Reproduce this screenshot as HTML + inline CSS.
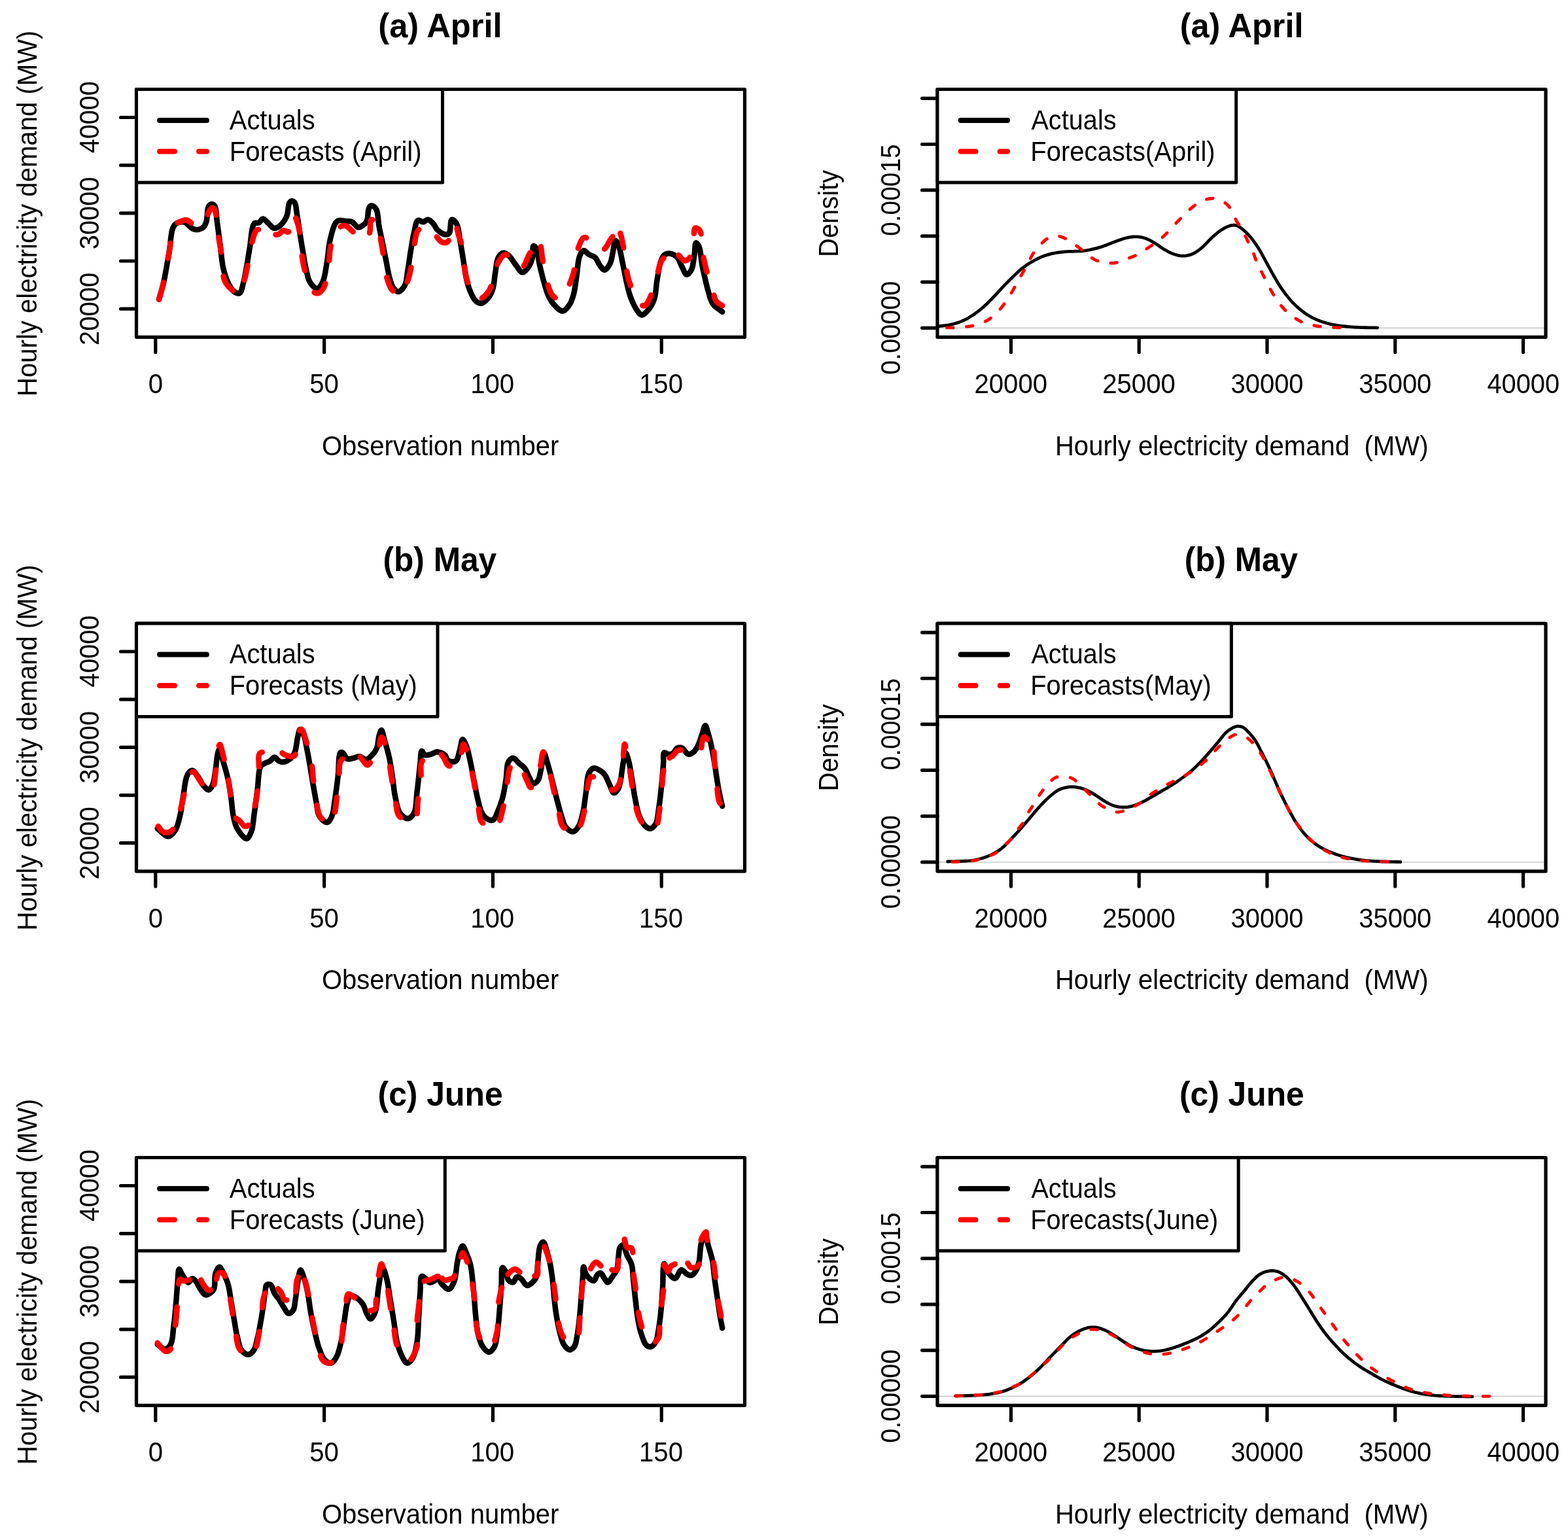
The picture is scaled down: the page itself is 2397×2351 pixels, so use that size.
<!DOCTYPE html>
<html><head><meta charset="utf-8"><title>Electricity demand forecasts</title>
<style>html,body{margin:0;padding:0;background:#fff}svg{display:block}</style>
</head><body>
<svg width="2397" height="2351" viewBox="0 0 2397 2351" font-family="&quot;Liberation Sans&quot;, Arial, sans-serif">
<rect width="2397" height="2351" fill="#fff"/>
<g>
<text x="578.3" y="56.8" textLength="189.29" lengthAdjust="spacingAndGlyphs" font-weight="bold" font-size="52">(a) April</text>
<text transform="translate(56,606.01) rotate(-90)" textLength="559.42" lengthAdjust="spacingAndGlyphs" font-size="42">Hourly electricity demand (MW)</text>
<line x1="184.6" y1="472.2" x2="208.5" y2="472.2" stroke="#000" stroke-width="5.2" stroke-linecap="round"/>
<line x1="184.6" y1="399.02" x2="208.5" y2="399.02" stroke="#000" stroke-width="5.2" stroke-linecap="round"/>
<line x1="184.6" y1="325.85" x2="208.5" y2="325.85" stroke="#000" stroke-width="5.2" stroke-linecap="round"/>
<line x1="184.6" y1="252.67" x2="208.5" y2="252.67" stroke="#000" stroke-width="5.2" stroke-linecap="round"/>
<line x1="184.6" y1="179.5" x2="208.5" y2="179.5" stroke="#000" stroke-width="5.2" stroke-linecap="round"/>
<text transform="translate(151,528.1) rotate(-90)" textLength="111.34" lengthAdjust="spacingAndGlyphs" font-size="42">20000</text>
<text transform="translate(151,381.24) rotate(-90)" textLength="110.82" lengthAdjust="spacingAndGlyphs" font-size="42">30000</text>
<text transform="translate(151,234.29) rotate(-90)" textLength="110.21" lengthAdjust="spacingAndGlyphs" font-size="42">40000</text>
<line x1="237.79" y1="517.5" x2="237.79" y2="538.4" stroke="#000" stroke-width="5.2" stroke-linecap="round"/>
<line x1="495.61" y1="517.5" x2="495.61" y2="538.4" stroke="#000" stroke-width="5.2" stroke-linecap="round"/>
<line x1="753.43" y1="517.5" x2="753.43" y2="538.4" stroke="#000" stroke-width="5.2" stroke-linecap="round"/>
<line x1="1011.25" y1="517.5" x2="1011.25" y2="538.4" stroke="#000" stroke-width="5.2" stroke-linecap="round"/>
<text x="226.64" y="601" textLength="22.35" lengthAdjust="spacingAndGlyphs" font-size="42">0</text>
<text x="473.26" y="601" textLength="44.7" lengthAdjust="spacingAndGlyphs" font-size="42">50</text>
<text x="719.17" y="601" textLength="67.05" lengthAdjust="spacingAndGlyphs" font-size="42">100</text>
<text x="976.99" y="601" textLength="67.05" lengthAdjust="spacingAndGlyphs" font-size="42">150</text>
<text x="491.9" y="695.8" textLength="362.41" lengthAdjust="spacingAndGlyphs" font-size="42">Observation number</text>
<rect x="208.5" y="136.5" width="930" height="378.8" fill="none" stroke="#000" stroke-width="5.2" stroke-linejoin="round"/>
<path d="M243.03,457.74 L244.23,453.48 L245.43,449.33 L246.63,445.17 L247.82,440.91 L249,436.45 L250.14,431.67 L251.59,424.88 L252.98,417.55 L254.35,409.86 L255.7,402.03 L257.06,394.22 L258.44,386.65 L259.58,378.96 L260.45,370.72 L261.32,362.52 L262.48,354.93 L264.19,348.56 L266.73,343.99 L268.72,342.17 L271.02,340.78 L273.52,339.81 L276.08,339.24 L278.6,339.06 L280.95,339.25 L283.27,340.12 L285.54,341.75 L287.77,343.8 L289.93,345.95 L292,347.86 L293.99,349.2 L295.24,349.79 L296.42,350.28 L297.57,350.67 L298.71,350.94 L299.88,351.09 L301.1,351.1 L302.66,350.92 L304.34,350.56 L306.05,350.03 L307.72,349.33 L309.25,348.5 L310.58,347.54 L311.64,346.5 L312.55,345.32 L313.34,344.02 L314.04,342.57 L314.69,340.98 L315.32,339.25 L316.1,335.79 L316.56,331.49 L316.9,326.83 L317.27,322.29 L317.87,318.37 L318.87,315.55 L319.55,314.56 L320.3,313.71 L321.11,313.01 L321.95,312.47 L322.79,312.13 L323.61,311.99 L324.42,312.07 L325.26,312.34 L326.1,312.78 L326.91,313.4 L327.67,314.16 L328.35,315.07 L329.43,317.66 L330.15,321.18 L330.64,325.37 L331.01,329.95 L331.39,334.67 L331.91,339.25 L332.67,344.78 L333.45,350.59 L334.25,356.59 L335.05,362.69 L335.85,368.79 L336.65,374.8 L337.38,380.83 L338.05,387 L338.72,393.17 L339.45,399.21 L340.32,404.98 L341.38,410.34 L342.35,414.31 L343.39,418.1 L344.5,421.72 L345.72,425.18 L347.04,428.5 L348.49,431.67 L349.87,434.43 L351.33,437.19 L352.88,439.83 L354.51,442.25 L356.21,444.31 L357.97,445.89 L359.32,446.79 L360.77,447.58 L362.25,448.2 L363.71,448.56 L365.07,448.61 L366.27,448.26 L367.68,446.9 L368.82,444.6 L369.78,441.65 L370.61,438.32 L371.39,434.9 L372.19,431.67 L373.13,428.02 L373.96,424.2 L374.74,420.25 L375.47,416.21 L376.19,412.11 L376.93,407.97 L377.73,403.44 L378.5,398.84 L379.25,394.17 L380.01,389.41 L380.81,384.54 L381.67,379.54 L382.61,372.96 L383.43,365.48 L384.3,357.84 L385.38,350.82 L386.82,345.16 L388.78,341.62 L389.84,340.94 L391.03,340.7 L392.28,340.71 L393.55,340.79 L394.77,340.76 L395.89,340.43 L396.97,339.6 L397.95,338.4 L398.88,337.08 L399.81,335.84 L400.77,334.91 L401.82,334.51 L403.1,334.79 L404.46,335.65 L405.87,336.9 L407.3,338.36 L408.72,339.83 L410.11,341.14 L411.51,342.49 L412.9,344.01 L414.29,345.55 L415.67,346.96 L417.04,348.07 L418.41,348.73 L419.4,348.9 L420.4,348.87 L421.39,348.69 L422.37,348.39 L423.35,347.99 L424.33,347.54 L425.54,346.88 L426.76,346.06 L427.97,345.1 L429.17,344.03 L430.33,342.86 L431.44,341.62 L432.77,339.98 L434.08,338.19 L435.34,336.25 L436.52,334.19 L437.6,332.02 L438.55,329.77 L439.39,326.73 L439.96,323.26 L440.37,319.63 L440.78,316.15 L441.31,313.11 L442.11,310.81 L442.62,309.91 L443.16,309.1 L443.74,308.41 L444.35,307.86 L444.99,307.46 L445.66,307.25 L446.41,307.24 L447.23,307.4 L448.08,307.74 L448.93,308.23 L449.71,308.86 L450.4,309.62 L451.38,311.52 L452.08,314.08 L452.6,317.11 L453.02,320.46 L453.44,323.95 L453.95,327.4 L454.74,332.05 L455.52,337.08 L456.31,342.35 L457.1,347.72 L457.89,353.05 L458.69,358.21 L459.47,363.03 L460.25,367.82 L461.04,372.58 L461.83,377.3 L462.63,381.99 L463.43,386.65 L464.19,391.11 L464.92,395.59 L465.65,400.03 L466.42,404.4 L467.25,408.64 L468.17,412.71 L468.98,416.17 L469.76,419.59 L470.58,422.93 L471.53,426.1 L472.67,429.04 L474.1,431.67 L475.6,433.84 L477.34,436.03 L479.23,438.05 L481.16,439.71 L483.04,440.81 L484.76,441.15 L486.28,440.7 L487.76,439.61 L489.2,438.03 L490.58,436.09 L491.87,433.93 L493.06,431.67 L494.74,427.41 L496.11,422.24 L497.26,416.47 L498.27,410.38 L499.21,404.29 L500.17,398.49 L501.01,392.93 L501.66,387.3 L502.25,381.66 L502.9,376.08 L503.75,370.61 L504.91,365.32 L506.21,360.19 L507.62,354.75 L509.2,349.42 L511.01,344.59 L513.11,340.67 L515.57,338.06 L517.49,337.2 L519.64,336.93 L521.93,337.06 L524.24,337.41 L526.5,337.81 L528.61,338.06 L530.29,338.13 L531.92,338.17 L533.51,338.24 L535.07,338.4 L536.59,338.71 L538.09,339.25 L539.76,340.36 L541.37,341.97 L542.95,343.79 L544.5,345.52 L546.03,346.87 L547.57,347.54 L548.78,347.55 L550.01,347.25 L551.23,346.71 L552.43,346.01 L553.58,345.24 L554.68,344.46 L555.79,343.64 L556.88,342.76 L557.92,341.8 L558.9,340.71 L559.8,339.47 L560.6,338.06 L561.52,335.23 L562.1,331.63 L562.49,327.69 L562.86,323.81 L563.36,320.42 L564.15,317.92 L564.66,317.01 L565.19,316.19 L565.76,315.48 L566.36,314.93 L567.01,314.55 L567.71,314.36 L568.77,314.45 L569.99,314.88 L571.29,315.61 L572.58,316.58 L573.79,317.76 L574.82,319.1 L576.2,322.25 L577.13,326.39 L577.77,331.19 L578.29,336.34 L578.83,341.51 L579.56,346.36 L580.49,351.1 L581.48,355.89 L582.5,360.7 L583.53,365.49 L584.53,370.2 L585.48,374.8 L586.3,378.84 L587.09,382.77 L587.85,386.65 L588.62,390.52 L589.4,394.45 L590.22,398.49 L591.14,403.21 L592.05,408.17 L592.98,413.2 L593.96,418.12 L595,422.76 L596.15,426.93 L597.01,429.72 L597.87,432.41 L598.77,434.95 L599.74,437.28 L600.83,439.37 L602.07,441.15 L603.12,442.36 L604.26,443.51 L605.46,444.52 L606.7,445.31 L607.95,445.79 L609.18,445.89 L610.78,445.39 L612.48,444.26 L614.2,442.66 L615.86,440.72 L617.37,438.59 L618.66,436.41 L619.99,433.23 L620.94,429.56 L621.64,425.55 L622.2,421.32 L622.75,417 L623.4,412.71 L624.23,407.79 L625.02,402.65 L625.79,397.4 L626.56,392.13 L627.34,386.94 L628.14,381.91 L628.89,377.38 L629.61,372.88 L630.35,368.45 L631.12,364.11 L631.96,359.9 L632.88,355.84 L633.68,352.17 L634.43,348.26 L635.24,344.45 L636.17,341.06 L637.33,338.42 L638.81,336.88 L640,336.66 L641.35,337.02 L642.79,337.71 L644.27,338.48 L645.73,339.07 L647.1,339.25 L648.33,338.89 L649.53,338.17 L650.7,337.3 L651.86,336.46 L653.03,335.86 L654.21,335.69 L655.61,336.08 L657.06,336.9 L658.5,338.04 L659.92,339.36 L661.26,340.75 L662.51,342.09 L663.6,343.47 L664.53,344.99 L665.39,346.58 L666.27,348.18 L667.26,349.7 L668.43,351.1 L670,352.55 L671.79,354 L673.71,355.38 L675.64,356.6 L677.47,357.57 L679.09,358.21 L679.98,358.43 L680.82,358.55 L681.62,358.58 L682.4,358.53 L683.13,358.4 L683.83,358.21 L684.45,357.99 L685.04,357.74 L685.6,357.42 L686.13,357.01 L686.64,356.49 L687.11,355.84 L687.91,353.27 L688.37,349.36 L688.69,344.88 L689.05,340.6 L689.65,337.28 L690.66,335.69 L691.66,335.69 L692.85,336.24 L694.15,337.22 L695.47,338.52 L696.7,340.03 L697.77,341.62 L699.27,345.03 L700.42,349.39 L701.34,354.4 L702.13,359.72 L702.88,365.04 L703.7,370.06 L704.56,374.79 L705.36,379.53 L706.14,384.27 L706.9,389.01 L707.66,393.75 L708.44,398.49 L709.2,403.31 L709.92,408.2 L710.64,413.1 L711.4,417.91 L712.24,422.55 L713.18,426.93 L714.02,430.38 L714.9,433.69 L715.82,436.89 L716.81,439.99 L717.9,442.98 L719.1,445.89 L720.29,448.56 L721.54,451.25 L722.87,453.86 L724.28,456.28 L725.79,458.4 L727.4,460.11 L728.67,461.16 L730.01,462.08 L731.41,462.84 L732.83,463.39 L734.27,463.68 L735.69,463.67 L737.48,463.14 L739.35,462.1 L741.24,460.68 L743.07,458.99 L744.8,457.18 L746.36,455.37 L747.85,453.37 L749.21,451.2 L750.44,448.89 L751.55,446.43 L752.55,443.85 L753.47,441.15 L754.38,437.6 L755.03,433.76 L755.53,429.73 L755.96,425.6 L756.43,421.48 L757.02,417.45 L757.66,413.32 L758.23,408.98 L758.84,404.63 L759.57,400.51 L760.52,396.81 L761.76,393.75 L762.74,392.07 L763.83,390.5 L765.01,389.1 L766.26,387.95 L767.55,387.11 L768.87,386.65 L770.17,386.59 L771.53,386.88 L772.93,387.45 L774.36,388.23 L775.78,389.17 L777.17,390.2 L779.17,392.1 L781.18,394.56 L783.17,397.34 L785.14,400.26 L787.09,403.08 L789.02,405.6 L790.62,407.75 L792.2,410.08 L793.75,412.34 L795.31,414.29 L796.89,415.68 L798.49,416.27 L800.09,415.96 L801.76,414.98 L803.44,413.5 L805.08,411.72 L806.61,409.81 L807.97,407.97 L809.29,405.94 L810.46,403.71 L811.5,401.33 L812.41,398.85 L813.21,396.31 L813.9,393.75 L814.37,390.58 L814.53,386.87 L814.55,383.09 L814.62,379.7 L814.89,377.18 L815.56,375.98 L816.15,375.96 L816.85,376.26 L817.62,376.84 L818.41,377.62 L819.16,378.54 L819.82,379.54 L820.92,382.19 L821.76,385.73 L822.44,389.88 L823.07,394.37 L823.74,398.91 L824.56,403.23 L825.62,407.88 L826.75,412.69 L827.93,417.57 L829.15,422.43 L830.4,427.16 L831.67,431.67 L832.76,435.48 L833.83,439.23 L834.93,442.88 L836.08,446.41 L837.36,449.8 L838.78,453 L840.14,455.67 L841.59,458.24 L843.11,460.71 L844.73,463.03 L846.44,465.21 L848.26,467.22 L850.08,469.08 L852.05,470.98 L854.11,472.77 L856.18,474.24 L858.2,475.22 L860.11,475.52 L861.82,475.09 L863.5,474.09 L865.15,472.65 L866.73,470.93 L868.22,469.08 L869.59,467.22 L871.08,464.94 L872.41,462.42 L873.62,459.71 L874.72,456.82 L875.74,453.78 L876.7,450.63 L877.77,446.39 L878.64,441.81 L879.38,437.01 L880.05,432.07 L880.72,427.1 L881.44,422.19 L882.16,416.89 L882.77,411.25 L883.38,405.57 L884.08,400.16 L884.98,395.33 L886.18,391.38 L887.01,389.45 L887.89,387.59 L888.85,385.92 L889.87,384.55 L890.95,383.57 L892.11,383.09 L893.34,383.27 L894.66,384.06 L896.04,385.24 L897.47,386.61 L898.93,387.94 L900.4,389.02 L901.96,389.82 L903.6,390.5 L905.27,391.14 L906.91,391.83 L908.46,392.68 L909.88,393.75 L911.28,395.38 L912.49,397.34 L913.6,399.49 L914.67,401.68 L915.77,403.77 L916.99,405.6 L918.12,407.12 L919.28,408.72 L920.47,410.25 L921.67,411.54 L922.89,412.41 L924.1,412.71 L925.51,412.26 L926.99,411.11 L928.47,409.44 L929.91,407.46 L931.24,405.32 L932.39,403.23 L933.55,400.52 L934.47,397.46 L935.21,394.18 L935.85,390.8 L936.47,387.46 L937.13,384.28 L937.73,381.09 L938.24,377.52 L938.73,373.97 L939.26,370.87 L939.89,368.64 L940.69,367.69 L941.38,367.89 L942.16,368.67 L942.99,369.88 L943.83,371.39 L944.66,373.08 L945.43,374.8 L946.78,378.64 L948.03,383.44 L949.21,388.86 L950.34,394.59 L951.44,400.28 L952.54,405.6 L953.56,410.46 L954.54,415.32 L955.5,420.16 L956.45,424.92 L957.43,429.56 L958.46,434.04 L959.37,437.81 L960.24,441.47 L961.14,445.03 L962.1,448.53 L963.17,451.97 L964.39,455.37 L965.74,458.76 L967.24,462.21 L968.84,465.61 L970.5,468.84 L972.19,471.79 L973.87,474.33 L975.01,475.95 L976.14,477.55 L977.29,479.01 L978.47,480.22 L979.7,481.07 L980.98,481.44 L982.47,481.21 L984.07,480.41 L985.71,479.18 L987.36,477.66 L988.96,476 L990.46,474.33 L992.26,472.13 L994.02,469.67 L995.69,466.98 L997.26,464.08 L998.68,460.99 L999.94,457.74 L1001.19,453.22 L1002.08,448.22 L1002.73,442.93 L1003.3,437.5 L1003.9,432.11 L1004.68,426.93 L1005.53,421.93 L1006.39,416.76 L1007.28,411.62 L1008.24,406.72 L1009.34,402.28 L1010.6,398.49 L1011.44,396.45 L1012.28,394.56 L1013.17,392.83 L1014.15,391.31 L1015.26,390.03 L1016.52,389.02 L1017.89,388.32 L1019.43,387.84 L1021.07,387.57 L1022.75,387.48 L1024.42,387.57 L1026,387.83 L1027.67,388.32 L1029.34,389.05 L1031,389.98 L1032.59,391.1 L1034.1,392.36 L1035.48,393.75 L1036.93,395.69 L1038.17,397.98 L1039.29,400.48 L1040.35,403.06 L1041.43,405.6 L1042.59,407.97 L1043.74,410.28 L1044.88,412.83 L1046.04,415.35 L1047.22,417.54 L1048.44,419.13 L1049.7,419.82 L1050.87,419.63 L1052.12,418.87 L1053.4,417.66 L1054.64,416.15 L1055.8,414.45 L1056.81,412.71 L1058.07,409.62 L1059.04,405.83 L1059.79,401.62 L1060.41,397.24 L1060.97,392.95 L1061.55,389.02 L1061.97,385.53 L1062.24,381.7 L1062.46,377.94 L1062.75,374.66 L1063.2,372.29 L1063.92,371.24 L1064.58,371.36 L1065.37,371.98 L1066.23,372.97 L1067.11,374.24 L1067.93,375.68 L1068.66,377.17 L1069.79,380.66 L1070.66,385.15 L1071.36,390.25 L1071.99,395.61 L1072.64,400.85 L1073.4,405.6 L1074.16,409.36 L1074.93,413 L1075.72,416.55 L1076.52,420.04 L1077.33,423.49 L1078.14,426.93 L1078.89,430.17 L1079.62,433.35 L1080.36,436.51 L1081.13,439.64 L1081.96,442.77 L1082.88,445.89 L1083.84,449.15 L1084.79,452.49 L1085.8,455.81 L1086.95,459.04 L1088.32,462.08 L1089.99,464.85 L1091.94,467.18 L1094.19,469.26 L1096.65,471.16 L1099.2,472.98 L1101.76,474.8 L1104.21,476.7" fill="none" stroke="#000" stroke-width="8.5" stroke-linecap="round" stroke-linejoin="round"/>
<path d="M243.03,457.74 L244.23,453.48" fill="none" stroke="#f00" stroke-width="8.5" stroke-linecap="round" stroke-linejoin="round" stroke-dasharray="22.7 37.3"/>
<path d="M244.23,453.48 L245.43,449.33 L246.63,445.17 L247.82,440.91 L249,436.45 L250.14,431.67 L251.59,424.87 L252.98,417.52 L254.34,409.82 L255.69,401.98 L257.05,394.18" fill="none" stroke="#f00" stroke-width="8.5" stroke-linecap="round" stroke-linejoin="round" stroke-dasharray="22.7 37.3"/>
<path d="M257.05,394.18 L258.44,386.65 L259.64,379.2 L260.65,371.33 L261.67,363.5 L262.9,356.2 L264.52,349.93 L266.73,345.17 L268.27,343.28 L269.99,341.77 L271.83,340.57" fill="none" stroke="#f00" stroke-width="8.5" stroke-linecap="round" stroke-linejoin="round" stroke-dasharray="22.7 37.3"/>
<path d="M271.83,340.57 L273.72,339.6 L275.6,338.79 L277.4,338.06 L278.8,337.5 L280.19,336.99 L281.57,336.59 L282.95,336.33 L284.32,336.25 L285.69,336.4 L287.27,336.98 L288.82,337.98 L290.36,339.22 L291.92,340.55 L293.52,341.8 L295.17,342.8 L296.91,343.71 L298.75,344.68 L300.62,345.57 L302.47,346.25 L304.23,346.56 L305.84,346.36 L307.45,345.39 L308.9,343.75 L310.24,341.64 L311.52,339.26 L312.8,336.82 L314.13,334.51 L315.74,331.62 L317.37,328.22 L319,324.74" fill="none" stroke="#f00" stroke-width="8.5" stroke-linecap="round" stroke-linejoin="round" stroke-dasharray="22.7 37.3"/>
<path d="M319,324.74 L320.6,321.59 L322.15,319.17 L323.61,317.92 L324.24,317.77 L324.87,317.79 L325.48,317.96 L326.08,318.24 L326.64,318.63 L327.17,319.1 L327.96,320.18 L328.64,321.62 L329.22,323.36 L329.74,325.34 L330.23,327.5 L330.72,329.77 L331.49,334.3 L332.11,339.71 L332.64,345.65 L333.14,351.74 L333.67,357.63 L334.28,362.95" fill="none" stroke="#f00" stroke-width="8.5" stroke-linecap="round" stroke-linejoin="round" stroke-dasharray="22.7 37.3"/>
<path d="M334.28,362.95 L334.84,366.71 L335.44,370.18 L336.06,373.52 L336.68,376.88 L337.27,380.42 L337.83,384.28 L338.43,390.22 L338.9,396.92 L339.32,403.93 L339.81,410.79 L340.47,417.03 L341.38,422.19 L342.01,424.63 L342.65,426.79" fill="none" stroke="#f00" stroke-width="8.5" stroke-linecap="round" stroke-linejoin="round" stroke-dasharray="22.7 37.3"/>
<path d="M342.65,426.79 L343.35,428.74 L344.14,430.56 L345.05,432.3 L346.12,434.04 L347.44,435.84 L348.95,437.61 L350.59,439.29 L352.29,440.87 L353.99,442.29 L355.6,443.52 L356.81,444.43 L358.01,445.36 L359.21,446.19 L360.4,446.83 L361.57,447.16 L362.71,447.08 L364.43,446.01 L366.13,443.96 L367.8,441.22 L369.39,438.07 L370.87,434.8 L372.19,431.67 L373.51,428.13" fill="none" stroke="#f00" stroke-width="8.5" stroke-linecap="round" stroke-linejoin="round" stroke-dasharray="22.7 37.3"/>
<path d="M373.51,428.13 L374.6,424.39 L375.55,420.47 L376.41,416.41 L377.24,412.24 L378.12,407.97 L379.11,402.7 L379.98,397.11 L380.82,391.35 L381.72,385.6 L382.76,380.02 L384.04,374.8 L385.29,370.15" fill="none" stroke="#f00" stroke-width="8.5" stroke-linecap="round" stroke-linejoin="round" stroke-dasharray="22.7 37.3"/>
<path d="M385.29,370.15 L386.59,365.22 L388,360.42 L389.58,356.18 L391.4,352.93 L393.52,351.1 L395.25,350.88 L397.14,351.44 L399.16,352.5 L401.24,353.77 L403.33,354.98 L405.37,355.84 L407.35,356.39 L409.37,356.89 L411.4,357.32 L413.41,357.69 L415.36,357.99 L417.22,358.21 L418.69,358.37 L420.12,358.53 L421.5,358.63" fill="none" stroke="#f00" stroke-width="8.5" stroke-linecap="round" stroke-linejoin="round" stroke-dasharray="22.7 37.3"/>
<path d="M421.5,358.63 L422.86,358.65 L424.19,358.52 L425.52,358.21 L426.95,357.47 L428.35,356.35 L429.72,355.05 L431.08,353.79 L432.44,352.8 L433.81,352.28 L435.02,352.41 L436.25,352.97 L437.48,353.72 L438.69,354.42 L439.84,354.81 L440.92,354.65 L442.67,352.14 L444.15,347.36 L445.44,341.51 L446.65,335.82 L447.87,331.5 L449.22,329.77 L450.62,330.76 L452.12,333.45" fill="none" stroke="#f00" stroke-width="8.5" stroke-linecap="round" stroke-linejoin="round" stroke-dasharray="22.7 37.3"/>
<path d="M452.12,333.45 L453.63,337.35 L455.08,341.92 L456.4,346.68 L457.51,351.1 L458.52,356.52 L459.18,362.42 L459.63,368.61 L460,374.85 L460.44,380.93 L461.06,386.65 L461.71,391.21" fill="none" stroke="#f00" stroke-width="8.5" stroke-linecap="round" stroke-linejoin="round" stroke-dasharray="22.7 37.3"/>
<path d="M461.71,391.21 L462.36,395.59 L463.05,399.84 L463.82,404.06 L464.73,408.32 L465.8,412.71 L467.16,418.07 L468.66,423.9 L470.31,429.78 L472.14,435.3 L474.19,440.02 L476.47,443.52 L477.92,445 L479.48,446.25 L481.12,447.25 L482.77,447.95" fill="none" stroke="#f00" stroke-width="8.5" stroke-linecap="round" stroke-linejoin="round" stroke-dasharray="22.7 37.3"/>
<path d="M482.77,447.95 L484.4,448.3 L485.95,448.26 L487.65,447.7 L489.35,446.6 L491.01,445.08 L492.6,443.2 L494.09,441.08 L495.43,438.78 L497.26,434.25 L498.7,428.63 L499.85,422.32 L500.8,415.72 L501.67,409.23 L502.54,403.23 L503.18,398.3" fill="none" stroke="#f00" stroke-width="8.5" stroke-linecap="round" stroke-linejoin="round" stroke-dasharray="22.7 37.3"/>
<path d="M503.18,398.3 L503.58,393.46 L503.91,388.71 L504.34,384.03 L505.01,379.39 L506.09,374.8 L507.66,369.8 L509.56,364.48 L511.73,359.21 L514.09,354.37 L516.58,350.36 L519.13,347.54 L520.62,346.49" fill="none" stroke="#f00" stroke-width="8.5" stroke-linecap="round" stroke-linejoin="round" stroke-dasharray="22.7 37.3"/>
<path d="M520.62,346.49 L522.17,345.72 L523.77,345.21 L525.39,344.95 L527.01,344.94 L528.61,345.17 L530.56,346.02 L532.5,347.53 L534.45,349.41 L536.41,351.41 L538.4,353.25 L540.46,354.65 L542.37,355.56 L544.32,356.3 L546.31,356.92 L548.31,357.43 L550.32,357.85 L552.31,358.21 L554.28,358.61 L556.36,359.08 L558.43,359.47 L560.41,359.64 L562.19,359.42 L563.68,358.68 L565.08,356" fill="none" stroke="#f00" stroke-width="8.5" stroke-linecap="round" stroke-linejoin="round" stroke-dasharray="22.7 37.3"/>
<path d="M565.08,356 L565.76,351.61 L566.04,346.44 L566.24,341.44 L566.69,337.55 L567.71,335.69 L568.72,335.7 L569.91,336.29 L571.2,337.31 L572.5,338.64 L573.74,340.12 L574.82,341.62 L576.14,344.03 L577.25,346.91 L578.22,350.12 L579.09,353.56 L579.92,357.08 L580.74,360.58 L581.67,364.62" fill="none" stroke="#f00" stroke-width="8.5" stroke-linecap="round" stroke-linejoin="round" stroke-dasharray="22.7 37.3"/>
<path d="M581.67,364.62 L582.51,368.82 L583.29,373.13 L584.02,377.55 L584.75,382.06 L585.48,386.65 L586.23,392.01 L586.87,397.64 L587.48,403.38 L588.18,409.09 L589.06,414.62 L590.22,419.82 L591.43,424.34" fill="none" stroke="#f00" stroke-width="8.5" stroke-linecap="round" stroke-linejoin="round" stroke-dasharray="22.7 37.3"/>
<path d="M591.43,424.34 L592.75,429 L594.2,433.51 L595.82,437.62 L597.65,441.05 L599.7,443.52 L601.13,444.58 L602.67,445.37 L604.29,445.91 L605.95,446.18 L607.59,446.18 L609.18,445.89 L611.26,444.98 L613.38,443.45 L615.49,441.46 L617.51,439.13 L619.38,436.61 L621.03,434.04 L622.71,430.74" fill="none" stroke="#f00" stroke-width="8.5" stroke-linecap="round" stroke-linejoin="round" stroke-dasharray="22.7 37.3"/>
<path d="M622.71,430.74 L624.1,427.06 L625.26,423.11 L626.28,418.95 L627.21,414.67 L628.14,410.34 L629.11,405.11 L629.88,399.57 L630.54,393.86 L631.19,388.12 L631.94,382.51 L632.88,377.17 L633.76,372.23" fill="none" stroke="#f00" stroke-width="8.5" stroke-linecap="round" stroke-linejoin="round" stroke-dasharray="22.7 37.3"/>
<path d="M633.76,372.23 L634.57,366.98 L635.46,361.82 L636.57,357.18 L638.03,353.46 L639.99,351.1 L641.64,350.39 L643.54,350.24 L645.6,350.5 L647.72,351.02 L649.83,351.66 L651.84,352.28 L653.87,352.94 L655.89,353.74 L657.88,354.67 L659.86,355.73 L661.79,356.91 L663.69,358.21 L665.76,360.02 L667.76,362.26" fill="none" stroke="#f00" stroke-width="8.5" stroke-linecap="round" stroke-linejoin="round" stroke-dasharray="22.7 37.3"/>
<path d="M667.76,362.26 L669.72,364.66 L671.65,366.93 L673.59,368.82 L675.54,370.06 L676.93,370.56 L678.34,370.91 L679.74,371.07 L681.14,371.01 L682.5,370.68 L683.83,370.06 L686.21,367.3 L688.57,362.6 L690.85,357.05 L692.99,351.76 L694.92,347.83 L696.59,346.36 L697.62,347.18 L698.49,349.19" fill="none" stroke="#f00" stroke-width="8.5" stroke-linecap="round" stroke-linejoin="round" stroke-dasharray="22.7 37.3"/>
<path d="M698.49,349.19 L699.24,351.95 L699.93,355.04 L700.61,358.06 L701.33,360.58 L701.95,362.2 L702.56,363.64 L703.17,365.03 L703.76,366.49 L704.34,368.12 L704.88,370.06 L705.81,374.73 L706.61,380.46 L707.34,386.84 L708.05,393.44 L708.8,399.84 L709.62,405.6 L710.31,409.85" fill="none" stroke="#f00" stroke-width="8.5" stroke-linecap="round" stroke-linejoin="round" stroke-dasharray="22.7 37.3"/>
<path d="M710.31,409.85 L710.95,413.9 L711.61,417.81 L712.35,421.65 L713.25,425.46 L714.36,429.3 L715.74,433.56 L717.28,438.09 L718.98,442.59 L720.84,446.78 L722.86,450.35 L725.03,453 L726.48,454.23 L728.01,455.25 L729.6,456.03 L731.23,456.53 L732.87,456.72 L734.51,456.56 L736.89,455.6" fill="none" stroke="#f00" stroke-width="8.5" stroke-linecap="round" stroke-linejoin="round" stroke-dasharray="22.7 37.3"/>
<path d="M736.89,455.6 L739.4,453.85 L741.94,451.47 L744.4,448.65 L746.7,445.54 L748.73,442.34 L750.83,437.49 L752.36,431.74 L753.59,425.49 L754.8,419.17 L756.24,413.2 L758.21,407.97 L760.23,403.95" fill="none" stroke="#f00" stroke-width="8.5" stroke-linecap="round" stroke-linejoin="round" stroke-dasharray="22.7 37.3"/>
<path d="M760.23,403.95 L762.49,399.78 L764.91,395.85 L767.42,392.5 L769.95,390.1 L772.43,389.02 L774.36,389.33 L776.29,390.57 L778.23,392.42 L780.2,394.56 L782.21,396.69 L784.28,398.49 L786.59,400.4 L789.03,402.62 L791.52,404.83 L793.98,406.68 L796.33,407.84 L798.49,407.97 L800.75,406.41" fill="none" stroke="#f00" stroke-width="8.5" stroke-linecap="round" stroke-linejoin="round" stroke-dasharray="22.7 37.3"/>
<path d="M800.75,406.41 L802.71,403.28 L804.52,399.16 L806.31,394.63 L808.2,390.27 L810.34,386.65 L812.63,383.6 L815.19,380.28 L817.84,377.09 L820.4,374.45 L822.7,372.76 L824.56,372.43 L826,373.94 L826.95,377.1" fill="none" stroke="#f00" stroke-width="8.5" stroke-linecap="round" stroke-linejoin="round" stroke-dasharray="22.7 37.3"/>
<path d="M826.95,377.1 L827.58,381.41 L828.07,386.35 L828.59,391.42 L829.3,396.12 L830.34,401.75 L831.37,407.81 L832.44,414.07 L833.6,420.29 L834.91,426.24 L836.41,431.67 L837.72,435.82" fill="none" stroke="#f00" stroke-width="8.5" stroke-linecap="round" stroke-linejoin="round" stroke-dasharray="22.7 37.3"/>
<path d="M837.72,435.82 L839.07,439.97 L840.51,443.93 L842.09,447.55 L843.87,450.63 L845.89,453 L847.5,454.28 L849.28,455.37 L851.15,456.2 L853.03,456.71 L854.86,456.85 L856.56,456.56 L858.56,455.35 L860.46,453.26 L862.25,450.55 L863.97,447.46 L865.62,444.24 L867.22,441.15 L869.02,437.63 L870.74,433.95" fill="none" stroke="#f00" stroke-width="8.5" stroke-linecap="round" stroke-linejoin="round" stroke-dasharray="22.7 37.3"/>
<path d="M870.74,433.95 L872.37,430.09 L873.91,426.06 L875.35,421.85 L876.7,417.45 L878.09,411.5 L879.17,404.91 L880.1,398.05 L881.07,391.29 L882.25,384.99 L883.81,379.54" fill="none" stroke="#f00" stroke-width="8.5" stroke-linecap="round" stroke-linejoin="round" stroke-dasharray="22.7 37.3"/>
<path d="M883.81,379.54 L885.11,375.97 L886.49,372.37 L887.96,369.01 L889.57,366.14 L891.34,364.03 L893.29,362.95 L895.36,363.11 L897.65,364.29 L900.08,366.16 L902.58,368.36 L905.08,370.56 L907.51,372.43 L909.91,374.28 L912.34,376.46 L914.78,378.64 L917.18,380.49 L919.51,381.69 L921.73,381.91 L924.1,380.65" fill="none" stroke="#f00" stroke-width="8.5" stroke-linecap="round" stroke-linejoin="round" stroke-dasharray="22.7 37.3"/>
<path d="M924.1,380.65 L926.34,378.08 L928.49,374.66 L930.58,370.87 L932.66,367.2 L934.76,364.13 L936.61,361.67 L938.51,358.94 L940.39,356.31 L942.21,354.09 L943.91,352.64 L945.43,352.28 L947.02,353.62 L948.38,356.57" fill="none" stroke="#f00" stroke-width="8.5" stroke-linecap="round" stroke-linejoin="round" stroke-dasharray="22.7 37.3"/>
<path d="M948.38,356.57 L949.57,360.65 L950.62,365.37 L951.6,370.25 L952.54,374.8 L953.55,380.31 L954.35,386.28 L955.02,392.5 L955.66,398.73 L956.38,404.75 L957.28,410.34 L958.09,414.57" fill="none" stroke="#f00" stroke-width="8.5" stroke-linecap="round" stroke-linejoin="round" stroke-dasharray="22.7 37.3"/>
<path d="M958.09,414.57 L958.88,418.55 L959.72,422.38 L960.68,426.18 L961.82,430.03 L963.2,434.04 L965.25,439.42 L967.67,445.4 L970.35,451.46 L973.15,457.07 L975.95,461.71 L978.61,464.85 L979.81,465.8 L981.02,466.56 L982.23,467.1" fill="none" stroke="#f00" stroke-width="8.5" stroke-linecap="round" stroke-linejoin="round" stroke-dasharray="22.7 37.3"/>
<path d="M982.23,467.1 L983.43,467.41 L984.6,467.46 L985.72,467.22 L987.24,466.26 L988.69,464.59 L990.07,462.38 L991.41,459.81 L992.71,457.02 L994.01,454.19 L995.94,449.4 L997.77,443.79 L999.54,437.69 L1001.27,431.44 L1002.97,425.38 L1004.68,419.82 L1005.99,415.38" fill="none" stroke="#f00" stroke-width="8.5" stroke-linecap="round" stroke-linejoin="round" stroke-dasharray="22.7 37.3"/>
<path d="M1005.99,415.38 L1007.16,410.85 L1008.31,406.44 L1009.58,402.38 L1011.09,398.87 L1012.97,396.12 L1014.5,394.77 L1016.19,393.77 L1017.99,393.03 L1019.86,392.45 L1021.75,391.93 L1023.63,391.38 L1025.57,390.72 L1027.58,390.02 L1029.62,389.38 L1031.64,388.93 L1033.61,388.77 L1035.48,389.02 L1037.4,390.06" fill="none" stroke="#f00" stroke-width="8.5" stroke-linecap="round" stroke-linejoin="round" stroke-dasharray="22.7 37.3"/>
<path d="M1037.4,390.06 L1039.23,391.87 L1041,394.02 L1042.72,396.11 L1044.43,397.74 L1046.15,398.49 L1047.59,398.46 L1049.07,398.07 L1050.54,397.37 L1051.96,396.4 L1053.27,395.18 L1054.44,393.75 L1056.14,390.14 L1057.39,385.17 L1058.32,379.41 L1059.04,373.41 L1059.68,367.73 L1060.37,362.95 L1060.74,360.01 L1060.95,357" fill="none" stroke="#f00" stroke-width="8.5" stroke-linecap="round" stroke-linejoin="round" stroke-dasharray="22.7 37.3"/>
<path d="M1060.95,357 L1061.12,354.14 L1061.38,351.65 L1061.88,349.77 L1062.74,348.73 L1063.69,348.52 L1064.89,348.71 L1066.2,349.22 L1067.54,350.02 L1068.79,351.06 L1069.85,352.28 L1071.45,356.18 L1072.41,361.83 L1072.97,368.57 L1073.37,375.78 L1073.83,382.81 L1074.59,389.02 L1075.44,393.61" fill="none" stroke="#f00" stroke-width="8.5" stroke-linecap="round" stroke-linejoin="round" stroke-dasharray="22.7 37.3"/>
<path d="M1075.44,393.61 L1076.34,397.98 L1077.28,402.23 L1078.28,406.43 L1079.35,410.68 L1080.51,415.08 L1081.95,420.22 L1083.55,425.62 L1085.25,431.09 L1086.94,436.42 L1088.55,441.42 L1089.99,445.89 L1090.79,448.66 L1091.44,451.28" fill="none" stroke="#f00" stroke-width="8.5" stroke-linecap="round" stroke-linejoin="round" stroke-dasharray="22.7 37.3"/>
<path d="M1091.44,451.28 L1092.06,453.76 L1092.74,456.06 L1093.59,458.19 L1094.73,460.11 L1096.02,461.6 L1097.52,462.87 L1099.16,463.99 L1100.87,465.04 L1102.57,466.1 L1104.21,467.22" fill="none" stroke="#f00" stroke-width="8.5" stroke-linecap="round" stroke-linejoin="round" stroke-dasharray="22.7 37.3"/>
<rect x="208.5" y="136.5" width="468" height="142.5" fill="#fff" stroke="#000" stroke-width="5" stroke-linejoin="round"/>
<line x1="244" y1="184" x2="316" y2="184" stroke="#000" stroke-width="7.8" stroke-linecap="round"/>
<line x1="244" y1="231.5" x2="316" y2="231.5" stroke="#f00" stroke-width="7.8" stroke-linecap="round" stroke-dasharray="23 37"/>
<text x="350.8" y="197.9" textLength="130.87" lengthAdjust="spacingAndGlyphs" font-size="42">Actuals</text>
<text x="350.8" y="245.7" textLength="293.79" lengthAdjust="spacingAndGlyphs" font-size="42">Forecasts (April)</text>
</g>
<g>
<text x="1803.7" y="56.8" textLength="188.77" lengthAdjust="spacingAndGlyphs" font-weight="bold" font-size="52">(a) April</text>
<text transform="translate(1281.2,392.89) rotate(-90)" textLength="132.97" lengthAdjust="spacingAndGlyphs" font-size="42">Density</text>
<line x1="1409.6" y1="501.3" x2="1433" y2="501.3" stroke="#000" stroke-width="5.2" stroke-linecap="round"/>
<line x1="1409.6" y1="431.1" x2="1433" y2="431.1" stroke="#000" stroke-width="5.2" stroke-linecap="round"/>
<line x1="1409.6" y1="360.9" x2="1433" y2="360.9" stroke="#000" stroke-width="5.2" stroke-linecap="round"/>
<line x1="1409.6" y1="290.7" x2="1433" y2="290.7" stroke="#000" stroke-width="5.2" stroke-linecap="round"/>
<line x1="1409.6" y1="220.5" x2="1433" y2="220.5" stroke="#000" stroke-width="5.2" stroke-linecap="round"/>
<line x1="1409.6" y1="150.3" x2="1433" y2="150.3" stroke="#000" stroke-width="5.2" stroke-linecap="round"/>
<text transform="translate(1375.7,572.78) rotate(-90)" textLength="143.06" lengthAdjust="spacingAndGlyphs" font-size="42">0.00000</text>
<text transform="translate(1375.7,360.86) rotate(-90)" textLength="140.5" lengthAdjust="spacingAndGlyphs" font-size="42">0.00015</text>
<line x1="1545.5" y1="517.5" x2="1545.5" y2="538.4" stroke="#000" stroke-width="5.2" stroke-linecap="round"/>
<text x="1489.39" y="601" textLength="111.75" lengthAdjust="spacingAndGlyphs" font-size="42">20000</text>
<line x1="1741.25" y1="517.5" x2="1741.25" y2="538.4" stroke="#000" stroke-width="5.2" stroke-linecap="round"/>
<text x="1685.14" y="601" textLength="111.75" lengthAdjust="spacingAndGlyphs" font-size="42">25000</text>
<line x1="1937" y1="517.5" x2="1937" y2="538.4" stroke="#000" stroke-width="5.2" stroke-linecap="round"/>
<text x="1881.4" y="601" textLength="111.23" lengthAdjust="spacingAndGlyphs" font-size="42">30000</text>
<line x1="2132.75" y1="517.5" x2="2132.75" y2="538.4" stroke="#000" stroke-width="5.2" stroke-linecap="round"/>
<text x="2077.15" y="601" textLength="111.23" lengthAdjust="spacingAndGlyphs" font-size="42">35000</text>
<line x1="2328.5" y1="517.5" x2="2328.5" y2="538.4" stroke="#000" stroke-width="5.2" stroke-linecap="round"/>
<text x="2273.5" y="601" textLength="110.62" lengthAdjust="spacingAndGlyphs" font-size="42">40000</text>
<text x="1612.89" y="695.7" textLength="570.64" lengthAdjust="spacingAndGlyphs" font-size="42">Hourly electricity demand &#160;(MW)</text>
<line x1="1433" y1="501.3" x2="2363" y2="501.3" stroke="#bebebe" stroke-width="1.2" stroke-linecap="butt"/>
<rect x="1433" y="136.5" width="930" height="378.8" fill="none" stroke="#000" stroke-width="5.2" stroke-linejoin="round"/>
<path d="M1434.2,498.94 L1438.06,498.38 L1441.97,497.87 L1445.88,497.36 L1449.73,496.79 L1453.48,496.14 L1457.06,495.34 L1460.07,494.52 L1462.97,493.63 L1465.79,492.67 L1468.54,491.63 L1471.24,490.51 L1473.9,489.32 L1476.41,488.1 L1478.83,486.82 L1481.21,485.46 L1483.56,484.03 L1485.93,482.51 L1488.34,480.9 L1491.14,478.94 L1493.99,476.84 L1496.86,474.63 L1499.7,472.34 L1502.49,470.01 L1505.18,467.67 L1507.7,465.36 L1510.15,463 L1512.54,460.6 L1514.9,458.16 L1517.25,455.7 L1519.62,453.23 L1522.04,450.67 L1524.44,448.05 L1526.83,445.41 L1529.23,442.77 L1531.63,440.16 L1534.05,437.59 L1536.44,435.12 L1538.83,432.68 L1541.23,430.26 L1543.64,427.87 L1546.06,425.5 L1548.49,423.16 L1550.87,420.86 L1553.24,418.56 L1555.63,416.29 L1558.03,414.07 L1560.46,411.94 L1562.92,409.92 L1565.26,408.14 L1567.61,406.46 L1569.98,404.85 L1572.39,403.29 L1574.85,401.78 L1577.36,400.3 L1580.05,398.76 L1582.81,397.24 L1585.63,395.77 L1588.47,394.37 L1591.34,393.06 L1594.2,391.88 L1596.96,390.86 L1599.72,389.94 L1602.5,389.12 L1605.3,388.37 L1608.15,387.69 L1611.04,387.07 L1614.16,386.49 L1617.34,386 L1620.56,385.59 L1623.81,385.24 L1627.06,384.93 L1630.29,384.66 L1633.53,384.46 L1636.81,384.34 L1640.09,384.28 L1643.33,384.21 L1646.49,384.11 L1649.54,383.94 L1652.05,383.74 L1654.44,383.53 L1656.77,383.3 L1659.1,383.02 L1661.48,382.68 L1663.97,382.25 L1667.04,381.66 L1670.21,380.96 L1673.46,380.18 L1676.74,379.33 L1680,378.41 L1683.22,377.44 L1686.45,376.37 L1689.66,375.18 L1692.86,373.94 L1696.06,372.67 L1699.26,371.41 L1702.47,370.22 L1705.7,369.05 L1708.97,367.84 L1712.24,366.65 L1715.47,365.53 L1718.65,364.54 L1721.72,363.73 L1724.22,363.17 L1726.66,362.68 L1729.05,362.29 L1731.41,362 L1733.77,361.84 L1736.15,361.8 L1738.57,361.9 L1740.99,362.12 L1743.42,362.46 L1745.83,362.92 L1748.22,363.51 L1750.59,364.21 L1753.04,365.11 L1755.48,366.18 L1757.89,367.39 L1760.28,368.69 L1762.66,370.05 L1765.03,371.43 L1767.46,372.93 L1769.86,374.55 L1772.24,376.24 L1774.63,377.92 L1777.03,379.55 L1779.46,381.05 L1781.83,382.42 L1784.21,383.77 L1786.61,385.06 L1789.02,386.26 L1791.45,387.34 L1793.9,388.27 L1796.27,389.04 L1798.66,389.74 L1801.08,390.32 L1803.5,390.77 L1805.92,391.05 L1808.33,391.16 L1810.75,391.08 L1813.19,390.83 L1815.62,390.43 L1818.04,389.87 L1820.43,389.15 L1822.77,388.27 L1825.26,387.1 L1827.72,385.69 L1830.14,384.1 L1832.52,382.37 L1834.88,380.53 L1837.21,378.65 L1839.68,376.46 L1842.09,374.07 L1844.46,371.57 L1846.83,369.03 L1849.21,366.55 L1851.64,364.21 L1854,362.05 L1856.37,359.9 L1858.75,357.81 L1861.16,355.8 L1863.6,353.91 L1866.08,352.18 L1868.45,350.67 L1870.9,349.21 L1873.38,347.86 L1875.84,346.66 L1878.23,345.68 L1880.51,344.96 L1882.18,344.57 L1883.8,344.29 L1885.38,344.14 L1886.93,344.12 L1888.47,344.26 L1890,344.58 L1891.66,345.16 L1893.3,345.97 L1894.91,346.98 L1896.51,348.13 L1898.12,349.37 L1899.75,350.67 L1901.77,352.36 L1903.83,354.23 L1905.89,356.24 L1907.94,358.37 L1909.96,360.58 L1911.93,362.85 L1914.05,365.44 L1916.13,368.15 L1918.17,370.97 L1920.18,373.87 L1922.16,376.86 L1924.12,379.91 L1926.22,383.37 L1928.27,386.97 L1930.28,390.66 L1932.28,394.41 L1934.28,398.15 L1936.3,401.84 L1938.33,405.52 L1940.34,409.21 L1942.36,412.91 L1944.38,416.58 L1946.42,420.21 L1948.49,423.78 L1950.46,427.13 L1952.42,430.43 L1954.4,433.7 L1956.42,436.93 L1958.5,440.12 L1960.67,443.27 L1962.96,446.44 L1965.32,449.61 L1967.75,452.74 L1970.23,455.79 L1972.75,458.74 L1975.29,461.55 L1977.65,464.01 L1980.05,466.37 L1982.47,468.65 L1984.93,470.84 L1987.41,472.94 L1989.91,474.95 L1992.28,476.77 L1994.65,478.5 L1997.05,480.16 L1999.48,481.74 L2001.97,483.26 L2004.53,484.7 L2007.24,486.11 L2010.01,487.43 L2012.83,488.69 L2015.71,489.86 L2018.63,490.97 L2021.59,492.01 L2024.74,493.01 L2027.95,493.93 L2031.21,494.77 L2034.51,495.54 L2037.8,496.24 L2041.09,496.88 L2044.32,497.44 L2047.57,497.92 L2050.82,498.33 L2054.07,498.69 L2057.33,499.01 L2060.58,499.32 L2063.8,499.6 L2066.98,499.84 L2070.16,500.05 L2073.38,500.23 L2076.67,500.39 L2080.08,500.54 L2084.14,500.68 L2088.35,500.77 L2092.65,500.84 L2097.01,500.9 L2101.36,500.96 L2105.66,501.03" fill="none" stroke="#000" stroke-width="4.8" stroke-linecap="round" stroke-linejoin="round"/>
<path d="M1447.44,500.87 L1449.84,500.89 L1452.25,500.92 L1454.66,500.96 L1457.06,500.98 L1459.47,500.95 L1461.87,500.87 L1464.28,500.72 L1466.69,500.53 L1469.1,500.3 L1471.5,500.03 L1473.91,499.74 L1476.31,499.43 L1478.7,499.12 L1481.07,498.83 L1483.43,498.51 L1485.82,498.13 L1488.25,497.65 L1490.74,497.02 L1493.87,496.1 L1497.15,495.03 L1500.49,493.81 L1503.8,492.46 L1507,490.96 L1509.99,489.32 L1512.64,487.61 L1515.17,485.74 L1517.6,483.74 L1519.93,481.65 L1522.2,479.49 L1524.43,477.29 L1526.58,475.06 L1528.65,472.77 L1530.66,470.41 L1532.61,467.97 L1534.54,465.46 L1536.46,462.85 L1538.54,459.87 L1540.58,456.75 L1542.58,453.54 L1544.56,450.26 L1546.53,446.94 L1548.49,443.61 L1550.54,440.06 L1552.58,436.4 L1554.61,432.71 L1556.62,429.02 L1558.59,425.42 L1560.52,421.95 L1562.18,419.03 L1563.81,416.2 L1565.4,413.44 L1566.99,410.7 L1568.56,407.93 L1570.14,405.11 L1571.73,402.11 L1573.26,399.04 L1574.78,395.95 L1576.35,392.88 L1577.99,389.91 L1579.77,387.07 L1581.6,384.45 L1583.52,381.9 L1585.53,379.42 L1587.59,377.04 L1589.68,374.77 L1591.8,372.63 L1593.72,370.75 L1595.67,368.91 L1597.65,367.16 L1599.66,365.55 L1601.72,364.15 L1603.83,363.01 L1605.75,362.19 L1607.71,361.54 L1609.71,361.04 L1611.73,360.72 L1613.78,360.57 L1615.85,360.6 L1618.21,360.9 L1620.62,361.47 L1623.06,362.26 L1625.5,363.22 L1627.92,364.28 L1630.29,365.41 L1632.76,366.74 L1635.19,368.24 L1637.59,369.87 L1639.97,371.58 L1642.35,373.32 L1644.73,375.04 L1647.17,376.79 L1649.61,378.59 L1652.05,380.41 L1654.47,382.25 L1656.85,384.07 L1659.16,385.86 L1661.23,387.54 L1663.22,389.27 L1665.19,390.98 L1667.15,392.63 L1669.14,394.15 L1671.19,395.49 L1673.12,396.55 L1675.07,397.48 L1677.05,398.32 L1679.06,399.05 L1681.12,399.71 L1683.22,400.3 L1685.53,400.85 L1687.91,401.33 L1690.33,401.71 L1692.78,401.99 L1695.23,402.16 L1697.66,402.22 L1700.07,402.17 L1702.49,402.01 L1704.91,401.74 L1707.32,401.37 L1709.72,400.89 L1712.09,400.3 L1714.53,399.53 L1716.95,398.6 L1719.35,397.55 L1721.74,396.44 L1724.13,395.33 L1726.53,394.28 L1728.94,393.32 L1731.37,392.39 L1733.79,391.47 L1736.21,390.5 L1738.6,389.45 L1740.97,388.27 L1743.42,386.86 L1745.84,385.31 L1748.23,383.67 L1750.62,381.98 L1753.01,380.29 L1755.4,378.65 L1757.82,377.07 L1760.24,375.54 L1762.67,374.01 L1765.09,372.43 L1767.48,370.78 L1769.84,369.02 L1772.29,367.03 L1774.7,364.94 L1777.08,362.77 L1779.46,360.51 L1781.85,358.18 L1784.27,355.79 L1787.04,352.97 L1789.83,349.99 L1792.63,346.92 L1795.45,343.82 L1798.28,340.74 L1801.12,337.74 L1803.91,334.83 L1806.72,331.89 L1809.54,328.97 L1812.35,326.13 L1815.16,323.43 L1817.96,320.9 L1820.36,318.84 L1822.74,316.86 L1825.12,314.98 L1827.51,313.22 L1829.93,311.58 L1832.39,310.07 L1834.74,308.77 L1837.11,307.55 L1839.51,306.44 L1841.94,305.47 L1844.38,304.66 L1846.83,304.06 L1849.21,303.64 L1851.64,303.36 L1854.07,303.23 L1856.51,303.29 L1858.91,303.56 L1861.27,304.06 L1863.79,304.9 L1866.34,306.04 L1868.85,307.41 L1871.28,308.98 L1873.58,310.69 L1875.7,312.48 L1877.63,314.4 L1879.42,316.53 L1881.09,318.79 L1882.63,321.12 L1884.04,323.45 L1885.33,325.71 L1886.28,327.65 L1887.05,329.6 L1887.73,331.54 L1888.39,333.48 L1889.12,335.39 L1890,337.27 L1891.07,339.11 L1892.24,340.85 L1893.48,342.58 L1894.76,344.34 L1896.05,346.2 L1897.31,348.23 L1898.93,351.16 L1900.58,354.39 L1902.25,357.78 L1903.9,361.21 L1905.51,364.57 L1907.06,367.73 L1908.35,370.26 L1909.6,372.66 L1910.83,375.01 L1912.03,377.37 L1913.21,379.79 L1914.37,382.35 L1915.62,385.42 L1916.8,388.63 L1917.95,391.93 L1919.12,395.26 L1920.35,398.58 L1921.68,401.84 L1923.19,405.15 L1924.81,408.48 L1926.5,411.8 L1928.2,415.07 L1929.86,418.26 L1931.43,421.34 L1932.69,423.89 L1933.89,426.34 L1935.05,428.73 L1936.23,431.1 L1937.44,433.5 L1938.74,435.96 L1940.22,438.74 L1941.73,441.55 L1943.3,444.4 L1944.93,447.26 L1946.65,450.14 L1948.49,453.02 L1950.67,456.31 L1952.99,459.7 L1955.42,463.11 L1957.93,466.45 L1960.51,469.61 L1963.11,472.51 L1965.44,474.86 L1967.83,477.05 L1970.26,479.1 L1972.73,481.05 L1975.22,482.91 L1977.73,484.7 L1980.08,486.33 L1982.43,487.9 L1984.79,489.39 L1987.21,490.78 L1989.72,492.06 L1992.35,493.23 L1995.41,494.34 L1998.67,495.3 L2002.03,496.13 L2005.4,496.85 L2008.7,497.5 L2011.84,498.1 L2014.33,498.56 L2016.67,498.94 L2018.96,499.27 L2021.29,499.55 L2023.76,499.81 L2026.47,500.05 L2030.75,500.33 L2035.46,500.53 L2040.45,500.67 L2045.59,500.78 L2050.72,500.89 L2055.71,501.03" fill="none" stroke="#f00" stroke-width="4.8" stroke-linecap="round" stroke-linejoin="round" stroke-dasharray="9.8 20.2"/>
<rect x="1433" y="136.5" width="456.7" height="142.5" fill="#fff" stroke="#000" stroke-width="5" stroke-linejoin="round"/>
<line x1="1468.6" y1="184" x2="1540.2" y2="184" stroke="#000" stroke-width="7.8" stroke-linecap="round"/>
<line x1="1468.6" y1="231.5" x2="1540.2" y2="231.5" stroke="#f00" stroke-width="7.8" stroke-linecap="round" stroke-dasharray="23 37"/>
<text x="1576.4" y="197.9" textLength="130.16" lengthAdjust="spacingAndGlyphs" font-size="42">Actuals</text>
<text x="1575.2" y="245.7" textLength="282.48" lengthAdjust="spacingAndGlyphs" font-size="42">Forecasts(April)</text>
</g>
<g>
<text x="585.44" y="873.3" textLength="173.79" lengthAdjust="spacingAndGlyphs" font-weight="bold" font-size="52">(b) May</text>
<text transform="translate(56,1422.51) rotate(-90)" textLength="559.42" lengthAdjust="spacingAndGlyphs" font-size="42">Hourly electricity demand (MW)</text>
<line x1="184.6" y1="1288.7" x2="208.5" y2="1288.7" stroke="#000" stroke-width="5.2" stroke-linecap="round"/>
<line x1="184.6" y1="1215.53" x2="208.5" y2="1215.53" stroke="#000" stroke-width="5.2" stroke-linecap="round"/>
<line x1="184.6" y1="1142.35" x2="208.5" y2="1142.35" stroke="#000" stroke-width="5.2" stroke-linecap="round"/>
<line x1="184.6" y1="1069.17" x2="208.5" y2="1069.17" stroke="#000" stroke-width="5.2" stroke-linecap="round"/>
<line x1="184.6" y1="996" x2="208.5" y2="996" stroke="#000" stroke-width="5.2" stroke-linecap="round"/>
<text transform="translate(151,1344.6) rotate(-90)" textLength="111.34" lengthAdjust="spacingAndGlyphs" font-size="42">20000</text>
<text transform="translate(151,1197.74) rotate(-90)" textLength="110.82" lengthAdjust="spacingAndGlyphs" font-size="42">30000</text>
<text transform="translate(151,1050.79) rotate(-90)" textLength="110.21" lengthAdjust="spacingAndGlyphs" font-size="42">40000</text>
<line x1="237.79" y1="1334" x2="237.79" y2="1354.9" stroke="#000" stroke-width="5.2" stroke-linecap="round"/>
<line x1="495.61" y1="1334" x2="495.61" y2="1354.9" stroke="#000" stroke-width="5.2" stroke-linecap="round"/>
<line x1="753.43" y1="1334" x2="753.43" y2="1354.9" stroke="#000" stroke-width="5.2" stroke-linecap="round"/>
<line x1="1011.25" y1="1334" x2="1011.25" y2="1354.9" stroke="#000" stroke-width="5.2" stroke-linecap="round"/>
<text x="226.64" y="1417.5" textLength="22.35" lengthAdjust="spacingAndGlyphs" font-size="42">0</text>
<text x="473.26" y="1417.5" textLength="44.7" lengthAdjust="spacingAndGlyphs" font-size="42">50</text>
<text x="719.17" y="1417.5" textLength="67.05" lengthAdjust="spacingAndGlyphs" font-size="42">100</text>
<text x="976.99" y="1417.5" textLength="67.05" lengthAdjust="spacingAndGlyphs" font-size="42">150</text>
<text x="491.9" y="1512.3" textLength="362.41" lengthAdjust="spacingAndGlyphs" font-size="42">Observation number</text>
<rect x="208.5" y="953" width="930" height="378.8" fill="none" stroke="#000" stroke-width="5.2" stroke-linejoin="round"/>
<path d="M240.66,1266.63 L243.48,1268.9 L246.35,1271.52 L249.22,1274.13 L252.03,1276.4 L254.73,1277.97 L257.25,1278.48 L259.25,1278 L261.19,1276.88 L263.05,1275.26 L264.8,1273.31 L266.43,1271.17 L267.92,1269 L269.54,1266.1 L270.91,1262.8 L272.08,1259.22 L273.12,1255.43 L274.08,1251.55 L275.03,1247.67 L276,1243.23 L276.81,1238.64 L277.52,1233.93 L278.21,1229.11 L278.93,1224.2 L279.77,1219.23 L280.74,1213.17 L281.65,1206.5 L282.63,1199.72 L283.75,1193.33 L285.14,1187.82 L286.88,1183.69 L287.92,1182.08 L289.06,1180.63 L290.26,1179.41 L291.5,1178.48 L292.75,1177.91 L293.99,1177.76 L295.55,1178.37 L297.18,1179.79 L298.82,1181.76 L300.45,1184.03 L302.01,1186.34 L303.47,1188.43 L304.75,1190.37 L305.91,1192.43 L307.01,1194.52 L308.11,1196.58 L309.28,1198.52 L310.58,1200.28 L311.87,1201.83 L313.28,1203.46 L314.73,1205 L316.18,1206.28 L317.58,1207.13 L318.87,1207.38 L319.98,1207.02 L321.05,1206.2 L322.08,1205.01 L323.05,1203.56 L323.96,1201.95 L324.8,1200.28 L325.95,1197.21 L326.87,1193.54 L327.62,1189.45 L328.27,1185.13 L328.89,1180.77 L329.54,1176.58 L330.18,1172.06 L330.74,1167.2 L331.25,1162.29 L331.78,1157.66 L332.38,1153.63 L333.09,1150.51 L333.45,1149.35 L333.83,1148.24 L334.22,1147.25 L334.62,1146.45 L335.03,1145.93 L335.46,1145.77 L336.34,1146.74 L337.3,1149.22 L338.3,1152.73 L339.33,1156.8 L340.37,1160.96 L341.38,1164.73 L342.59,1168.81 L343.83,1173.05 L345.08,1177.41 L346.3,1181.84 L347.45,1186.32 L348.49,1190.8 L349.45,1195.45 L350.31,1200.16 L351.1,1204.91 L351.84,1209.69 L352.54,1214.47 L353.23,1219.23 L353.85,1224.04 L354.36,1228.94 L354.84,1233.83 L355.36,1238.65 L355.99,1243.29 L356.79,1247.67 L357.53,1251.13 L358.28,1254.46 L359.1,1257.66 L360.06,1260.76 L361.24,1263.75 L362.71,1266.63 L364.67,1269.82 L367.06,1273.28 L369.67,1276.63 L372.31,1279.47 L374.8,1281.4 L376.93,1282.04 L378.36,1281.49 L379.68,1280.2 L380.91,1278.36 L382.04,1276.16 L383.08,1273.76 L384.04,1271.37 L385.25,1267.53 L386.17,1263.12 L386.89,1258.29 L387.5,1253.21 L388.1,1248.03 L388.78,1242.93 L389.61,1237.24 L390.41,1231.38 L391.19,1225.41 L391.96,1219.38 L392.74,1213.36 L393.52,1207.38 L394.18,1201.06 L394.69,1194.25 L395.2,1187.45 L395.86,1181.12 L396.83,1175.76 L398.26,1171.84 L399.09,1170.61 L400,1169.66 L400.98,1168.92 L402.01,1168.3 L403.08,1167.72 L404.19,1167.1 L405.47,1166.43 L406.86,1165.87 L408.29,1165.36 L409.74,1164.83 L411.15,1164.25 L412.48,1163.54 L413.74,1162.55 L414.95,1161.3 L416.12,1159.99 L417.27,1158.8 L418.42,1157.95 L419.59,1157.62 L420.76,1157.98 L421.92,1158.89 L423.08,1160.14 L424.26,1161.49 L425.46,1162.7 L426.7,1163.54 L427.83,1164.01 L428.99,1164.39 L430.17,1164.66 L431.36,1164.81 L432.58,1164.84 L433.81,1164.73 L435.37,1164.38 L437,1163.8 L438.66,1163.04 L440.29,1162.12 L441.85,1161.09 L443.29,1159.99 L444.68,1158.74 L446,1157.38 L447.23,1155.9 L448.37,1154.27 L449.43,1152.48 L450.4,1150.51 L451.56,1147.15 L452.44,1143.19 L453.15,1138.89 L453.78,1134.53 L454.41,1130.42 L455.14,1126.81 L455.69,1124.33 L456.21,1121.71 L456.74,1119.22 L457.3,1117.09 L457.94,1115.59 L458.69,1114.96 L459.56,1115.31 L460.56,1116.44 L461.63,1118.13 L462.71,1120.17 L463.73,1122.35 L464.62,1124.44 L465.65,1127.42 L466.52,1130.77 L467.27,1134.38 L467.96,1138.14 L468.64,1141.97 L469.36,1145.77 L470.18,1149.94 L470.98,1154.21 L471.77,1158.56 L472.55,1162.96 L473.33,1167.39 L474.1,1171.84 L474.9,1176.52 L475.69,1181.27 L476.47,1186.06 L477.25,1190.84 L478.04,1195.59 L478.84,1200.28 L479.61,1204.72 L480.39,1209.15 L481.17,1213.55 L481.95,1217.9 L482.76,1222.17 L483.58,1226.34 L484.22,1230.15 L484.74,1234.02 L485.28,1237.83 L485.96,1241.45 L486.93,1244.77 L488.32,1247.67 L489.92,1249.94 L491.89,1252.19 L494.05,1254.23 L496.25,1255.86 L498.34,1256.9 L500.17,1257.15 L501.57,1256.62 L502.89,1255.47 L504.12,1253.86 L505.26,1251.93 L506.31,1249.82 L507.28,1247.67 L508.48,1244.2 L509.4,1240.19 L510.13,1235.79 L510.74,1231.13 L511.34,1226.35 L512.02,1221.6 L512.87,1216.01 L513.7,1210.17 L514.51,1204.19 L515.3,1198.12 L516.04,1192.05 L516.76,1186.06 L517.28,1179.51 L517.59,1172.21 L517.87,1164.91 L518.3,1158.36 L519.05,1153.31 L520.31,1150.51 L520.83,1150.15 L521.4,1149.97 L522,1149.94 L522.62,1150.04 L523.25,1150.23 L523.87,1150.51 L524.96,1151.51 L526.04,1153.18 L527.14,1155.19 L528.31,1157.22 L529.57,1158.92 L530.98,1159.99 L532.39,1160.33 L533.92,1160.31 L535.54,1160.04 L537.2,1159.62 L538.85,1159.17 L540.46,1158.8 L542.05,1158.4 L543.64,1157.85 L545.23,1157.27 L546.81,1156.76 L548.38,1156.45 L549.94,1156.43 L551.54,1156.93 L553.14,1157.88 L554.73,1159.04 L556.31,1160.15 L557.87,1160.94 L559.42,1161.17 L561.06,1160.74 L562.71,1159.84 L564.35,1158.59 L565.95,1157.12 L567.47,1155.57 L568.89,1154.06 L570.29,1152.53 L571.61,1150.91 L572.86,1149.21 L574.02,1147.39 L575.07,1145.46 L576,1143.4 L576.9,1140.52 L577.54,1137.26 L578.02,1133.82 L578.44,1130.4 L578.92,1127.2 L579.56,1124.44 L580.1,1122.64 L580.68,1120.76 L581.28,1118.99 L581.9,1117.51 L582.51,1116.5 L583.11,1116.14 L583.9,1116.91 L584.67,1118.88 L585.44,1121.69 L586.23,1124.99 L587.03,1128.39 L587.85,1131.55 L589,1135.48 L590.23,1139.67 L591.5,1144.06 L592.74,1148.57 L593.91,1153.11 L594.96,1157.62 L595.91,1162.24 L596.75,1166.9 L597.52,1171.6 L598.25,1176.35 L598.96,1181.17 L599.7,1186.06 L600.47,1191.5 L601.17,1197.14 L601.86,1202.86 L602.6,1208.52 L603.44,1214.02 L604.44,1219.23 L605.36,1223.61 L606.25,1228 L607.23,1232.27 L608.37,1236.28 L609.79,1239.88 L611.55,1242.93 L613.23,1245.01 L615.16,1246.99 L617.24,1248.72 L619.38,1250.1 L621.46,1250.97 L623.4,1251.23 L625.13,1250.85 L626.86,1249.95 L628.55,1248.62 L630.15,1246.95 L631.61,1245.02 L632.88,1242.93 L634.45,1238.86 L635.47,1233.84 L636.11,1228.13 L636.57,1222.03 L637.02,1215.81 L637.62,1209.75 L638.47,1202.76 L639.3,1195.3 L640.12,1187.7 L640.91,1180.25 L641.66,1173.28 L642.36,1167.1 L642.72,1163.09 L642.96,1158.92 L643.19,1154.97 L643.5,1151.6 L643.98,1149.2 L644.73,1148.14 L645.34,1148.4 L646,1149.33 L646.73,1150.65 L647.54,1152.06 L648.45,1153.3 L649.47,1154.06 L650.8,1154.37 L652.31,1154.36 L653.95,1154.13 L655.65,1153.74 L657.34,1153.3 L658.95,1152.88 L660.54,1152.34 L662.1,1151.59 L663.65,1150.79 L665.22,1150.05 L666.8,1149.51 L668.43,1149.32 L670.37,1149.52 L672.45,1150.04 L674.56,1150.8 L676.59,1151.77 L678.44,1152.87 L680,1154.06 L681.02,1155.3 L681.75,1156.79 L682.34,1158.39 L682.93,1159.96 L683.69,1161.33 L684.74,1162.36 L686.39,1163.2 L688.41,1163.87 L690.62,1164.3 L692.85,1164.43 L694.9,1164.2 L696.59,1163.54 L698.1,1162.04 L699.26,1159.8 L700.18,1157.06 L700.96,1154.05 L701.71,1151 L702.51,1148.14 L703.36,1144.87 L704.11,1141.07 L704.81,1137.22 L705.52,1133.83 L706.32,1131.37 L707.25,1130.36 L708.15,1130.78 L709.14,1132.06 L710.19,1133.97 L711.24,1136.26 L712.25,1138.7 L713.18,1141.03 L714.34,1144.36 L715.39,1148.06 L716.36,1152.04 L717.28,1156.21 L718.19,1160.47 L719.1,1164.73 L720.14,1169.63 L721.13,1174.73 L722.1,1179.95 L723.07,1185.21 L724.04,1190.43 L725.03,1195.54 L725.99,1200.41 L726.94,1205.33 L727.89,1210.21 L728.87,1214.99 L729.88,1219.6 L730.95,1223.97 L731.84,1227.48 L732.7,1230.93 L733.59,1234.27 L734.56,1237.43 L735.64,1240.34 L736.88,1242.93 L737.89,1244.67 L738.97,1246.28 L740.1,1247.76 L741.31,1249.09 L742.6,1250.25 L743.99,1251.23 L745.44,1252.07 L747.05,1252.85 L748.73,1253.49 L750.42,1253.88 L752.02,1253.95 L753.47,1253.6 L755.16,1252.3 L756.67,1250.16 L758.05,1247.42 L759.32,1244.35 L760.55,1241.19 L761.76,1238.19 L763.12,1234.91 L764.41,1231.48 L765.63,1227.95 L766.79,1224.32 L767.87,1220.62 L768.87,1216.86 L769.85,1212.7 L770.72,1208.4 L771.51,1204.03 L772.23,1199.6 L772.92,1195.18 L773.61,1190.8 L774.15,1186.22 L774.49,1181.37 L774.8,1176.51 L775.24,1171.92 L775.97,1167.9 L777.17,1164.73 L778.12,1163.19 L779.22,1161.78 L780.43,1160.57 L781.7,1159.62 L782.99,1159.01 L784.28,1158.8 L785.79,1159.24 L787.36,1160.38 L788.97,1161.97 L790.59,1163.78 L792.19,1165.56 L793.75,1167.1 L795.19,1168.27 L796.64,1169.35 L798.07,1170.42 L799.46,1171.54 L800.8,1172.78 L802.05,1174.21 L803.42,1176.26 L804.66,1178.61 L805.81,1181.13 L806.91,1183.69 L808.01,1186.17 L809.16,1188.43 L810.12,1190.32 L811.05,1192.34 L811.98,1194.3 L812.94,1196.01 L813.96,1197.27 L815.08,1197.91 L816.2,1197.89 L817.44,1197.44 L818.72,1196.65 L819.99,1195.62 L821.17,1194.43 L822.19,1193.17 L823.36,1191.11 L824.27,1188.62 L825,1185.82 L825.64,1182.8 L826.26,1179.68 L826.93,1176.58 L827.76,1172.17 L828.52,1166.86 L829.25,1161.41 L829.99,1156.56 L830.79,1153.07 L831.67,1151.69 L832.4,1152.26 L833.16,1153.88 L833.96,1156.24 L834.77,1159.04 L835.59,1161.97 L836.41,1164.73 L837.57,1168.53 L838.75,1172.69 L839.95,1177.11 L841.15,1181.68 L842.35,1186.27 L843.52,1190.8 L844.72,1195.47 L845.9,1200.23 L847.08,1205.02 L848.25,1209.8 L849.43,1214.56 L850.63,1219.23 L851.79,1223.7 L852.94,1228.18 L854.1,1232.62 L855.27,1236.99 L856.49,1241.23 L857.74,1245.3 L858.79,1248.79 L859.79,1252.28 L860.8,1255.69 L861.93,1258.89 L863.25,1261.79 L864.85,1264.26 L866.39,1266.03 L868.14,1267.73 L870.02,1269.22 L871.93,1270.4 L873.79,1271.16 L875.52,1271.37 L877.02,1271.02 L878.49,1270.21 L879.93,1269.04 L881.3,1267.59 L882.6,1265.97 L883.81,1264.26 L885.36,1261.52 L886.7,1258.29 L887.9,1254.7 L888.97,1250.86 L889.96,1246.9 L890.92,1242.93 L891.94,1238.15 L892.79,1233.12 L893.54,1227.91 L894.23,1222.62 L894.92,1217.33 L895.66,1212.12 L896.34,1206.72 L896.87,1200.99 L897.41,1195.26 L898.09,1189.86 L899.04,1185.1 L900.4,1181.32 L901.37,1179.57 L902.45,1177.99 L903.61,1176.63 L904.85,1175.51 L906.15,1174.69 L907.51,1174.21 L908.98,1174.15 L910.57,1174.5 L912.23,1175.15 L913.9,1175.98 L915.5,1176.89 L916.99,1177.76 L918.3,1178.56 L919.55,1179.4 L920.75,1180.3 L921.91,1181.3 L923.02,1182.42 L924.1,1183.69 L925.43,1185.63 L926.65,1187.88 L927.81,1190.34 L928.93,1192.89 L930.05,1195.45 L931.21,1197.91 L932.37,1200.57 L933.5,1203.6 L934.64,1206.63 L935.8,1209.3 L937.02,1211.25 L938.32,1212.12 L939.46,1211.98 L940.68,1211.27 L941.94,1210.11 L943.18,1208.6 L944.36,1206.87 L945.43,1205.02 L947.16,1200.35 L948.54,1194.15 L949.68,1187.07 L950.66,1179.76 L951.58,1172.89 L952.54,1167.1 L953.16,1163.56 L953.72,1159.86 L954.25,1156.35 L954.79,1153.38 L955.39,1151.32 L956.09,1150.51 L956.8,1151 L957.59,1152.41 L958.42,1154.5 L959.26,1157.02 L960.07,1159.72 L960.83,1162.36 L961.96,1166.92 L963,1172.23 L963.98,1178.03 L964.93,1184.02 L965.84,1189.95 L966.76,1195.54 L967.57,1200.43 L968.32,1205.28 L969.06,1210.07 L969.81,1214.78 L970.61,1219.42 L971.5,1223.97 L972.34,1228.14 L973.19,1232.31 L974.08,1236.41 L975.05,1240.38 L976.15,1244.16 L977.42,1247.67 L978.59,1250.42 L979.85,1253.1 L981.19,1255.65 L982.62,1258 L984.13,1260.1 L985.72,1261.89 L987.01,1263.11 L988.37,1264.27 L989.79,1265.28 L991.22,1266.06 L992.64,1266.54 L994.01,1266.63 L995.48,1266.26 L996.97,1265.46 L998.45,1264.31 L999.87,1262.88 L1001.17,1261.26 L1002.31,1259.52 L1003.63,1256.56 L1004.59,1253.02 L1005.3,1249.06 L1005.87,1244.78 L1006.41,1240.33 L1007.05,1235.82 L1007.95,1229.65 L1008.82,1222.94 L1009.64,1215.92 L1010.42,1208.85 L1011.13,1201.97 L1011.79,1195.54 L1012.28,1190.43 L1012.72,1185.41 L1013.12,1180.54 L1013.49,1175.83 L1013.83,1171.34 L1014.15,1167.1 L1014.26,1163.78 L1014.21,1160.3 L1014.13,1156.95 L1014.2,1154.01 L1014.55,1151.76 L1015.34,1150.51 L1016.09,1150.38 L1016.99,1150.71 L1018.01,1151.3 L1019.09,1151.98 L1020.19,1152.57 L1021.26,1152.88 L1022.41,1152.96 L1023.62,1152.95 L1024.84,1152.83 L1026.06,1152.6 L1027.25,1152.22 L1028.37,1151.69 L1029.64,1150.64 L1030.81,1149.15 L1031.92,1147.44 L1033.04,1145.76 L1034.21,1144.34 L1035.48,1143.4 L1036.6,1142.98 L1037.77,1142.74 L1038.97,1142.66 L1040.19,1142.75 L1041.4,1142.99 L1042.59,1143.4 L1044.19,1144.51 L1045.78,1146.28 L1047.35,1148.36 L1048.92,1150.38 L1050.5,1152.01 L1052.07,1152.88 L1053.27,1153 L1054.49,1152.86 L1055.71,1152.48 L1056.91,1151.94 L1058.07,1151.26 L1059.18,1150.51 L1060.5,1149.4 L1061.76,1148.05 L1062.96,1146.49 L1064.11,1144.78 L1065.22,1142.94 L1066.29,1141.03 L1067.64,1138.26 L1068.9,1135.13 L1070.1,1131.79 L1071.24,1128.4 L1072.33,1125.11 L1073.4,1122.07 L1074.25,1119.46 L1075.06,1116.58 L1075.84,1113.77 L1076.6,1111.36 L1077.36,1109.67 L1078.14,1109.03 L1078.94,1109.67 L1079.75,1111.35 L1080.55,1113.75 L1081.35,1116.56 L1082.13,1119.44 L1082.88,1122.07 L1083.73,1124.97 L1084.56,1127.99 L1085.35,1131.11 L1086.12,1134.33 L1086.88,1137.64 L1087.62,1141.03 L1088.46,1145.1 L1089.28,1149.32 L1090.07,1153.65 L1090.84,1158.08 L1091.6,1162.57 L1092.36,1167.1 L1093.18,1172.17 L1093.98,1177.45 L1094.77,1182.81 L1095.55,1188.09 L1096.33,1193.17 L1097.1,1197.91 L1097.7,1201.36 L1098.28,1204.64 L1098.86,1207.8 L1099.45,1210.87 L1100.04,1213.88 L1100.66,1216.86 L1101.23,1219.53 L1101.82,1222.12 L1102.41,1224.67 L1103.01,1227.2 L1103.61,1229.72 L1104.21,1232.27" fill="none" stroke="#000" stroke-width="8.5" stroke-linecap="round" stroke-linejoin="round"/>
<path d="M241.85,1263.08 L243.01,1264.55 L244.13,1266.12 L245.25,1267.69" fill="none" stroke="#f00" stroke-width="8.5" stroke-linecap="round" stroke-linejoin="round" stroke-dasharray="22.7 37.3"/>
<path d="M245.25,1267.69 L246.4,1269.16 L247.63,1270.42 L248.96,1271.37 L250.24,1271.97 L251.61,1272.42 L253.03,1272.71 L254.47,1272.83 L255.89,1272.79 L257.25,1272.56 L258.71,1272.09 L260.16,1271.42 L261.58,1270.53 L262.96,1269.44 L264.29,1268.14 L265.55,1266.63 L267.47,1263.45 L269.22,1259.41 L270.82,1254.81 L272.3,1249.94 L273.7,1245.09 L275.03,1240.56 L276.18,1236.58" fill="none" stroke="#f00" stroke-width="8.5" stroke-linecap="round" stroke-linejoin="round" stroke-dasharray="22.7 37.3"/>
<path d="M276.18,1236.58 L277.23,1232.65 L278.19,1228.74 L279.1,1224.83 L280.01,1220.87 L280.95,1216.86 L281.93,1212.44 L282.88,1207.77 L283.81,1203.07 L284.77,1198.53 L285.78,1194.37 L286.88,1190.8 L287.59,1188.8 L288.3,1186.9 L289.03,1185.15 L289.81,1183.6 L290.66,1182.3 L291.62,1181.32 L292.35,1180.81 L293.14,1180.41 L293.96,1180.13 L294.79,1179.98 L295.6,1179.97" fill="none" stroke="#f00" stroke-width="8.5" stroke-linecap="round" stroke-linejoin="round" stroke-dasharray="22.7 37.3"/>
<path d="M295.6,1179.97 L296.36,1180.13 L297.22,1180.62 L298.03,1181.43 L298.8,1182.47 L299.56,1183.65 L300.31,1184.87 L301.1,1186.06 L302.04,1187.5 L302.96,1189.06 L303.88,1190.69 L304.85,1192.34 L305.88,1193.97 L307.02,1195.54 L308.41,1197.29 L309.91,1199.16 L311.49,1201 L313.14,1202.68 L314.82,1204.06 L316.5,1205.02 L317.89,1205.51 L319.36,1205.88 L320.86,1206.07 L322.31,1206.02 L323.64,1205.68 L324.8,1205.02 L326.28,1202.87 L327.29,1199.57" fill="none" stroke="#f00" stroke-width="8.5" stroke-linecap="round" stroke-linejoin="round" stroke-dasharray="22.7 37.3"/>
<path d="M327.29,1199.57 L327.97,1195.44 L328.47,1190.8 L328.94,1185.98 L329.54,1181.32 L330.38,1174.68 L331.13,1166.94 L331.83,1158.89 L332.55,1151.36 L333.34,1145.13 L334.28,1141.03 L334.58,1140.25 L334.89,1139.55 L335.2,1138.97 L335.52,1138.52 L335.85,1138.25 L336.17,1138.18 L336.81,1138.79" fill="none" stroke="#f00" stroke-width="8.5" stroke-linecap="round" stroke-linejoin="round" stroke-dasharray="22.7 37.3"/>
<path d="M336.81,1138.79 L337.46,1140.28 L338.12,1142.43 L338.8,1145.01 L339.49,1147.77 L340.2,1150.51 L341.53,1155.71 L343,1161.91 L344.51,1168.7 L345.98,1175.65 L347.34,1182.37 L348.49,1188.43 L349.22,1192.63" fill="none" stroke="#f00" stroke-width="8.5" stroke-linecap="round" stroke-linejoin="round" stroke-dasharray="22.7 37.3"/>
<path d="M349.22,1192.63 L349.83,1196.55 L350.36,1200.31 L350.88,1204.07 L351.42,1207.96 L352.05,1212.12 L352.8,1217.97 L353.46,1224.53 L354.17,1231.28 L355.06,1237.72 L356.28,1243.36 L357.97,1247.67 L359.15,1249.36 L360.48,1250.67 L361.92,1251.73" fill="none" stroke="#f00" stroke-width="8.5" stroke-linecap="round" stroke-linejoin="round" stroke-dasharray="22.7 37.3"/>
<path d="M361.92,1251.73 L363.39,1252.68 L364.86,1253.65 L366.27,1254.78 L367.66,1256.27 L369.04,1257.99 L370.41,1259.74 L371.78,1261.3 L373.16,1262.48 L374.56,1263.08 L375.76,1263.11 L377,1262.85 L378.24,1262.33 L379.46,1261.58 L380.61,1260.64 L381.67,1259.52 L383.29,1256.88 L384.65,1253.33 L385.82,1249.16 L386.85,1244.66 L387.82,1240.12 L388.78,1235.82 L389.76,1231.62" fill="none" stroke="#f00" stroke-width="8.5" stroke-linecap="round" stroke-linejoin="round" stroke-dasharray="22.7 37.3"/>
<path d="M389.76,1231.62 L390.65,1227.41 L391.48,1223.15 L392.23,1218.82 L392.91,1214.36 L393.52,1209.75 L394.12,1204.07 L394.6,1198.03 L394.98,1191.83 L395.3,1185.67 L395.59,1179.73 L395.89,1174.21 L395.92,1169.9" fill="none" stroke="#f00" stroke-width="8.5" stroke-linecap="round" stroke-linejoin="round" stroke-dasharray="22.7 37.3"/>
<path d="M395.92,1169.9 L395.67,1165.51 L395.4,1161.26 L395.38,1157.38 L395.85,1154.11 L397.08,1151.69 L398.62,1150.54 L400.58,1149.9 L402.83,1149.62 L405.25,1149.54 L407.72,1149.5 L410.11,1149.32 L412.82,1148.93 L415.69,1148.47 L418.62,1148.06 L421.5,1147.79 L424.23,1147.78 L426.7,1148.14 L428.46,1148.82 L430.03,1149.82 L431.49,1151" fill="none" stroke="#f00" stroke-width="8.5" stroke-linecap="round" stroke-linejoin="round" stroke-dasharray="22.7 37.3"/>
<path d="M431.49,1151 L432.94,1152.2 L434.47,1153.27 L436.18,1154.06 L438.42,1154.81 L440.92,1155.57 L443.53,1156.17 L446.08,1156.43 L448.42,1156.18 L450.4,1155.25 L452.69,1151.26 L454.07,1144.57 L454.88,1136.5 L455.49,1128.38 L456.25,1121.55 L457.51,1117.33 L458.07,1116.56 L458.66,1115.91 L459.27,1115.4 L459.88,1115.06 L460.48,1114.9 L461.06,1114.96" fill="none" stroke="#f00" stroke-width="8.5" stroke-linecap="round" stroke-linejoin="round" stroke-dasharray="22.7 37.3"/>
<path d="M461.06,1114.96 L462.11,1115.82 L463.12,1117.61 L464.09,1120.07 L465.05,1122.98 L466.01,1126.1 L466.99,1129.18 L468.65,1134.51 L470.41,1140.74 L472.18,1147.5 L473.84,1154.39 L475.31,1161.05 L476.47,1167.1 L477.1,1171.29" fill="none" stroke="#f00" stroke-width="8.5" stroke-linecap="round" stroke-linejoin="round" stroke-dasharray="22.7 37.3"/>
<path d="M477.1,1171.29 L477.54,1175.2 L477.85,1178.97 L478.11,1182.74 L478.42,1186.63 L478.84,1190.8 L479.46,1196.4 L480.11,1202.4 L480.82,1208.6 L481.61,1214.8 L482.52,1220.78 L483.58,1226.34 L484.49,1230.86" fill="none" stroke="#f00" stroke-width="8.5" stroke-linecap="round" stroke-linejoin="round" stroke-dasharray="22.7 37.3"/>
<path d="M484.49,1230.86 L485.39,1235.46 L486.37,1239.91 L487.52,1243.98 L488.93,1247.44 L490.69,1250.04 L492.05,1251.26 L493.58,1252.23 L495.22,1252.95 L496.9,1253.41 L498.57,1253.63 L500.17,1253.6 L501.83,1253.28 L503.55,1252.66 L505.25,1251.77 L506.88,1250.63 L508.37,1249.25 L509.65,1247.67 L511.09,1244.82 L512.1,1241.31" fill="none" stroke="#f00" stroke-width="8.5" stroke-linecap="round" stroke-linejoin="round" stroke-dasharray="22.7 37.3"/>
<path d="M512.1,1241.31 L512.81,1237.3 L513.34,1232.96 L513.82,1228.46 L514.39,1223.97 L515.12,1218.08 L515.73,1211.68 L516.27,1205.02 L516.78,1198.37 L517.32,1191.96 L517.94,1186.06 L518.33,1181.57" fill="none" stroke="#f00" stroke-width="8.5" stroke-linecap="round" stroke-linejoin="round" stroke-dasharray="22.7 37.3"/>
<path d="M518.33,1181.57 L518.55,1177.07 L518.79,1172.73 L519.24,1168.71 L520.07,1165.2 L521.5,1162.36 L523.01,1160.76 L524.83,1159.55 L526.87,1158.62 L529.03,1157.86 L531.22,1157.17 L533.35,1156.43 L535.51,1155.54 L537.78,1154.56 L540.08,1153.65 L542.33,1152.96 L544.46,1152.65 L546.38,1152.88 L548.01,1153.74 L549.47,1155.16 L550.81,1156.92" fill="none" stroke="#f00" stroke-width="8.5" stroke-linecap="round" stroke-linejoin="round" stroke-dasharray="22.7 37.3"/>
<path d="M550.81,1156.92 L552.09,1158.85 L553.36,1160.72 L554.68,1162.36 L555.87,1163.79 L557.05,1165.38 L558.21,1166.93 L559.39,1168.26 L560.57,1169.17 L561.79,1169.47 L563.34,1168.81 L564.96,1167.22 L566.6,1165 L568.23,1162.45 L569.8,1159.89 L571.26,1157.62 L572.59,1155.72 L573.88,1153.85 L575.12,1151.96 L576.29,1150.01 L577.38,1147.97 L578.37,1145.77 L579.36,1142.49 L580.13,1138.49" fill="none" stroke="#f00" stroke-width="8.5" stroke-linecap="round" stroke-linejoin="round" stroke-dasharray="22.7 37.3"/>
<path d="M580.13,1138.49 L580.79,1134.34 L581.44,1130.62 L582.18,1127.92 L583.11,1126.81 L584.18,1127.41 L585.39,1129.18 L586.68,1131.78 L587.97,1134.86 L589.18,1138.06 L590.22,1141.03 L591.28,1144.58 L592.18,1148.42 L592.94,1152.45 L593.64,1156.57 L594.29,1160.69 L594.96,1164.73 L595.61,1168.62 L596.19,1172.44" fill="none" stroke="#f00" stroke-width="8.5" stroke-linecap="round" stroke-linejoin="round" stroke-dasharray="22.7 37.3"/>
<path d="M596.19,1172.44 L596.74,1176.27 L597.29,1180.17 L597.87,1184.2 L598.52,1188.43 L599.39,1194.02 L600.31,1200.02 L601.29,1206.22 L602.3,1212.41 L603.35,1218.4 L604.44,1223.97 L605.23,1228.44" fill="none" stroke="#f00" stroke-width="8.5" stroke-linecap="round" stroke-linejoin="round" stroke-dasharray="22.7 37.3"/>
<path d="M605.23,1228.44 L605.87,1232.98 L606.54,1237.38 L607.4,1241.43 L608.62,1244.93 L610.37,1247.67 L612.12,1249.2 L614.18,1250.37 L616.45,1251.22 L618.81,1251.81 L621.16,1252.19 L623.4,1252.41 L625.48,1252.54 L627.66,1252.57 L629.82,1252.41 L631.88,1251.99 L633.72,1251.23 L635.25,1250.04 L636.8,1247.3 L637.65,1243.48" fill="none" stroke="#f00" stroke-width="8.5" stroke-linecap="round" stroke-linejoin="round" stroke-dasharray="22.7 37.3"/>
<path d="M637.65,1243.48 L638.03,1238.91 L638.2,1233.93 L638.38,1228.84 L638.81,1223.97 L639.6,1218.46 L640.47,1212.67 L641.36,1206.75 L642.21,1200.84 L642.96,1195.08 L643.55,1189.61 L643.71,1185.07" fill="none" stroke="#f00" stroke-width="8.5" stroke-linecap="round" stroke-linejoin="round" stroke-dasharray="22.7 37.3"/>
<path d="M643.71,1185.07 L643.55,1180.5 L643.32,1176.03 L643.27,1171.82 L643.65,1168 L644.73,1164.73 L646.12,1162.59 L647.88,1160.75 L649.9,1159.15 L652.09,1157.73 L654.35,1156.45 L656.58,1155.25 L658.88,1154.02 L661.37,1152.78 L663.92,1151.66 L666.42,1150.82 L668.75,1150.39 L670.8,1150.51 L672.23,1151.08 L673.49,1152.03 L674.64,1153.25" fill="none" stroke="#f00" stroke-width="8.5" stroke-linecap="round" stroke-linejoin="round" stroke-dasharray="22.7 37.3"/>
<path d="M674.64,1153.25 L675.73,1154.65 L676.8,1156.14 L677.91,1157.62 L679.24,1159.73 L680.47,1162.3 L681.67,1165 L682.93,1167.5 L684.32,1169.5 L685.92,1170.65 L687.54,1170.91 L689.36,1170.68 L691.27,1170.07 L693.18,1169.2 L694.98,1168.17 L696.59,1167.1 L698.03,1165.92 L699.36,1164.56 L700.58,1163.04 L701.7,1161.36 L702.73,1159.55 L703.7,1157.62 L704.77,1154.31 L705.58,1150.1" fill="none" stroke="#f00" stroke-width="8.5" stroke-linecap="round" stroke-linejoin="round" stroke-dasharray="22.7 37.3"/>
<path d="M705.58,1150.1 L706.24,1145.64 L706.86,1141.61 L707.56,1138.67 L708.44,1137.47 L709.34,1138.03 L710.32,1139.65 L711.36,1142.02 L712.41,1144.83 L713.42,1147.77 L714.36,1150.51 L715.48,1154.02 L716.53,1157.84 L717.53,1161.88 L718.48,1166.02 L719.39,1170.16 L720.29,1174.21 L721.14,1178.1 L721.95,1181.93" fill="none" stroke="#f00" stroke-width="8.5" stroke-linecap="round" stroke-linejoin="round" stroke-dasharray="22.7 37.3"/>
<path d="M721.95,1181.93 L722.72,1185.77 L723.48,1189.67 L724.24,1193.7 L725.03,1197.91 L725.99,1203.33 L726.94,1209.1 L727.91,1215.04 L728.89,1221 L729.9,1226.8 L730.95,1232.27 L731.74,1236.95" fill="none" stroke="#f00" stroke-width="8.5" stroke-linecap="round" stroke-linejoin="round" stroke-dasharray="22.7 37.3"/>
<path d="M731.74,1236.95 L732.37,1241.82 L733.03,1246.56 L733.88,1250.9 L735.1,1254.52 L736.88,1257.15 L738.48,1258.27 L740.35,1258.92 L742.4,1259.24 L744.53,1259.35 L746.67,1259.4 L748.73,1259.52 L750.75,1259.81 L752.85,1260.19 L754.96,1260.5 L756.99,1260.59 L758.89,1260.32 L760.58,1259.52 L762.61,1257.26 L764.24,1253.91" fill="none" stroke="#f00" stroke-width="8.5" stroke-linecap="round" stroke-linejoin="round" stroke-dasharray="22.7 37.3"/>
<path d="M764.24,1253.91 L765.58,1249.77 L766.73,1245.17 L767.79,1240.41 L768.87,1235.82 L770.12,1230.28 L771.2,1224.32 L772.16,1218.14 L773.05,1211.94 L773.91,1205.92 L774.8,1200.28 L775.47,1195.73" fill="none" stroke="#f00" stroke-width="8.5" stroke-linecap="round" stroke-linejoin="round" stroke-dasharray="22.7 37.3"/>
<path d="M775.47,1195.73 L776.05,1191.21 L776.6,1186.81 L777.22,1182.63 L778.02,1178.79 L779.06,1175.39 L779.93,1173.16 L780.89,1170.92 L781.92,1168.85 L783.03,1167.09 L784.21,1165.82 L785.46,1165.2 L786.74,1165.33 L788.15,1166.05 L789.62,1167.19 L791.09,1168.57 L792.49,1170.02 L793.75,1171.36 L794.89,1172.65 L795.94,1174.01 L796.92,1175.45 L797.85,1176.95 L798.77,1178.51 L799.68,1180.13 L800.72,1182.14 L801.71,1184.31" fill="none" stroke="#f00" stroke-width="8.5" stroke-linecap="round" stroke-linejoin="round" stroke-dasharray="22.7 37.3"/>
<path d="M801.71,1184.31 L802.67,1186.55 L803.63,1188.82 L804.6,1191.05 L805.6,1193.17 L806.54,1195.24 L807.45,1197.53 L808.38,1199.79 L809.35,1201.75 L810.39,1203.19 L811.53,1203.83 L812.81,1203.59 L814.24,1202.67 L815.73,1201.22 L817.22,1199.44 L818.61,1197.49 L819.82,1195.54 L821.19,1192.67 L822.32,1189.35 L823.27,1185.71 L824.11,1181.88 L824.92,1178 L825.75,1174.21 L826.6,1169.62" fill="none" stroke="#f00" stroke-width="8.5" stroke-linecap="round" stroke-linejoin="round" stroke-dasharray="22.7 37.3"/>
<path d="M826.6,1169.62 L827.34,1164.27 L828.04,1158.86 L828.76,1154.09 L829.55,1150.68 L830.49,1149.32 L831.38,1150.04 L832.38,1152.06 L833.42,1154.96 L834.47,1158.31 L835.48,1161.71 L836.41,1164.73 L837.3,1167.57 L838.13,1170.45 L838.91,1173.38 L839.67,1176.35 L840.41,1179.39 L841.15,1182.5 L841.96,1186.03 L842.72,1189.61" fill="none" stroke="#f00" stroke-width="8.5" stroke-linecap="round" stroke-linejoin="round" stroke-dasharray="22.7 37.3"/>
<path d="M842.72,1189.61 L843.46,1193.27 L844.21,1197.03 L845.01,1200.94 L845.89,1205.02 L847.14,1210.57 L848.5,1216.57 L849.94,1222.8 L851.4,1229.02 L852.83,1235.02 L854.19,1240.56 L855.08,1244.81" fill="none" stroke="#f00" stroke-width="8.5" stroke-linecap="round" stroke-linejoin="round" stroke-dasharray="22.7 37.3"/>
<path d="M855.08,1244.81 L855.79,1249.07 L856.49,1253.19 L857.33,1257 L858.49,1260.35 L860.11,1263.08 L861.71,1264.71 L863.57,1266.08 L865.6,1267.17 L867.73,1268.02 L869.88,1268.62 L871.96,1269 L873.96,1269.19 L876.05,1269.2 L878.16,1269 L880.2,1268.53 L882.11,1267.76 L883.81,1266.63 L885.78,1264.36 L887.41,1261.31" fill="none" stroke="#f00" stroke-width="8.5" stroke-linecap="round" stroke-linejoin="round" stroke-dasharray="22.7 37.3"/>
<path d="M887.41,1261.31 L888.79,1257.67 L889.98,1253.65 L891.06,1249.46 L892.11,1245.3 L893.21,1239.85 L893.99,1233.86 L894.59,1227.61 L895.17,1221.33 L895.87,1215.3 L896.85,1209.75 L897.74,1205.28" fill="none" stroke="#f00" stroke-width="8.5" stroke-linecap="round" stroke-linejoin="round" stroke-dasharray="22.7 37.3"/>
<path d="M897.74,1205.28 L898.6,1200.58 L899.54,1196.03 L900.67,1192.03 L902.11,1188.97 L903.95,1187.24 L905.75,1186.99 L907.83,1187.54 L910.09,1188.66 L912.44,1190.12 L914.77,1191.7 L916.99,1193.17 L919.44,1194.94 L921.91,1197.08 L924.37,1199.37 L926.77,1201.6 L929.06,1203.55 L931.21,1205.02 L932.49,1205.74 L933.71,1206.42 L934.9,1206.98" fill="none" stroke="#f00" stroke-width="8.5" stroke-linecap="round" stroke-linejoin="round" stroke-dasharray="22.7 37.3"/>
<path d="M934.9,1206.98 L936.05,1207.37 L937.19,1207.52 L938.32,1207.38 L939.8,1206.73 L941.29,1205.61 L942.75,1204.09 L944.15,1202.25 L945.45,1200.17 L946.61,1197.91 L948.27,1193.05 L949.51,1186.92 L950.46,1180.04 L951.2,1172.91 L951.86,1166.06 L952.54,1159.99 L953.02,1155.39" fill="none" stroke="#f00" stroke-width="8.5" stroke-linecap="round" stroke-linejoin="round" stroke-dasharray="22.7 37.3"/>
<path d="M953.02,1155.39 L953.39,1150.4 L953.71,1145.58 L954.04,1141.46 L954.42,1138.58 L954.91,1137.47 L955.42,1138.22 L956,1140.24 L956.62,1143.12 L957.25,1146.46 L957.87,1149.85 L958.46,1152.88 L959.08,1155.89 L959.69,1158.97 L960.29,1162.09 L960.87,1165.28 L961.45,1168.53 L962.02,1171.84 L962.62,1175.57 L963.19,1179.36" fill="none" stroke="#f00" stroke-width="8.5" stroke-linecap="round" stroke-linejoin="round" stroke-dasharray="22.7 37.3"/>
<path d="M963.19,1179.36 L963.75,1183.22 L964.32,1187.18 L964.92,1191.28 L965.57,1195.54 L966.41,1201.14 L967.26,1207.14 L968.15,1213.35 L969.13,1219.55 L970.24,1225.53 L971.5,1231.08 L972.63,1235.48" fill="none" stroke="#f00" stroke-width="8.5" stroke-linecap="round" stroke-linejoin="round" stroke-dasharray="22.7 37.3"/>
<path d="M972.63,1235.48 L973.81,1239.8 L975.07,1243.97 L976.46,1247.91 L978.02,1251.54 L979.79,1254.78 L981.32,1257.1 L982.97,1259.31 L984.72,1261.33 L986.55,1263.08 L988.47,1264.48 L990.46,1265.45 L992.37,1265.98 L994.47,1266.28 L996.64,1266.29 L998.74,1265.99 L1000.67,1265.33 L1002.31,1264.26 L1004.14,1261.64 L1005.43,1257.86" fill="none" stroke="#f00" stroke-width="8.5" stroke-linecap="round" stroke-linejoin="round" stroke-dasharray="22.7 37.3"/>
<path d="M1005.43,1257.86 L1006.32,1253.26 L1006.97,1248.22 L1007.56,1243.07 L1008.23,1238.19 L1009.02,1232.87 L1009.69,1227.3 L1010.27,1221.62 L1010.79,1215.94 L1011.28,1210.36 L1011.79,1205.02 L1012.18,1200.42" fill="none" stroke="#f00" stroke-width="8.5" stroke-linecap="round" stroke-linejoin="round" stroke-dasharray="22.7 37.3"/>
<path d="M1012.18,1200.42 L1012.49,1195.86 L1012.78,1191.4 L1013.11,1187.06 L1013.55,1182.9 L1014.15,1178.95 L1014.71,1175.84 L1015.28,1172.79 L1015.91,1169.85 L1016.68,1167.09 L1017.65,1164.57 L1018.89,1162.36 L1020.2,1160.84 L1021.72,1159.59 L1023.39,1158.5" fill="none" stroke="#f00" stroke-width="8.5" stroke-linecap="round" stroke-linejoin="round" stroke-dasharray="22.7 37.3"/>
<path d="M1023.39,1158.5 L1025.11,1157.49 L1026.8,1156.43 L1028.37,1155.25 L1029.78,1153.83 L1031.08,1152.23 L1032.35,1150.6 L1033.65,1149.08 L1035.07,1147.82 L1036.67,1146.95 L1038.6,1146.52 L1040.73,1146.46 L1042.98,1146.68 L1045.27,1147.09 L1047.54,1147.61 L1049.7,1148.14 L1051.76,1148.84 L1053.81,1149.82 L1055.83,1150.89 L1057.8,1151.89 L1059.71,1152.61 L1061.55,1152.88 L1063.06,1152.78 L1064.56,1152.5 L1066.02,1152.03 L1067.4,1151.36 L1068.69,1150.46 L1069.85,1149.32 L1071.28,1146.33 L1072.23,1141.95" fill="none" stroke="#f00" stroke-width="8.5" stroke-linecap="round" stroke-linejoin="round" stroke-dasharray="22.7 37.3"/>
<path d="M1072.23,1141.95 L1072.93,1137 L1073.6,1132.28 L1074.47,1128.61 L1075.77,1126.81 L1076.82,1126.75 L1077.99,1127.23 L1079.23,1128.09 L1080.5,1129.19 L1081.73,1130.39 L1082.88,1131.55 L1084.22,1132.95 L1085.55,1134.51 L1086.83,1136.21 L1088.03,1138.06 L1089.09,1140.06 L1089.99,1142.21 L1090.85,1145.35 L1091.37,1148.81" fill="none" stroke="#f00" stroke-width="8.5" stroke-linecap="round" stroke-linejoin="round" stroke-dasharray="22.7 37.3"/>
<path d="M1091.37,1148.81 L1091.66,1152.53 L1091.84,1156.46 L1092.04,1160.55 L1092.36,1164.73 L1092.91,1170.42 L1093.47,1176.61 L1094.04,1183.04 L1094.64,1189.48 L1095.26,1195.7 L1095.92,1201.46 L1096.41,1205.89" fill="none" stroke="#f00" stroke-width="8.5" stroke-linecap="round" stroke-linejoin="round" stroke-dasharray="22.7 37.3"/>
<path d="M1096.41,1205.89 L1096.85,1210.3 L1097.31,1214.56 L1097.86,1218.55 L1098.55,1222.12 L1099.47,1225.16 L1100.15,1226.65 L1100.91,1227.92 L1101.72,1229.04 L1102.56,1230.09 L1103.4,1231.14 L1104.21,1232.27" fill="none" stroke="#f00" stroke-width="8.5" stroke-linecap="round" stroke-linejoin="round" stroke-dasharray="22.7 37.3"/>
<rect x="208.5" y="953" width="460.5" height="142.5" fill="#fff" stroke="#000" stroke-width="5" stroke-linejoin="round"/>
<line x1="244" y1="1000.5" x2="316" y2="1000.5" stroke="#000" stroke-width="7.8" stroke-linecap="round"/>
<line x1="244" y1="1048" x2="316" y2="1048" stroke="#f00" stroke-width="7.8" stroke-linecap="round" stroke-dasharray="23 37"/>
<text x="350.8" y="1014.4" textLength="130.87" lengthAdjust="spacingAndGlyphs" font-size="42">Actuals</text>
<text x="350.82" y="1062.2" textLength="286.89" lengthAdjust="spacingAndGlyphs" font-size="42">Forecasts (May)</text>
</g>
<g>
<text x="1810.85" y="873.3" textLength="173.28" lengthAdjust="spacingAndGlyphs" font-weight="bold" font-size="52">(b) May</text>
<text transform="translate(1281.2,1209.39) rotate(-90)" textLength="132.97" lengthAdjust="spacingAndGlyphs" font-size="42">Density</text>
<line x1="1409.6" y1="1317.8" x2="1433" y2="1317.8" stroke="#000" stroke-width="5.2" stroke-linecap="round"/>
<line x1="1409.6" y1="1247.6" x2="1433" y2="1247.6" stroke="#000" stroke-width="5.2" stroke-linecap="round"/>
<line x1="1409.6" y1="1177.4" x2="1433" y2="1177.4" stroke="#000" stroke-width="5.2" stroke-linecap="round"/>
<line x1="1409.6" y1="1107.2" x2="1433" y2="1107.2" stroke="#000" stroke-width="5.2" stroke-linecap="round"/>
<line x1="1409.6" y1="1037" x2="1433" y2="1037" stroke="#000" stroke-width="5.2" stroke-linecap="round"/>
<line x1="1409.6" y1="966.8" x2="1433" y2="966.8" stroke="#000" stroke-width="5.2" stroke-linecap="round"/>
<text transform="translate(1375.7,1389.28) rotate(-90)" textLength="143.06" lengthAdjust="spacingAndGlyphs" font-size="42">0.00000</text>
<text transform="translate(1375.7,1177.36) rotate(-90)" textLength="140.5" lengthAdjust="spacingAndGlyphs" font-size="42">0.00015</text>
<line x1="1545.5" y1="1334" x2="1545.5" y2="1354.9" stroke="#000" stroke-width="5.2" stroke-linecap="round"/>
<text x="1489.39" y="1417.5" textLength="111.75" lengthAdjust="spacingAndGlyphs" font-size="42">20000</text>
<line x1="1741.25" y1="1334" x2="1741.25" y2="1354.9" stroke="#000" stroke-width="5.2" stroke-linecap="round"/>
<text x="1685.14" y="1417.5" textLength="111.75" lengthAdjust="spacingAndGlyphs" font-size="42">25000</text>
<line x1="1937" y1="1334" x2="1937" y2="1354.9" stroke="#000" stroke-width="5.2" stroke-linecap="round"/>
<text x="1881.4" y="1417.5" textLength="111.23" lengthAdjust="spacingAndGlyphs" font-size="42">30000</text>
<line x1="2132.75" y1="1334" x2="2132.75" y2="1354.9" stroke="#000" stroke-width="5.2" stroke-linecap="round"/>
<text x="2077.15" y="1417.5" textLength="111.23" lengthAdjust="spacingAndGlyphs" font-size="42">35000</text>
<line x1="2328.5" y1="1334" x2="2328.5" y2="1354.9" stroke="#000" stroke-width="5.2" stroke-linecap="round"/>
<text x="2273.5" y="1417.5" textLength="110.62" lengthAdjust="spacingAndGlyphs" font-size="42">40000</text>
<text x="1612.89" y="1512.2" textLength="570.64" lengthAdjust="spacingAndGlyphs" font-size="42">Hourly electricity demand &#160;(MW)</text>
<line x1="1433" y1="1317.8" x2="2363" y2="1317.8" stroke="#bebebe" stroke-width="1.2" stroke-linecap="butt"/>
<rect x="1433" y="953" width="930" height="378.8" fill="none" stroke="#000" stroke-width="5.2" stroke-linejoin="round"/>
<path d="M1448.64,1316.99 L1452.07,1316.92 L1455.53,1316.86 L1458.99,1316.8 L1462.42,1316.73 L1465.8,1316.64 L1469.09,1316.51 L1471.99,1316.38 L1474.83,1316.26 L1477.63,1316.11 L1480.39,1315.93 L1483.15,1315.66 L1485.93,1315.31 L1488.77,1314.84 L1491.62,1314.3 L1494.47,1313.69 L1497.29,1313.01 L1500.07,1312.26 L1502.77,1311.46 L1505.27,1310.65 L1507.72,1309.79 L1510.13,1308.88 L1512.5,1307.9 L1514.86,1306.83 L1517.21,1305.68 L1519.67,1304.39 L1522.12,1303.01 L1524.55,1301.55 L1526.95,1299.99 L1529.32,1298.32 L1531.65,1296.54 L1534.14,1294.41 L1536.57,1292.1 L1538.97,1289.67 L1541.34,1287.15 L1543.71,1284.61 L1546.08,1282.1 L1548.51,1279.56 L1550.93,1276.99 L1553.34,1274.39 L1555.74,1271.77 L1558.13,1269.13 L1560.52,1266.46 L1562.94,1263.71 L1565.35,1260.92 L1567.75,1258.1 L1570.15,1255.27 L1572.55,1252.44 L1574.95,1249.62 L1577.35,1246.79 L1579.74,1243.94 L1582.13,1241.09 L1584.53,1238.26 L1586.95,1235.48 L1589.39,1232.78 L1591.75,1230.24 L1594.12,1227.73 L1596.51,1225.27 L1598.92,1222.87 L1601.36,1220.56 L1603.83,1218.34 L1606.17,1216.31 L1608.52,1214.3 L1610.9,1212.37 L1613.31,1210.56 L1615.76,1208.92 L1618.26,1207.52 L1620.61,1206.44 L1623.02,1205.51 L1625.47,1204.73 L1627.92,1204.09 L1630.34,1203.58 L1632.7,1203.19 L1634.74,1202.94 L1636.74,1202.8 L1638.71,1202.75 L1640.68,1202.81 L1642.68,1202.96 L1644.73,1203.19 L1647.08,1203.55 L1649.48,1204.04 L1651.92,1204.64 L1654.36,1205.35 L1656.78,1206.15 L1659.16,1207.04 L1661.61,1208.08 L1664.04,1209.26 L1666.45,1210.55 L1668.84,1211.91 L1671.22,1213.31 L1673.6,1214.74 L1676.02,1216.26 L1678.42,1217.9 L1680.81,1219.58 L1683.2,1221.25 L1685.6,1222.86 L1688.03,1224.36 L1690.4,1225.74 L1692.78,1227.09 L1695.17,1228.4 L1697.58,1229.6 L1700.02,1230.68 L1702.47,1231.58 L1704.84,1232.28 L1707.23,1232.86 L1709.64,1233.32 L1712.07,1233.66 L1714.49,1233.88 L1716.91,1233.98 L1719.32,1233.95 L1721.73,1233.79 L1724.15,1233.52 L1726.56,1233.13 L1728.96,1232.64 L1731.34,1232.06 L1733.78,1231.34 L1736.21,1230.49 L1738.62,1229.53 L1741.01,1228.49 L1743.4,1227.4 L1745.78,1226.28 L1748.21,1225.08 L1750.63,1223.8 L1753.03,1222.47 L1755.43,1221.1 L1757.82,1219.72 L1760.21,1218.34 L1762.63,1216.97 L1765.03,1215.57 L1767.44,1214.16 L1769.84,1212.75 L1772.25,1211.33 L1774.65,1209.92 L1777.06,1208.53 L1779.47,1207.15 L1781.88,1205.78 L1784.29,1204.38 L1786.7,1202.96 L1789.09,1201.5 L1791.51,1199.97 L1793.93,1198.41 L1796.34,1196.82 L1798.74,1195.2 L1801.14,1193.55 L1803.52,1191.88 L1805.95,1190.15 L1808.38,1188.41 L1810.79,1186.64 L1813.2,1184.83 L1815.59,1182.97 L1817.96,1181.05 L1820.41,1178.98 L1822.84,1176.85 L1825.25,1174.67 L1827.65,1172.43 L1830.03,1170.15 L1832.39,1167.82 L1834.84,1165.33 L1837.26,1162.78 L1839.67,1160.17 L1842.06,1157.53 L1844.45,1154.86 L1846.83,1152.18 L1849.25,1149.42 L1851.66,1146.63 L1854.07,1143.81 L1856.46,1140.98 L1858.86,1138.15 L1861.27,1135.34 L1863.64,1132.44 L1865.99,1129.43 L1868.34,1126.41 L1870.71,1123.51 L1873.16,1120.84 L1875.7,1118.5 L1878.01,1116.69 L1880.41,1114.97 L1882.86,1113.43 L1885.31,1112.12 L1887.71,1111.1 L1890,1110.46 L1891.7,1110.22 L1893.38,1110.17 L1895.02,1110.3 L1896.63,1110.6 L1898.2,1111.07 L1899.75,1111.68 L1901.47,1112.63 L1903.14,1113.87 L1904.77,1115.31 L1906.36,1116.9 L1907.94,1118.56 L1909.5,1120.21 L1911.19,1122.03 L1912.86,1123.92 L1914.51,1125.9 L1916.12,1127.97 L1917.7,1130.13 L1919.24,1132.39 L1920.96,1135.17 L1922.62,1138.12 L1924.23,1141.2 L1925.82,1144.36 L1927.4,1147.53 L1928.99,1150.67 L1930.63,1153.86 L1932.27,1157.06 L1933.91,1160.28 L1935.53,1163.54 L1937.14,1166.83 L1938.74,1170.16 L1940.39,1173.73 L1942.02,1177.36 L1943.64,1181.04 L1945.25,1184.73 L1946.87,1188.42 L1948.49,1192.1 L1950.1,1195.77 L1951.72,1199.46 L1953.33,1203.16 L1954.95,1206.83 L1956.58,1210.46 L1958.23,1214.03 L1959.81,1217.35 L1961.39,1220.59 L1962.98,1223.8 L1964.6,1227.01 L1966.26,1230.24 L1967.98,1233.52 L1969.89,1237.16 L1971.87,1240.88 L1973.89,1244.64 L1975.95,1248.36 L1978.04,1251.99 L1980.16,1255.46 L1982.11,1258.49 L1984.06,1261.44 L1986.04,1264.31 L1988.06,1267.11 L1990.16,1269.84 L1992.35,1272.51 L1994.61,1275.13 L1996.94,1277.69 L1999.34,1280.19 L2001.81,1282.61 L2004.35,1284.93 L2006.97,1287.14 L2009.66,1289.2 L2012.44,1291.18 L2015.29,1293.05 L2018.19,1294.83 L2021.11,1296.51 L2024.03,1298.1 L2026.81,1299.52 L2029.6,1300.84 L2032.42,1302.07 L2035.26,1303.23 L2038.15,1304.34 L2041.09,1305.41 L2044.21,1306.49 L2047.37,1307.5 L2050.57,1308.45 L2053.84,1309.36 L2057.17,1310.21 L2060.58,1311.02 L2064.47,1311.86 L2068.48,1312.65 L2072.57,1313.37 L2076.71,1314.04 L2080.85,1314.63 L2084.95,1315.16 L2088.97,1315.59 L2092.94,1315.94 L2096.92,1316.22 L2100.95,1316.46 L2105.07,1316.67 L2109.32,1316.87 L2114.36,1317.06 L2119.57,1317.2 L2124.9,1317.31 L2130.28,1317.4 L2135.67,1317.49 L2141,1317.6" fill="none" stroke="#000" stroke-width="4.8" stroke-linecap="round" stroke-linejoin="round"/>
<path d="M1455.86,1317.47 L1458.04,1317.4 L1460.21,1317.33 L1462.37,1317.26 L1464.56,1317.19 L1466.79,1317.1 L1469.09,1316.99 L1471.81,1316.85 L1474.66,1316.71 L1477.57,1316.54 L1480.46,1316.34 L1483.27,1316.1 L1485.93,1315.79 L1488.04,1315.49 L1490.04,1315.17 L1491.97,1314.81 L1493.9,1314.4 L1495.88,1313.93 L1497.96,1313.38 L1500.68,1312.58 L1503.57,1311.64 L1506.54,1310.6 L1509.47,1309.51 L1512.26,1308.42 L1514.8,1307.37 L1516.57,1306.62 L1518.2,1305.93 L1519.75,1305.23 L1521.26,1304.48 L1522.81,1303.6 L1524.43,1302.55 L1526.8,1300.75 L1529.31,1298.58 L1531.86,1296.19 L1534.37,1293.74 L1536.74,1291.4 L1538.86,1289.32 L1540.21,1288.05 L1541.43,1286.91 L1542.58,1285.83 L1543.7,1284.72 L1544.85,1283.5 L1546.08,1282.1 L1548,1279.69 L1550.05,1276.88 L1552.15,1273.86 L1554.24,1270.81 L1556.25,1267.88 L1558.11,1265.26 L1559.42,1263.53 L1560.68,1261.94 L1561.88,1260.44 L1563.05,1258.94 L1564.2,1257.36 L1565.33,1255.64 L1566.59,1253.41 L1567.79,1250.99 L1568.96,1248.48 L1570.12,1245.96 L1571.31,1243.5 L1572.55,1241.2 L1573.7,1239.3 L1574.87,1237.52 L1576.06,1235.79 L1577.27,1234.07 L1578.51,1232.28 L1579.77,1230.37 L1581.31,1227.89 L1582.92,1225.23 L1584.55,1222.48 L1586.2,1219.75 L1587.82,1217.14 L1589.39,1214.74 L1590.59,1212.99 L1591.74,1211.37 L1592.88,1209.82 L1594.04,1208.3 L1595.27,1206.75 L1596.61,1205.11 L1598.4,1202.91 L1600.34,1200.53 L1602.37,1198.1 L1604.46,1195.76 L1606.57,1193.64 L1608.64,1191.88 L1610.19,1190.74 L1611.7,1189.73 L1613.22,1188.85 L1614.79,1188.11 L1616.46,1187.52 L1618.26,1187.07 L1620.8,1186.72 L1623.62,1186.61 L1626.59,1186.73 L1629.57,1187.05 L1632.45,1187.57 L1635.1,1188.27 L1637.3,1189.09 L1639.39,1190.11 L1641.38,1191.29 L1643.32,1192.6 L1645.23,1194.01 L1647.13,1195.49 L1649.25,1197.28 L1651.35,1199.29 L1653.42,1201.43 L1655.43,1203.58 L1657.35,1205.64 L1659.16,1207.52 L1660.44,1208.8 L1661.61,1209.97 L1662.73,1211.09 L1663.86,1212.21 L1665.06,1213.41 L1666.38,1214.74 L1668.52,1216.94 L1670.89,1219.45 L1673.4,1222.1 L1675.95,1224.72 L1678.45,1227.13 L1680.82,1229.17 L1682.45,1230.42 L1684.01,1231.51 L1685.54,1232.48 L1687.09,1233.39 L1688.71,1234.28 L1690.44,1235.19 L1692.64,1236.35 L1694.98,1237.58 L1697.41,1238.77 L1699.9,1239.84 L1702.4,1240.68 L1704.88,1241.2 L1707.26,1241.37 L1709.67,1241.28 L1712.1,1240.98 L1714.52,1240.51 L1716.93,1239.93 L1719.31,1239.28 L1721.77,1238.47 L1724.23,1237.5 L1726.68,1236.39 L1729.09,1235.2 L1731.45,1233.99 L1733.75,1232.78 L1735.84,1231.67 L1737.86,1230.56 L1739.83,1229.42 L1741.79,1228.23 L1743.77,1226.95 L1745.78,1225.56 L1748.18,1223.73 L1750.63,1221.67 L1753.11,1219.49 L1755.55,1217.33 L1757.94,1215.3 L1760.21,1213.53 L1761.88,1212.37 L1763.45,1211.34 L1764.98,1210.39 L1766.53,1209.48 L1768.13,1208.53 L1769.84,1207.52 L1772.08,1206.16 L1774.47,1204.73 L1776.93,1203.27 L1779.43,1201.81 L1781.9,1200.41 L1784.27,1199.1 L1786.32,1198.02 L1788.31,1197 L1790.27,1196.03 L1792.24,1195.07 L1794.25,1194.1 L1796.3,1193.08 L1798.65,1191.92 L1801.08,1190.74 L1803.54,1189.55 L1806,1188.33 L1808.41,1187.11 L1810.74,1185.86 L1812.82,1184.71 L1814.83,1183.57 L1816.8,1182.42 L1818.76,1181.23 L1820.74,1179.98 L1822.77,1178.65 L1825.16,1176.99 L1827.64,1175.21 L1830.14,1173.35 L1832.6,1171.47 L1834.98,1169.6 L1837.21,1167.82 L1838.94,1166.41 L1840.57,1165.06 L1842.13,1163.73 L1843.67,1162.37 L1845.22,1160.94 L1846.83,1159.4 L1848.83,1157.35 L1850.89,1155.09 L1852.98,1152.74 L1855.03,1150.4 L1857.01,1148.17 L1858.86,1146.16 L1860.12,1144.84 L1861.28,1143.63 L1862.39,1142.49 L1863.52,1141.37 L1864.73,1140.2 L1866.08,1138.95 L1868.2,1137.01 L1870.57,1134.86 L1873.08,1132.64 L1875.65,1130.49 L1878.16,1128.53 L1880.51,1126.92 L1882.14,1125.9 L1883.7,1124.97 L1885.22,1124.14 L1886.76,1123.46 L1888.34,1122.95 L1890,1122.65 L1891.94,1122.55 L1893.97,1122.69 L1896.05,1123.03 L1898.14,1123.56 L1900.2,1124.25 L1902.18,1125.08 L1904.32,1126.23 L1906.41,1127.63 L1908.46,1129.24 L1910.46,1131.01 L1912.43,1132.89 L1914.37,1134.83 L1916.51,1137.13 L1918.6,1139.6 L1920.64,1142.21 L1922.65,1144.94 L1924.61,1147.77 L1926.55,1150.67 L1928.68,1154.04 L1930.76,1157.55 L1932.8,1161.19 L1934.8,1164.93 L1936.78,1168.74 L1938.74,1172.6 L1940.82,1176.9 L1942.86,1181.36 L1944.87,1185.9 L1946.86,1190.47 L1948.88,1194.99 L1950.92,1199.41 L1952.93,1203.55 L1954.95,1207.63 L1956.99,1211.68 L1959.03,1215.7 L1961.07,1219.73 L1963.11,1223.78 L1965.12,1227.9 L1967.1,1232.09 L1969.09,1236.29 L1971.09,1240.41 L1973.16,1244.39 L1975.29,1248.15 L1977.22,1251.23 L1979.18,1254.15 L1981.18,1256.96 L1983.22,1259.71 L1985.32,1262.44 L1987.48,1265.2 L1989.78,1268.13 L1992.15,1271.08 L1994.58,1274.02 L1997.05,1276.89 L1999.56,1279.66 L2002.1,1282.26 L2004.46,1284.52 L2006.85,1286.69 L2009.28,1288.77 L2011.74,1290.75 L2014.22,1292.64 L2016.72,1294.45 L2019.08,1296.05 L2021.43,1297.57 L2023.8,1299 L2026.23,1300.37 L2028.73,1301.69 L2031.34,1302.97 L2034.38,1304.36 L2037.57,1305.69 L2040.84,1306.97 L2044.18,1308.16 L2047.52,1309.27 L2050.83,1310.29 L2054.04,1311.17 L2057.25,1311.97 L2060.47,1312.68 L2063.72,1313.32 L2067,1313.9 L2070.33,1314.43 L2073.86,1314.91 L2077.41,1315.31 L2081,1315.63 L2084.66,1315.91 L2088.4,1316.15 L2092.26,1316.38 L2096.89,1316.59 L2101.69,1316.74 L2106.62,1316.84 L2111.6,1316.93 L2116.58,1317.01 L2121.5,1317.11" fill="none" stroke="#f00" stroke-width="4.8" stroke-linecap="round" stroke-linejoin="round" stroke-dasharray="9.8 20.2"/>
<rect x="1433" y="953" width="449.4" height="142.5" fill="#fff" stroke="#000" stroke-width="5" stroke-linejoin="round"/>
<line x1="1468.6" y1="1000.5" x2="1540.2" y2="1000.5" stroke="#000" stroke-width="7.8" stroke-linecap="round"/>
<line x1="1468.6" y1="1048" x2="1540.2" y2="1048" stroke="#f00" stroke-width="7.8" stroke-linecap="round" stroke-dasharray="23 37"/>
<text x="1576.4" y="1014.4" textLength="130.16" lengthAdjust="spacingAndGlyphs" font-size="42">Actuals</text>
<text x="1575.22" y="1062.2" textLength="276.49" lengthAdjust="spacingAndGlyphs" font-size="42">Forecasts(May)</text>
</g>
<g>
<text x="577.53" y="1689.8" textLength="191.27" lengthAdjust="spacingAndGlyphs" font-weight="bold" font-size="52">(c) June</text>
<text transform="translate(56,2239.01) rotate(-90)" textLength="559.42" lengthAdjust="spacingAndGlyphs" font-size="42">Hourly electricity demand (MW)</text>
<line x1="184.6" y1="2105.2" x2="208.5" y2="2105.2" stroke="#000" stroke-width="5.2" stroke-linecap="round"/>
<line x1="184.6" y1="2032.03" x2="208.5" y2="2032.03" stroke="#000" stroke-width="5.2" stroke-linecap="round"/>
<line x1="184.6" y1="1958.85" x2="208.5" y2="1958.85" stroke="#000" stroke-width="5.2" stroke-linecap="round"/>
<line x1="184.6" y1="1885.67" x2="208.5" y2="1885.67" stroke="#000" stroke-width="5.2" stroke-linecap="round"/>
<line x1="184.6" y1="1812.5" x2="208.5" y2="1812.5" stroke="#000" stroke-width="5.2" stroke-linecap="round"/>
<text transform="translate(151,2161.1) rotate(-90)" textLength="111.34" lengthAdjust="spacingAndGlyphs" font-size="42">20000</text>
<text transform="translate(151,2014.24) rotate(-90)" textLength="110.82" lengthAdjust="spacingAndGlyphs" font-size="42">30000</text>
<text transform="translate(151,1867.29) rotate(-90)" textLength="110.21" lengthAdjust="spacingAndGlyphs" font-size="42">40000</text>
<line x1="237.79" y1="2150.5" x2="237.79" y2="2171.4" stroke="#000" stroke-width="5.2" stroke-linecap="round"/>
<line x1="495.61" y1="2150.5" x2="495.61" y2="2171.4" stroke="#000" stroke-width="5.2" stroke-linecap="round"/>
<line x1="753.43" y1="2150.5" x2="753.43" y2="2171.4" stroke="#000" stroke-width="5.2" stroke-linecap="round"/>
<line x1="1011.25" y1="2150.5" x2="1011.25" y2="2171.4" stroke="#000" stroke-width="5.2" stroke-linecap="round"/>
<text x="226.64" y="2234" textLength="22.35" lengthAdjust="spacingAndGlyphs" font-size="42">0</text>
<text x="473.26" y="2234" textLength="44.7" lengthAdjust="spacingAndGlyphs" font-size="42">50</text>
<text x="719.17" y="2234" textLength="67.05" lengthAdjust="spacingAndGlyphs" font-size="42">100</text>
<text x="976.99" y="2234" textLength="67.05" lengthAdjust="spacingAndGlyphs" font-size="42">150</text>
<text x="491.9" y="2328.8" textLength="362.41" lengthAdjust="spacingAndGlyphs" font-size="42">Observation number</text>
<rect x="208.5" y="1769.5" width="930" height="378.8" fill="none" stroke="#000" stroke-width="5.2" stroke-linejoin="round"/>
<path d="M240.66,2055.19 L242.67,2056.56 L244.71,2058.16 L246.76,2059.75 L248.76,2061.12 L250.69,2062.04 L252.51,2062.3 L254.07,2061.94 L255.59,2061.16 L257.05,2060.03 L258.43,2058.62 L259.69,2056.98 L260.81,2055.19 L262.24,2051.7 L263.24,2047.39 L263.95,2042.49 L264.48,2037.25 L264.97,2031.93 L265.55,2026.75 L266.26,2021.04 L266.91,2015.12 L267.5,2009.08 L268.06,2003.02 L268.59,1997.03 L269.1,1991.21 L269.54,1985.87 L269.94,1980.53 L270.31,1975.26 L270.67,1970.1 L271.05,1965.13 L271.47,1960.4 L271.78,1956.35 L272.03,1951.95 L272.3,1947.67 L272.64,1943.98 L273.13,1941.35 L273.84,1940.25 L274.48,1940.6 L275.22,1941.71 L276.04,1943.33 L276.89,1945.18 L277.75,1947 L278.58,1948.55 L279.35,1949.8 L280.12,1951.04 L280.9,1952.26 L281.69,1953.45 L282.49,1954.59 L283.32,1955.66 L284.08,1956.64 L284.85,1957.7 L285.63,1958.71 L286.42,1959.57 L287.24,1960.17 L288.06,1960.4 L289.01,1959.97 L289.98,1958.89 L290.96,1957.48 L291.96,1956.06 L292.97,1954.95 L293.99,1954.47 L294.97,1954.64 L295.98,1955.18 L297,1956.01 L298.01,1957.02 L298.99,1958.12 L299.91,1959.21 L300.98,1960.7 L301.94,1962.43 L302.85,1964.3 L303.76,1966.23 L304.74,1968.12 L305.84,1969.88 L307.07,1971.71 L308.37,1973.69 L309.74,1975.63 L311.16,1977.35 L312.63,1978.65 L314.13,1979.36 L315.48,1979.41 L316.93,1979.07 L318.41,1978.43 L319.86,1977.6 L321.22,1976.69 L322.43,1975.8 L323.4,1975.02 L324.3,1974.22 L325.12,1973.34 L325.87,1972.35 L326.55,1971.21 L327.17,1969.88 L327.92,1966.77 L328.25,1962.79 L328.37,1958.35 L328.48,1953.84 L328.8,1949.65 L329.54,1946.18 L330.32,1944.06 L331.25,1941.91 L332.28,1939.91 L333.36,1938.25 L334.43,1937.12 L335.46,1936.7 L336.45,1937.15 L337.45,1938.34 L338.44,1940.06 L339.43,1942.08 L340.41,1944.2 L341.38,1946.18 L342.63,1948.6 L343.9,1951.17 L345.15,1953.88 L346.36,1956.72 L347.48,1959.69 L348.49,1962.77 L349.53,1966.72 L350.4,1970.93 L351.14,1975.32 L351.83,1979.82 L352.5,1984.35 L353.23,1988.84 L354.03,1993.52 L354.82,1998.27 L355.6,2003.06 L356.39,2007.84 L357.17,2012.59 L357.97,2017.28 L358.72,2021.72 L359.43,2026.16 L360.14,2030.57 L360.9,2034.92 L361.74,2039.19 L362.71,2043.34 L363.66,2047.22 L364.61,2051.21 L365.64,2055.12 L366.81,2058.78 L368.18,2062.03 L369.82,2064.67 L371.2,2066.24 L372.74,2067.67 L374.38,2068.88 L376.07,2069.82 L377.73,2070.42 L379.3,2070.6 L380.77,2070.34 L382.25,2069.7 L383.71,2068.74 L385.11,2067.54 L386.42,2066.16 L387.6,2064.67 L388.98,2062.26 L390.12,2059.36 L391.07,2056.12 L391.91,2052.67 L392.7,2049.16 L393.52,2045.71 L394.43,2041.92 L395.28,2037.99 L396.07,2033.97 L396.83,2029.94 L397.55,2025.93 L398.26,2022.02 L398.91,2018.42 L399.53,2014.91 L400.12,2011.42 L400.69,2007.92 L401.25,2004.36 L401.82,2000.69 L402.43,1996.36 L403.03,1991.77 L403.61,1987.09 L404.19,1982.55 L404.78,1978.32 L405.37,1974.62 L405.69,1972.42 L405.92,1970.25 L406.14,1968.22 L406.47,1966.42 L406.97,1964.96 L407.74,1963.95 L408.54,1963.49 L409.52,1963.22 L410.59,1963.13 L411.68,1963.22 L412.73,1963.5 L413.67,1963.95 L414.86,1965.24 L415.86,1967.22 L416.76,1969.65 L417.62,1972.26 L418.54,1974.79 L419.59,1976.99 L420.69,1978.68 L421.86,1980.26 L423.08,1981.78 L424.31,1983.28 L425.53,1984.83 L426.7,1986.47 L427.91,1988.36 L429.09,1990.35 L430.26,1992.39 L431.42,1994.43 L432.6,1996.42 L433.81,1998.32 L434.95,2000.17 L436.09,2002.19 L437.25,2004.16 L438.43,2005.9 L439.65,2007.18 L440.92,2007.8 L442.09,2007.75 L443.36,2007.3 L444.65,2006.52 L445.91,2005.5 L447.05,2004.32 L448.03,2003.06 L449.07,2001.01 L449.8,1998.53 L450.32,1995.73 L450.73,1992.71 L451.12,1989.59 L451.58,1986.47 L452.22,1982.42 L452.79,1978.06 L453.33,1973.54 L453.88,1968.99 L454.47,1964.56 L455.14,1960.4 L455.76,1956.63 L456.39,1952.48 L457.06,1948.42 L457.77,1944.91 L458.55,1942.43 L459.41,1941.44 L460.19,1941.94 L461.06,1943.4 L461.96,1945.54 L462.88,1948.09 L463.78,1950.77 L464.62,1953.29 L465.71,1956.7 L466.76,1960.43 L467.77,1964.39 L468.74,1968.52 L469.67,1972.74 L470.54,1976.99 L471.44,1981.89 L472.22,1986.99 L472.95,1992.21 L473.68,1997.47 L474.44,2002.69 L475.28,2007.8 L476.18,2012.63 L477.11,2017.42 L478.07,2022.18 L479.08,2026.91 L480.12,2031.59 L481.21,2036.23 L482.28,2040.73 L483.36,2045.27 L484.48,2049.77 L485.66,2054.15 L486.93,2058.36 L488.32,2062.3 L489.52,2065.47 L490.74,2068.6 L492.03,2071.62 L493.41,2074.4 L494.93,2076.86 L496.61,2078.89 L498.05,2080.22 L499.63,2081.45 L501.29,2082.49 L502.96,2083.25 L504.58,2083.66 L506.09,2083.63 L507.63,2083.01 L509.11,2081.83 L510.54,2080.23 L511.9,2078.34 L513.18,2076.27 L514.39,2074.15 L515.91,2070.95 L517.25,2067.28 L518.44,2063.28 L519.52,2059.07 L520.53,2054.75 L521.5,2050.45 L522.48,2045.56 L523.32,2040.47 L524.07,2035.25 L524.77,2029.99 L525.48,2024.76 L526.24,2019.65 L526.98,2014.67 L527.68,2009.55 L528.39,2004.46 L529.14,1999.59 L529.99,1995.11 L530.98,1991.21 L531.62,1988.92 L532.25,1986.67 L532.91,1984.58 L533.67,1982.77 L534.58,1981.38 L535.72,1980.54 L537.03,1980.33 L538.56,1980.6 L540.22,1981.23 L541.94,1982.11 L543.63,1983.1 L545.2,1984.1 L546.91,1985.3 L548.61,1986.69 L550.27,1988.25 L551.85,1989.93 L553.33,1991.72 L554.68,1993.58 L555.9,1995.75 L556.92,1998.17 L557.82,2000.7 L558.68,2003.23 L559.58,2005.63 L560.6,2007.8 L561.53,2009.54 L562.49,2011.4 L563.48,2013.18 L564.48,2014.68 L565.5,2015.71 L566.52,2016.09 L567.72,2015.63 L568.98,2014.39 L570.25,2012.57 L571.48,2010.35 L572.63,2007.91 L573.63,2005.43 L574.93,2000.72 L575.85,1995.01 L576.51,1988.69 L577.06,1982.13 L577.64,1975.73 L578.37,1969.88 L579.12,1965.05 L579.88,1960.09 L580.66,1955.25 L581.45,1950.76 L582.27,1946.87 L583.11,1943.81 L583.49,1942.66 L583.87,1941.55 L584.25,1940.56 L584.64,1939.76 L585.05,1939.24 L585.48,1939.07 L586.37,1939.89 L587.38,1942 L588.44,1945.02 L589.5,1948.55 L590.51,1952.23 L591.41,1955.66 L592.38,1959.89 L593.21,1964.42 L593.94,1969.17 L594.65,1974.08 L595.36,1979.08 L596.15,1984.1 L597.11,1989.82 L598.11,1995.75 L599.12,2001.78 L600.14,2007.83 L601.13,2013.82 L602.07,2019.65 L602.86,2024.98 L603.56,2030.3 L604.24,2035.57 L604.97,2040.72 L605.8,2045.7 L606.81,2050.45 L607.79,2054.35 L608.84,2058.16 L609.97,2061.85 L611.18,2065.38 L612.5,2068.7 L613.92,2071.78 L615.16,2074.28 L616.47,2076.87 L617.84,2079.34 L619.27,2081.44 L620.73,2082.95 L622.22,2083.63 L623.58,2083.47 L625.02,2082.73 L626.48,2081.55 L627.93,2080.04 L629.29,2078.32 L630.51,2076.52 L632.17,2073.28 L633.59,2069.35 L634.81,2064.91 L635.87,2060.15 L636.79,2055.27 L637.62,2050.45 L638.38,2044.9 L638.88,2039.13 L639.2,2033.19 L639.44,2027.14 L639.68,2021.03 L639.99,2014.91 L640.39,2008.21 L640.76,2001.27 L641.14,1994.25 L641.52,1987.35 L641.92,1980.74 L642.36,1974.62 L642.61,1969.85 L642.73,1964.81 L642.86,1959.93 L643.15,1955.69 L643.73,1952.54 L644.73,1950.92 L645.38,1950.78 L646.13,1950.98 L646.93,1951.41 L647.78,1952 L648.63,1952.66 L649.47,1953.29 L650.6,1954.34 L651.75,1955.72 L652.91,1957.23 L654.1,1958.65 L655.32,1959.77 L656.58,1960.4 L657.74,1960.49 L658.96,1960.29 L660.21,1959.88 L661.45,1959.31 L662.62,1958.67 L663.69,1958.03 L664.59,1957.26 L665.39,1956.25 L666.15,1955.17 L666.88,1954.2 L667.63,1953.52 L668.43,1953.29 L669.53,1953.85 L670.63,1955.18 L671.76,1957.01 L672.94,1959.07 L674.19,1961.08 L675.54,1962.77 L677.13,1964.45 L678.87,1966.31 L680.7,1968.12 L682.53,1969.64 L684.3,1970.63 L685.92,1970.86 L687.51,1970.17 L689.04,1968.71 L690.49,1966.67 L691.86,1964.25 L693.1,1961.63 L694.22,1959.02 L695.48,1954.98 L696.41,1950.27 L697.11,1945.17 L697.69,1939.99 L698.27,1935.03 L698.96,1930.58 L699.52,1927.49 L700.05,1924.52 L700.57,1921.68 L701.13,1918.97 L701.76,1916.4 L702.51,1913.99 L703.2,1912 L703.95,1909.89 L704.74,1907.86 L705.57,1906.14 L706.41,1904.95 L707.25,1904.51 L708.21,1905.08 L709.21,1906.61 L710.22,1908.8 L711.23,1911.35 L712.23,1913.97 L713.18,1916.36 L714.25,1918.89 L715.33,1921.5 L716.37,1924.19 L717.37,1926.98 L718.28,1929.9 L719.1,1932.95 L719.94,1936.92 L720.63,1941.16 L721.21,1945.58 L721.71,1950.08 L722.18,1954.59 L722.66,1959.02 L723.12,1963.34 L723.54,1967.66 L723.92,1971.97 L724.29,1976.31 L724.65,1980.67 L725.03,1985.08 L725.41,1989.77 L725.78,1994.52 L726.13,1999.31 L726.51,2004.09 L726.93,2008.84 L727.4,2013.52 L727.86,2017.99 L728.31,2022.48 L728.79,2026.93 L729.36,2031.3 L730.07,2035.54 L730.95,2039.59 L731.86,2043.07 L732.84,2046.53 L733.93,2049.89 L735.15,2053.07 L736.52,2055.98 L738.06,2058.55 L739.46,2060.47 L741,2062.39 L742.64,2064.14 L744.32,2065.57 L745.97,2066.53 L747.54,2066.85 L749.02,2066.47 L750.52,2065.52 L752,2064.12 L753.41,2062.41 L754.7,2060.51 L755.84,2058.55 L757.13,2055.47 L758.1,2051.89 L758.84,2047.93 L759.43,2043.69 L759.98,2039.3 L760.58,2034.85 L761.34,2029.03 L762,2022.79 L762.59,2016.3 L763.12,2009.72 L763.63,2003.21 L764.13,1996.93 L764.59,1991.23 L765.01,1985.56 L765.41,1979.96 L765.78,1974.44 L766.15,1969.03 L766.5,1963.75 L766.69,1958.67 L766.73,1953.05 L766.75,1947.51 L766.91,1942.69 L767.33,1939.21 L768.16,1937.69 L768.9,1937.88 L769.81,1938.73 L770.82,1940.04 L771.84,1941.61 L772.79,1943.26 L773.61,1944.8 L774.31,1946.65 L774.81,1948.77 L775.21,1951 L775.66,1953.17 L776.27,1955.1 L777.17,1956.65 L778.15,1957.66 L779.32,1958.6 L780.59,1959.39 L781.9,1959.97 L783.15,1960.26 L784.28,1960.2 L785.37,1959.43 L786.35,1957.94 L787.27,1956.08 L788.18,1954.22 L789.14,1952.71 L790.2,1951.91 L791.12,1951.8 L792.08,1951.97 L793.07,1952.36 L794.08,1952.91 L795.11,1953.57 L796.12,1954.28 L797.66,1955.76 L799.23,1957.85 L800.81,1960.18 L802.41,1962.38 L804.01,1964.09 L805.6,1964.94 L806.8,1964.96 L808.01,1964.62 L809.23,1964.01 L810.43,1963.22 L811.6,1962.31 L812.71,1961.38 L814.05,1960.19 L815.38,1958.84 L816.66,1957.34 L817.86,1955.68 L818.92,1953.86 L819.82,1951.91 L820.69,1948.94 L821.2,1945.6 L821.47,1941.99 L821.65,1938.21 L821.85,1934.37 L822.19,1930.58 L822.65,1926.15 L823.05,1921.35 L823.48,1916.48 L824.02,1911.84 L824.75,1907.75 L825.75,1904.51 L826.43,1903.04 L827.2,1901.62 L828.03,1900.37 L828.88,1899.37 L829.71,1898.74 L830.49,1898.58 L831.57,1899.46 L832.61,1901.51 L833.62,1904.37 L834.6,1907.64 L835.53,1910.97 L836.41,1913.99 L837.32,1916.99 L838.18,1920.05 L838.98,1923.18 L839.75,1926.37 L840.47,1929.63 L841.15,1932.95 L841.86,1936.72 L842.52,1940.59 L843.12,1944.54 L843.68,1948.55 L844.21,1952.59 L844.71,1956.65 L845.17,1960.9 L845.56,1965.2 L845.92,1969.53 L846.26,1973.89 L846.64,1978.29 L847.08,1982.71 L847.58,1987.39 L848.09,1992.11 L848.64,1996.87 L849.23,2001.64 L849.89,2006.41 L850.63,2011.15 L851.46,2016 L852.36,2020.94 L853.33,2025.89 L854.35,2030.71 L855.43,2035.32 L856.56,2039.59 L857.42,2042.74 L858.26,2045.79 L859.13,2048.72 L860.08,2051.46 L861.18,2053.96 L862.48,2056.18 L863.68,2057.82 L865.02,2059.43 L866.45,2060.89 L867.91,2062.1 L869.37,2062.93 L870.78,2063.29 L872.01,2063.17 L873.28,2062.71 L874.54,2061.96 L875.76,2060.97 L876.89,2059.82 L877.89,2058.55 L879.11,2056.26 L880.06,2053.43 L880.81,2050.21 L881.43,2046.74 L882.01,2043.15 L882.63,2039.59 L883.37,2035.2 L884.03,2030.56 L884.63,2025.75 L885.17,2020.86 L885.68,2015.97 L886.18,2011.15 L886.64,2006.43 L887.06,2001.72 L887.44,1997.01 L887.81,1992.28 L888.17,1987.52 L888.55,1982.71 L888.96,1977.53 L889.38,1972.14 L889.79,1966.73 L890.19,1961.44 L890.57,1956.44 L890.92,1951.91 L891.1,1948.69 L891.2,1945.27 L891.29,1942 L891.44,1939.22 L891.69,1937.27 L892.11,1936.5 L892.62,1937.17 L893.2,1939.03 L893.87,1941.63 L894.68,1944.54 L895.66,1947.32 L896.85,1949.54 L898.33,1951.41 L900.12,1953.36 L902.08,1955.19 L904.06,1956.69 L905.92,1957.63 L907.51,1957.83 L908.69,1957.11 L909.71,1955.61 L910.63,1953.66 L911.51,1951.58 L912.42,1949.7 L913.43,1948.35 L914.2,1947.68 L914.99,1947.05 L915.8,1946.52 L916.6,1946.13 L917.4,1945.93 L918.17,1945.98 L919.21,1946.6 L920.22,1947.81 L921.21,1949.38 L922.19,1951.13 L923.15,1952.83 L924.1,1954.28 L924.9,1955.46 L925.66,1956.77 L926.42,1958.04 L927.19,1959.13 L927.99,1959.9 L928.84,1960.2 L929.94,1959.81 L931.12,1958.76 L932.34,1957.23 L933.58,1955.45 L934.79,1953.6 L935.95,1951.91 L937.24,1950.13 L938.56,1948.3 L939.85,1946.39 L941.07,1944.4 L942.16,1942.29 L943.06,1940.06 L943.82,1937.18 L944.31,1934.04 L944.62,1930.74 L944.85,1927.41 L945.09,1924.16 L945.43,1921.1 L945.74,1918.48 L945.97,1915.81 L946.21,1913.2 L946.54,1910.76 L947.05,1908.61 L947.8,1906.88 L948.45,1905.92 L949.22,1905.02 L950.07,1904.23 L950.93,1903.64 L951.77,1903.31 L952.54,1903.32 L953.65,1904.36 L954.65,1906.51 L955.57,1909.41 L956.48,1912.67 L957.43,1915.9 L958.46,1918.73 L959.63,1921.1 L960.91,1923.39 L962.23,1925.65 L963.5,1927.96 L964.64,1930.37 L965.57,1932.95 L966.33,1936.15 L966.82,1939.5 L967.13,1942.99 L967.35,1946.63 L967.6,1950.39 L967.94,1954.28 L968.49,1959.41 L969.07,1964.89 L969.66,1970.57 L970.27,1976.32 L970.88,1981.99 L971.5,1987.45 L972.05,1992.37 L972.59,1997.26 L973.13,2002.08 L973.71,2006.81 L974.34,2011.43 L975.05,2015.89 L975.71,2019.66 L976.38,2023.31 L977.09,2026.88 L977.87,2030.37 L978.76,2033.81 L979.79,2037.22 L980.91,2040.7 L982.12,2044.37 L983.44,2047.98 L984.86,2051.32 L986.41,2054.13 L988.09,2056.18 L989.19,2057.06 L990.37,2057.77 L991.6,2058.28 L992.83,2058.6 L994.04,2058.69 L995.2,2058.55 L996.49,2058.05 L997.77,2057.18 L999.02,2056.03 L1000.21,2054.64 L1001.32,2053.09 L1002.31,2051.44 L1003.51,2048.67 L1004.45,2045.41 L1005.2,2041.79 L1005.83,2037.94 L1006.42,2034.01 L1007.05,2030.11 L1007.77,2025.65 L1008.43,2021.03 L1009.03,2016.3 L1009.59,2011.48 L1010.11,2006.59 L1010.6,2001.67 L1011.08,1996.32 L1011.51,1990.87 L1011.89,1985.35 L1012.24,1979.78 L1012.6,1974.15 L1012.97,1968.49 L1013.27,1961.66 L1013.44,1953.76 L1013.61,1945.81 L1013.9,1938.82 L1014.44,1933.8 L1015.34,1931.76 L1016.07,1932.38 L1016.89,1934.19 L1017.79,1936.77 L1018.81,1939.69 L1019.96,1942.51 L1021.26,1944.8 L1022.79,1946.82 L1024.53,1949 L1026.41,1951.07 L1028.32,1952.81 L1030.19,1953.96 L1031.93,1954.28 L1033.61,1953.22 L1035.19,1950.85 L1036.72,1947.82 L1038.24,1944.78 L1039.79,1942.37 L1041.41,1941.24 L1042.75,1941.43 L1044.12,1942.27 L1045.51,1943.51 L1046.91,1944.91 L1048.31,1946.21 L1049.7,1947.17 L1050.9,1947.8 L1052.11,1948.43 L1053.31,1949 L1054.51,1949.42 L1055.68,1949.63 L1056.81,1949.54 L1058.1,1949.01 L1059.38,1948.1 L1060.62,1946.9 L1061.81,1945.49 L1062.92,1943.97 L1063.92,1942.43 L1064.98,1940.47 L1065.89,1938.33 L1066.68,1936.03 L1067.38,1933.57 L1068.03,1930.96 L1068.66,1928.21 L1069.39,1923.9 L1069.88,1919 L1070.27,1913.8 L1070.71,1908.65 L1071.31,1903.87 L1072.22,1899.77 L1073.06,1897.16 L1074.04,1894.46 L1075.11,1891.92 L1076.18,1889.82 L1077.22,1888.4 L1078.14,1887.92 L1079.05,1888.8 L1079.86,1890.99 L1080.62,1894.08 L1081.35,1897.63 L1082.09,1901.25 L1082.88,1904.51 L1083.87,1907.87 L1084.91,1911.29 L1085.97,1914.79 L1087,1918.37 L1087.96,1922.05 L1088.81,1925.84 L1089.59,1930.29 L1090.21,1934.91 L1090.75,1939.64 L1091.24,1944.47 L1091.76,1949.36 L1092.36,1954.28 L1093.1,1959.72 L1093.89,1965.35 L1094.71,1971.06 L1095.53,1976.71 L1096.33,1982.22 L1097.1,1987.45 L1097.71,1991.67 L1098.3,1995.75 L1098.88,1999.72 L1099.45,2003.6 L1100.04,2007.41 L1100.66,2011.15 L1101.23,2014.44 L1101.82,2017.63 L1102.41,2020.77 L1103.01,2023.87 L1103.61,2026.98 L1104.21,2030.11" fill="none" stroke="#000" stroke-width="8.5" stroke-linecap="round" stroke-linejoin="round"/>
<path d="M240.66,2052.82 L241.64,2054.02 L242.6,2055.24 L243.55,2056.45" fill="none" stroke="#f00" stroke-width="8.5" stroke-linecap="round" stroke-linejoin="round" stroke-dasharray="22.7 37.3"/>
<path d="M243.55,2056.45 L244.53,2057.65 L245.53,2058.82 L246.59,2059.93 L247.7,2061.11 L248.85,2062.37 L250.03,2063.6 L251.24,2064.68 L252.47,2065.47 L253.7,2065.86 L254.89,2065.84 L256.15,2065.55 L257.42,2065.01 L258.65,2064.27 L259.8,2063.36 L260.81,2062.3 L262.02,2060.33 L262.98,2057.81 L263.75,2054.91 L264.4,2051.81 L264.98,2048.68 L265.55,2045.71 L266.09,2042.83 L266.53,2039.95 L266.91,2037.04 L267.24,2034.09 L267.57,2031.06 L267.92,2027.94 L268.34,2024.25 L268.75,2020.49" fill="none" stroke="#f00" stroke-width="8.5" stroke-linecap="round" stroke-linejoin="round" stroke-dasharray="22.7 37.3"/>
<path d="M268.75,2020.49 L269.15,2016.63 L269.54,2012.65 L269.92,2008.53 L270.29,2004.24 L270.69,1998.35 L271.04,1991.84 L271.37,1985.1 L271.73,1978.54 L272.14,1972.54 L272.66,1967.51 L272.93,1964.94 L273.15,1962.41" fill="none" stroke="#f00" stroke-width="8.5" stroke-linecap="round" stroke-linejoin="round" stroke-dasharray="22.7 37.3"/>
<path d="M273.15,1962.41 L273.38,1960.07 L273.71,1958.06 L274.24,1956.54 L275.03,1955.66 L275.79,1955.56 L276.67,1955.9 L277.65,1956.49 L278.7,1957.16 L279.81,1957.74 L280.95,1958.03 L282.53,1958 L284.25,1957.73 L286.05,1957.29 L287.91,1956.75 L289.78,1956.18 L291.62,1955.66 L293.62,1954.97 L295.71,1954.04 L297.81,1953.08 L299.85,1952.3 L301.76,1951.9 L303.47,1952.1 L304.93,1953.06 L306.16,1954.63 L307.25,1956.6" fill="none" stroke="#f00" stroke-width="8.5" stroke-linecap="round" stroke-linejoin="round" stroke-dasharray="22.7 37.3"/>
<path d="M307.25,1956.6 L308.3,1958.76 L309.38,1960.89 L310.58,1962.77 L311.89,1964.58 L313.25,1966.56 L314.64,1968.51 L316.06,1970.24 L317.47,1971.55 L318.87,1972.25 L319.88,1972.34 L320.92,1972.18 L321.95,1971.81 L322.97,1971.27 L323.92,1970.61 L324.8,1969.88 L325.78,1968.74 L326.64,1967.34 L327.41,1965.73 L328.13,1963.99 L328.82,1962.19 L329.54,1960.4 L330.31,1958.02 L330.94,1955.27" fill="none" stroke="#f00" stroke-width="8.5" stroke-linecap="round" stroke-linejoin="round" stroke-dasharray="22.7 37.3"/>
<path d="M330.94,1955.27 L331.55,1952.44 L332.24,1949.79 L333.11,1947.61 L334.28,1946.18 L335.32,1945.62 L336.53,1945.29 L337.83,1945.18 L339.13,1945.29 L340.35,1945.62 L341.38,1946.18 L342.56,1947.55 L343.48,1949.59 L344.2,1952.1 L344.83,1954.87 L345.44,1957.7 L346.12,1960.4 L346.97,1963.37 L347.81,1966.45 L348.62,1969.62 L349.41,1972.83 L350.16,1976.09 L350.86,1979.36 L351.53,1982.76 L352.13,1986.13" fill="none" stroke="#f00" stroke-width="8.5" stroke-linecap="round" stroke-linejoin="round" stroke-dasharray="22.7 37.3"/>
<path d="M352.13,1986.13 L352.69,1989.55 L353.23,1993.07 L353.8,1996.76 L354.42,2000.69 L355.31,2006.48 L356.23,2012.86 L357.19,2019.54 L358.2,2026.24 L359.24,2032.69 L360.34,2038.6 L361.15,2043.08" fill="none" stroke="#f00" stroke-width="8.5" stroke-linecap="round" stroke-linejoin="round" stroke-dasharray="22.7 37.3"/>
<path d="M361.15,2043.08 L361.86,2047.53 L362.6,2051.82 L363.5,2055.81 L364.68,2059.35 L366.27,2062.3 L367.72,2064.11 L369.38,2065.74 L371.19,2067.13 L373.09,2068.24 L375.02,2069.01 L376.93,2069.41 L378.9,2069.43 L381,2069.11 L383.14,2068.45 L385.21,2067.49 L387.12,2066.22 L388.78,2064.67 L390.7,2061.69 L392.15,2057.83" fill="none" stroke="#f00" stroke-width="8.5" stroke-linecap="round" stroke-linejoin="round" stroke-dasharray="22.7 37.3"/>
<path d="M392.15,2057.83 L393.26,2053.34 L394.17,2048.47 L395.01,2043.47 L395.89,2038.6 L396.9,2032.94 L397.76,2026.93 L398.52,2020.75 L399.22,2014.59 L399.91,2008.63 L400.63,2003.06 L401.14,1998.68" fill="none" stroke="#f00" stroke-width="8.5" stroke-linecap="round" stroke-linejoin="round" stroke-dasharray="22.7 37.3"/>
<path d="M401.14,1998.68 L401.5,1994.34 L401.86,1990.14 L402.34,1986.17 L403.07,1982.54 L404.19,1979.36 L405.27,1977.32 L406.53,1975.45 L407.92,1973.76 L409.4,1972.26 L410.93,1970.96 L412.48,1969.88 L413.8,1969.1 L415.18,1968.42 L416.6,1967.87 L418.03,1967.51 L419.43,1967.37 L420.78,1967.51 L422.25,1968.05 L423.73,1968.98 L425.17,1970.2" fill="none" stroke="#f00" stroke-width="8.5" stroke-linecap="round" stroke-linejoin="round" stroke-dasharray="22.7 37.3"/>
<path d="M425.17,1970.2 L426.55,1971.61 L427.86,1973.11 L429.07,1974.62 L430.19,1976.5 L431.11,1978.74 L431.93,1981.11 L432.77,1983.34 L433.75,1985.21 L435,1986.47 L436.21,1987 L437.57,1987.25 L439.02,1987.27 L440.5,1987.12 L441.95,1986.83 L443.29,1986.47 L444.59,1986.04 L445.9,1985.51 L447.16,1984.84 L448.35,1984.02 L449.45,1982.99 L450.4,1981.73 L451.56,1978.64 L452.2,1974.48" fill="none" stroke="#f00" stroke-width="8.5" stroke-linecap="round" stroke-linejoin="round" stroke-dasharray="22.7 37.3"/>
<path d="M452.2,1974.48 L452.54,1969.72 L452.8,1964.87 L453.19,1960.42 L453.95,1956.84 L454.61,1955 L455.32,1953.19 L456.09,1951.54 L456.9,1950.14 L457.77,1949.11 L458.69,1948.55 L459.44,1948.46 L460.23,1948.6 L461.06,1948.94 L461.88,1949.46 L462.69,1950.12 L463.43,1950.92 L464.89,1953.34 L466.2,1956.74" fill="none" stroke="#f00" stroke-width="8.5" stroke-linecap="round" stroke-linejoin="round" stroke-dasharray="22.7 37.3"/>
<path d="M466.2,1956.74 L467.38,1960.85 L468.48,1965.39 L469.52,1970.07 L470.54,1974.62 L471.7,1980.19 L472.74,1986.17 L473.7,1992.37 L474.61,1998.57 L475.52,2004.57 L476.47,2010.17 L477.25,2014.35" fill="none" stroke="#f00" stroke-width="8.5" stroke-linecap="round" stroke-linejoin="round" stroke-dasharray="22.7 37.3"/>
<path d="M477.25,2014.35 L478.01,2018.28 L478.77,2022.07 L479.55,2025.85 L480.35,2029.74 L481.21,2033.86 L482.27,2039.26 L483.37,2045.1 L484.51,2051.1 L485.71,2056.96 L486.97,2062.37 L488.32,2067.04 L489.17,2069.71 L489.98,2072.24" fill="none" stroke="#f00" stroke-width="8.5" stroke-linecap="round" stroke-linejoin="round" stroke-dasharray="22.7 37.3"/>
<path d="M489.98,2072.24 L490.81,2074.58 L491.75,2076.69 L492.87,2078.54 L494.24,2080.08 L495.75,2081.24 L497.49,2082.25 L499.38,2083.06 L501.3,2083.59 L503.18,2083.8 L504.91,2083.63 L506.66,2082.92 L508.36,2081.7 L510,2080.1 L511.56,2078.22 L513.03,2076.2 L514.39,2074.15 L515.92,2071.49 L517.3,2068.53 L518.55,2065.35 L519.66,2062.02 L520.64,2058.61 L521.5,2055.19 L522.2,2051.49 L522.65,2047.71" fill="none" stroke="#f00" stroke-width="8.5" stroke-linecap="round" stroke-linejoin="round" stroke-dasharray="22.7 37.3"/>
<path d="M522.65,2047.71 L522.95,2043.84 L523.18,2039.87 L523.46,2035.76 L523.87,2031.49 L524.54,2025.84 L525.29,2019.72 L526.09,2013.4 L526.93,2007.15 L527.78,2001.24 L528.61,1995.95 L529.1,1992.31 L529.48,1988.55" fill="none" stroke="#f00" stroke-width="8.5" stroke-linecap="round" stroke-linejoin="round" stroke-dasharray="22.7 37.3"/>
<path d="M529.48,1988.55 L529.87,1984.96 L530.37,1981.84 L531.1,1979.48 L532.16,1978.17 L532.97,1977.97 L533.88,1978.12 L534.87,1978.54 L535.92,1979.14 L537,1979.84 L538.09,1980.54 L539.89,1981.82 L541.82,1983.44 L543.84,1985.29 L545.89,1987.27 L547.94,1989.28 L549.94,1991.21 L551.9,1993.31 L553.82,1995.67 L555.74,1998.06 L557.68,2000.24 L559.68,2001.99 L561.79,2003.06 L563.79,2003.43 L566.01,2003.47" fill="none" stroke="#f00" stroke-width="8.5" stroke-linecap="round" stroke-linejoin="round" stroke-dasharray="22.7 37.3"/>
<path d="M566.01,2003.47 L568.28,2003.18 L570.42,2002.61 L572.26,2001.77 L573.63,2000.69 L574.43,1999.33 L574.79,1997.67 L574.85,1995.75 L574.77,1993.61 L574.71,1991.29 L574.82,1988.84 L575.27,1983.91 L575.76,1978.05 L576.3,1971.67 L576.91,1965.16 L577.6,1958.9 L578.37,1953.29 L579.06,1948.91" fill="none" stroke="#f00" stroke-width="8.5" stroke-linecap="round" stroke-linejoin="round" stroke-dasharray="22.7 37.3"/>
<path d="M579.06,1948.91 L579.8,1944.19 L580.6,1939.62 L581.42,1935.72 L582.27,1933 L583.11,1931.96 L583.88,1932.76 L584.68,1934.93 L585.48,1938.02 L586.29,1941.62 L587.09,1945.27 L587.85,1948.55 L588.7,1951.93 L589.53,1955.4 L590.35,1958.96 L591.13,1962.57 L591.89,1966.22 L592.59,1969.88 L593.26,1973.69 L593.84,1977.5" fill="none" stroke="#f00" stroke-width="8.5" stroke-linecap="round" stroke-linejoin="round" stroke-dasharray="22.7 37.3"/>
<path d="M593.84,1977.5 L594.39,1981.34 L594.93,1985.27 L595.51,1989.34 L596.15,1993.58 L597.06,1999.17 L598.06,2005.16 L599.11,2011.35 L600.16,2017.54 L601.17,2023.53 L602.07,2029.12 L602.67,2033.37" fill="none" stroke="#f00" stroke-width="8.5" stroke-linecap="round" stroke-linejoin="round" stroke-dasharray="22.7 37.3"/>
<path d="M602.67,2033.37 L603.16,2037.45 L603.61,2041.39 L604.12,2045.24 L604.76,2049.04 L605.63,2052.82 L606.64,2056.66 L607.73,2060.64 L608.96,2064.56 L610.37,2068.25 L612.01,2071.51 L613.92,2074.15 L615.66,2075.86 L617.65,2077.44 L619.76,2078.77 L621.9,2079.74 L623.94,2080.21 L625.77,2080.08 L627.71,2078.84 L629.54,2076.53" fill="none" stroke="#f00" stroke-width="8.5" stroke-linecap="round" stroke-linejoin="round" stroke-dasharray="22.7 37.3"/>
<path d="M629.54,2076.53 L631.25,2073.55 L632.79,2070.31 L634.13,2067.21 L635.25,2064.67 L635.83,2063.43 L636.31,2062.36 L636.71,2061.36 L637.05,2060.3 L637.34,2059.07 L637.62,2057.56 L638.01,2052.87 L638.04,2046.77 L637.86,2039.82 L637.63,2032.6 L637.5,2025.68 L637.62,2019.65 L637.89,2015.8 L638.22,2012.3" fill="none" stroke="#f00" stroke-width="8.5" stroke-linecap="round" stroke-linejoin="round" stroke-dasharray="22.7 37.3"/>
<path d="M638.22,2012.3 L638.62,2008.97 L639.05,2005.65 L639.51,2002.15 L639.99,1998.32 L640.54,1992.09 L641.01,1984.77 L641.52,1977.16 L642.22,1970.03 L643.25,1964.18 L644.73,1960.4 L645.41,1959.63 L646.12,1959.12 L646.88,1958.78 L647.69,1958.54 L648.55,1958.32" fill="none" stroke="#f00" stroke-width="8.5" stroke-linecap="round" stroke-linejoin="round" stroke-dasharray="22.7 37.3"/>
<path d="M648.55,1958.32 L649.47,1958.03 L650.84,1957.6 L652.34,1957.23 L653.94,1956.89 L655.6,1956.53 L657.28,1956.14 L658.95,1955.66 L660.88,1954.86 L662.89,1953.82 L664.92,1952.71 L666.94,1951.73 L668.92,1951.07 L670.8,1950.92 L672.46,1951.43 L674.05,1952.47 L675.59,1953.8" fill="none" stroke="#f00" stroke-width="8.5" stroke-linecap="round" stroke-linejoin="round" stroke-dasharray="22.7 37.3"/>
<path d="M675.59,1953.8 L677.12,1955.14 L678.67,1956.24 L680.28,1956.84 L681.92,1956.9 L683.67,1956.63 L685.45,1956.14 L687.15,1955.55 L688.7,1954.96 L690,1954.47 L690.61,1954.28 L691.15,1954.13 L691.64,1953.98 L692.1,1953.79 L692.56,1953.51 L693.03,1953.09 L694.07,1951.72 L695.09,1949.79 L696.11,1947.48 L697.1,1944.97 L698.05,1942.44 L698.96,1940.06 L699.83,1937.71 L700.66,1935.31 L701.46,1932.87 L702.22,1930.46 L702.96,1928.1 L703.7,1925.84 L704.3,1923.73 L704.84,1921.41" fill="none" stroke="#f00" stroke-width="8.5" stroke-linecap="round" stroke-linejoin="round" stroke-dasharray="22.7 37.3"/>
<path d="M704.84,1921.41 L705.38,1919.13 L705.93,1917.15 L706.55,1915.75 L707.25,1915.17 L708.12,1915.58 L709.09,1916.83 L710.12,1918.69 L711.17,1920.95 L712.21,1923.41 L713.18,1925.84 L714.73,1930.32 L716.26,1935.67 L717.73,1941.56 L719.11,1947.64 L720.37,1953.57 L721.47,1959.02 L722.26,1963.12" fill="none" stroke="#f00" stroke-width="8.5" stroke-linecap="round" stroke-linejoin="round" stroke-dasharray="22.7 37.3"/>
<path d="M722.26,1963.12 L722.94,1967.01 L723.53,1970.79 L724.06,1974.59 L724.56,1978.52 L725.03,1982.71 L725.5,1988.3 L725.84,1994.3 L726.12,2000.5 L726.41,2006.69 L726.81,2012.68 L727.4,2018.26 L727.96,2022.59" fill="none" stroke="#f00" stroke-width="8.5" stroke-linecap="round" stroke-linejoin="round" stroke-dasharray="22.7 37.3"/>
<path d="M727.96,2022.59 L728.53,2026.81 L729.17,2030.89 L729.94,2034.79 L730.91,2038.5 L732.14,2041.96 L733.37,2044.85 L734.74,2047.77 L736.25,2050.55 L737.9,2053.01 L739.69,2054.94 L741.62,2056.18 L743.46,2056.66 L745.54,2056.74 L747.71,2056.46 L749.85,2055.85 L751.81,2054.95 L753.47,2053.81 L755.04,2051.84 L756.3,2049.15" fill="none" stroke="#f00" stroke-width="8.5" stroke-linecap="round" stroke-linejoin="round" stroke-dasharray="22.7 37.3"/>
<path d="M756.3,2049.15 L757.31,2046.04 L758.12,2042.81 L758.8,2039.77 L759.39,2037.22 L759.71,2035.94 L759.95,2034.85 L760.14,2033.84 L760.29,2032.79 L760.43,2031.58 L760.58,2030.11 L760.83,2025.68 L760.93,2020 L760.98,2013.57 L761.07,2006.87 L761.3,2000.37 L761.76,1994.56 L762.33,1990.27" fill="none" stroke="#f00" stroke-width="8.5" stroke-linecap="round" stroke-linejoin="round" stroke-dasharray="22.7 37.3"/>
<path d="M762.33,1990.27 L763,1986.12 L763.77,1982.11 L764.62,1978.24 L765.53,1974.49 L766.5,1970.86 L767.31,1967.87 L768.08,1964.97 L768.91,1962.16 L769.86,1959.45 L771.01,1956.82 L772.43,1954.28 L774.32,1951.41 L776.56,1948.34" fill="none" stroke="#f00" stroke-width="8.5" stroke-linecap="round" stroke-linejoin="round" stroke-dasharray="22.7 37.3"/>
<path d="M776.56,1948.34 L779.02,1945.38 L781.6,1942.82 L784.18,1940.94 L786.65,1940.06 L788.59,1940.3 L790.51,1941.33 L792.44,1942.84 L794.39,1944.51 L796.4,1946.06 L798.49,1947.17 L800.78,1947.88 L803.21,1948.42 L805.7,1948.83 L808.17,1949.13 L810.54,1949.35 L812.71,1949.54 L814.29,1949.74 L815.87,1950.01 L817.38,1950.24" fill="none" stroke="#f00" stroke-width="8.5" stroke-linecap="round" stroke-linejoin="round" stroke-dasharray="22.7 37.3"/>
<path d="M817.38,1950.24 L818.78,1950.31 L820.01,1950.11 L821.01,1949.54 L821.88,1947.95 L822.2,1945.63 L822.17,1942.76 L822.01,1939.55 L821.95,1936.22 L822.19,1932.95 L822.96,1927.65 L823.94,1921.14 L825.09,1914.38 L826.39,1908.31 L827.8,1903.92 L829.3,1902.14 L830.74,1903.06 L832.36,1905.74" fill="none" stroke="#f00" stroke-width="8.5" stroke-linecap="round" stroke-linejoin="round" stroke-dasharray="22.7 37.3"/>
<path d="M832.36,1905.74 L834.06,1909.64 L835.76,1914.25 L837.36,1919.03 L838.78,1923.47 L840.31,1928.88 L841.66,1934.78 L842.86,1940.95 L843.95,1947.19 L844.95,1953.28 L845.89,1959.02 L846.62,1963.55" fill="none" stroke="#f00" stroke-width="8.5" stroke-linecap="round" stroke-linejoin="round" stroke-dasharray="22.7 37.3"/>
<path d="M846.62,1963.55 L847.26,1967.87 L847.84,1972.09 L848.38,1976.3 L848.9,1980.6 L849.45,1985.08 L850.01,1990.45 L850.48,1996.07 L850.94,2001.8 L851.46,2007.5 L852.12,2013.04 L853,2018.26 L853.89,2022.62" fill="none" stroke="#f00" stroke-width="8.5" stroke-linecap="round" stroke-linejoin="round" stroke-dasharray="22.7 37.3"/>
<path d="M853.89,2022.62 L854.85,2026.96 L855.91,2031.17 L857.11,2035.15 L858.5,2038.79 L860.11,2041.96 L861.45,2044.12 L862.9,2046.21 L864.45,2048.11 L866.09,2049.7 L867.81,2050.85 L869.59,2051.44 L871.69,2051.39 L874.03,2050.77 L876.47,2049.65 L878.82,2048.14 L880.93,2046.34 L882.63,2044.33 L884.15,2041.11 L885.03,2037.13" fill="none" stroke="#f00" stroke-width="8.5" stroke-linecap="round" stroke-linejoin="round" stroke-dasharray="22.7 37.3"/>
<path d="M885.03,2037.13 L885.47,2032.62 L885.68,2027.82 L885.85,2022.96 L886.18,2018.26 L886.66,2013.25 L887.08,2008.09 L887.45,2002.86 L887.8,1997.63 L888.16,1992.47 L888.55,1987.45 L888.84,1982.89" fill="none" stroke="#f00" stroke-width="8.5" stroke-linecap="round" stroke-linejoin="round" stroke-dasharray="22.7 37.3"/>
<path d="M888.84,1982.89 L889.01,1978.31 L889.19,1973.79 L889.49,1969.4 L890.03,1965.24 L890.92,1961.38 L891.94,1958.51 L893.17,1955.86 L894.55,1953.35 L896.05,1950.92 L897.62,1948.48 L899.22,1945.98 L901,1942.87 L902.89,1939.35" fill="none" stroke="#f00" stroke-width="8.5" stroke-linecap="round" stroke-linejoin="round" stroke-dasharray="22.7 37.3"/>
<path d="M902.89,1939.35 L904.87,1935.84 L906.9,1932.73 L908.98,1930.45 L911.06,1929.39 L912.78,1929.71 L914.53,1930.93 L916.31,1932.69 L918.1,1934.64 L919.91,1936.42 L921.73,1937.69 L923.27,1938.34 L924.82,1938.84 L926.37,1939.22 L927.95,1939.52 L929.56,1939.78 L931.21,1940.06 L933.21,1940.49 L935.4,1941.05" fill="none" stroke="#f00" stroke-width="8.5" stroke-linecap="round" stroke-linejoin="round" stroke-dasharray="22.7 37.3"/>
<path d="M935.4,1941.05 L937.63,1941.57 L939.75,1941.88 L941.61,1941.82 L943.06,1941.24 L944.03,1939.99 L944.55,1938.22 L944.77,1936.03 L944.88,1933.56 L945.04,1930.91 L945.43,1928.21 L946.51,1922.47 L947.83,1915.04 L949.3,1907.12 L950.84,1899.94 L952.34,1894.71 L953.72,1892.66 L954.46,1893.53 L955.09,1895.8 L955.71,1898.89" fill="none" stroke="#f00" stroke-width="8.5" stroke-linecap="round" stroke-linejoin="round" stroke-dasharray="22.7 37.3"/>
<path d="M955.71,1898.89 L956.42,1902.16 L957.3,1905.03 L958.46,1906.88 L959.51,1907.38 L960.74,1907.46 L962.06,1907.34 L963.36,1907.25 L964.57,1907.42 L965.57,1908.06 L967.02,1911.43 L967.66,1916.79 L967.79,1923.4 L967.69,1930.56 L967.64,1937.53 L967.94,1943.61 L968.46,1947.98" fill="none" stroke="#f00" stroke-width="8.5" stroke-linecap="round" stroke-linejoin="round" stroke-dasharray="22.7 37.3"/>
<path d="M968.46,1947.98 L969.04,1952.11 L969.66,1956.11 L970.29,1960.1 L970.91,1964.19 L971.5,1968.49 L972.09,1973.79 L972.6,1979.36 L973.11,1985.05 L973.65,1990.75 L974.28,1996.34 L975.05,2001.67 L975.86,2006.27" fill="none" stroke="#f00" stroke-width="8.5" stroke-linecap="round" stroke-linejoin="round" stroke-dasharray="22.7 37.3"/>
<path d="M975.86,2006.27 L976.75,2010.79 L977.7,2015.21 L978.73,2019.52 L979.82,2023.7 L980.98,2027.74 L981.99,2031.23 L982.99,2034.72 L984.04,2038.12 L985.21,2041.32 L986.53,2044.22 L988.09,2046.7 L989.47,2048.44 L991.01,2050.12 L992.64,2051.63 L994.32,2052.83 L995.98,2053.6 L997.57,2053.81 L999.28,2053.28 L1001.09,2052.07 L1002.87,2050.37" fill="none" stroke="#f00" stroke-width="8.5" stroke-linecap="round" stroke-linejoin="round" stroke-dasharray="22.7 37.3"/>
<path d="M1002.87,2050.37 L1004.54,2048.38 L1005.96,2046.3 L1007.05,2044.33 L1007.68,2042.59 L1007.99,2040.81 L1008.1,2038.96 L1008.1,2036.98 L1008.11,2034.84 L1008.23,2032.48 L1008.58,2027.88 L1008.92,2022.54 L1009.28,2016.73 L1009.67,2010.73 L1010.11,2004.83 L1010.6,1999.3 L1011.14,1994.66" fill="none" stroke="#f00" stroke-width="8.5" stroke-linecap="round" stroke-linejoin="round" stroke-dasharray="22.7 37.3"/>
<path d="M1011.14,1994.66 L1011.77,1990.2 L1012.44,1985.82 L1013.09,1981.4 L1013.68,1976.85 L1014.15,1972.05 L1014.4,1965.08 L1014.35,1956.78 L1014.2,1948.28 L1014.17,1940.71 L1014.48,1935.22 L1015.34,1932.95 L1016.12,1933.62 L1017.06,1935.56 L1018.1,1938.15" fill="none" stroke="#f00" stroke-width="8.5" stroke-linecap="round" stroke-linejoin="round" stroke-dasharray="22.7 37.3"/>
<path d="M1018.1,1938.15 L1019.19,1940.77 L1020.27,1942.79 L1021.26,1943.61 L1022.02,1943.15 L1022.69,1941.94 L1023.34,1940.26 L1024.06,1938.41 L1024.92,1936.67 L1026,1935.32 L1027.59,1934.2 L1029.46,1933.27 L1031.52,1932.48 L1033.68,1931.8 L1035.82,1931.18 L1037.85,1930.58 L1039.68,1929.94 L1041.53,1929.24 L1043.38,1928.6 L1045.18,1928.12 L1046.91,1927.95 L1048.52,1928.21 L1050.05,1929.23 L1051.4,1930.97" fill="none" stroke="#f00" stroke-width="8.5" stroke-linecap="round" stroke-linejoin="round" stroke-dasharray="22.7 37.3"/>
<path d="M1051.4,1930.97 L1052.65,1933.05 L1053.91,1935.11 L1055.27,1936.78 L1056.81,1937.69 L1058.68,1937.87 L1060.79,1937.63 L1063.01,1936.99 L1065.16,1935.97 L1067.1,1934.62 L1068.66,1932.95 L1070.18,1928.82 L1070.63,1923.01 L1070.48,1916.24 L1070.18,1909.24 L1070.21,1902.71 L1071.03,1897.4 L1072.19,1894.21 L1073.68,1890.94" fill="none" stroke="#f00" stroke-width="8.5" stroke-linecap="round" stroke-linejoin="round" stroke-dasharray="22.7 37.3"/>
<path d="M1073.68,1890.94 L1075.32,1887.89 L1076.93,1885.38 L1078.32,1883.7 L1079.33,1883.18 L1079.75,1883.68 L1079.95,1884.83 L1080.03,1886.48 L1080.09,1888.44 L1080.21,1890.56 L1080.51,1892.66 L1081.61,1897.1 L1083.18,1902.44 L1085.02,1908.33 L1086.9,1914.42 L1088.63,1920.38 L1089.99,1925.84 L1090.82,1929.94" fill="none" stroke="#f00" stroke-width="8.5" stroke-linecap="round" stroke-linejoin="round" stroke-dasharray="22.7 37.3"/>
<path d="M1090.82,1929.94 L1091.49,1933.82 L1092.05,1937.61 L1092.55,1941.41 L1093.03,1945.35 L1093.55,1949.54 L1094.16,1955.13 L1094.71,1961.12 L1095.23,1967.32 L1095.77,1973.51 L1096.38,1979.5 L1097.1,1985.08 L1097.82,1989.34" fill="none" stroke="#f00" stroke-width="8.5" stroke-linecap="round" stroke-linejoin="round" stroke-dasharray="22.7 37.3"/>
<path d="M1097.82,1989.34 L1098.64,1993.39 L1099.51,1997.31 L1100.37,2001.15 L1101.16,2004.95 L1101.84,2008.78 L1102.35,2012.39 L1102.78,2015.96 L1103.15,2019.51 L1103.5,2023.04 L1103.84,2026.57 L1104.21,2030.11" fill="none" stroke="#f00" stroke-width="8.5" stroke-linecap="round" stroke-linejoin="round" stroke-dasharray="22.7 37.3"/>
<rect x="208.5" y="1769.5" width="471.8" height="142.5" fill="#fff" stroke="#000" stroke-width="5" stroke-linejoin="round"/>
<line x1="244" y1="1817" x2="316" y2="1817" stroke="#000" stroke-width="7.8" stroke-linecap="round"/>
<line x1="244" y1="1864.5" x2="316" y2="1864.5" stroke="#f00" stroke-width="7.8" stroke-linecap="round" stroke-dasharray="23 37"/>
<text x="350.8" y="1830.9" textLength="130.87" lengthAdjust="spacingAndGlyphs" font-size="42">Actuals</text>
<text x="350.81" y="1878.7" textLength="298.88" lengthAdjust="spacingAndGlyphs" font-size="42">Forecasts (June)</text>
</g>
<g>
<text x="1802.94" y="1689.8" textLength="190.76" lengthAdjust="spacingAndGlyphs" font-weight="bold" font-size="52">(c) June</text>
<text transform="translate(1281.2,2025.89) rotate(-90)" textLength="132.97" lengthAdjust="spacingAndGlyphs" font-size="42">Density</text>
<line x1="1409.6" y1="2134.3" x2="1433" y2="2134.3" stroke="#000" stroke-width="5.2" stroke-linecap="round"/>
<line x1="1409.6" y1="2064.1" x2="1433" y2="2064.1" stroke="#000" stroke-width="5.2" stroke-linecap="round"/>
<line x1="1409.6" y1="1993.9" x2="1433" y2="1993.9" stroke="#000" stroke-width="5.2" stroke-linecap="round"/>
<line x1="1409.6" y1="1923.7" x2="1433" y2="1923.7" stroke="#000" stroke-width="5.2" stroke-linecap="round"/>
<line x1="1409.6" y1="1853.5" x2="1433" y2="1853.5" stroke="#000" stroke-width="5.2" stroke-linecap="round"/>
<line x1="1409.6" y1="1783.3" x2="1433" y2="1783.3" stroke="#000" stroke-width="5.2" stroke-linecap="round"/>
<text transform="translate(1375.7,2205.78) rotate(-90)" textLength="143.06" lengthAdjust="spacingAndGlyphs" font-size="42">0.00000</text>
<text transform="translate(1375.7,1993.86) rotate(-90)" textLength="140.5" lengthAdjust="spacingAndGlyphs" font-size="42">0.00015</text>
<line x1="1545.5" y1="2150.5" x2="1545.5" y2="2171.4" stroke="#000" stroke-width="5.2" stroke-linecap="round"/>
<text x="1489.39" y="2234" textLength="111.75" lengthAdjust="spacingAndGlyphs" font-size="42">20000</text>
<line x1="1741.25" y1="2150.5" x2="1741.25" y2="2171.4" stroke="#000" stroke-width="5.2" stroke-linecap="round"/>
<text x="1685.14" y="2234" textLength="111.75" lengthAdjust="spacingAndGlyphs" font-size="42">25000</text>
<line x1="1937" y1="2150.5" x2="1937" y2="2171.4" stroke="#000" stroke-width="5.2" stroke-linecap="round"/>
<text x="1881.4" y="2234" textLength="111.23" lengthAdjust="spacingAndGlyphs" font-size="42">30000</text>
<line x1="2132.75" y1="2150.5" x2="2132.75" y2="2171.4" stroke="#000" stroke-width="5.2" stroke-linecap="round"/>
<text x="2077.15" y="2234" textLength="111.23" lengthAdjust="spacingAndGlyphs" font-size="42">35000</text>
<line x1="2328.5" y1="2150.5" x2="2328.5" y2="2171.4" stroke="#000" stroke-width="5.2" stroke-linecap="round"/>
<text x="2273.5" y="2234" textLength="110.62" lengthAdjust="spacingAndGlyphs" font-size="42">40000</text>
<text x="1612.89" y="2328.7" textLength="570.64" lengthAdjust="spacingAndGlyphs" font-size="42">Hourly electricity demand &#160;(MW)</text>
<line x1="1433" y1="2134.3" x2="2363" y2="2134.3" stroke="#bebebe" stroke-width="1.2" stroke-linecap="butt"/>
<rect x="1433" y="1769.5" width="930" height="378.8" fill="none" stroke="#000" stroke-width="5.2" stroke-linejoin="round"/>
<path d="M1460.67,2133.86 L1464.08,2133.79 L1467.51,2133.72 L1470.93,2133.65 L1474.35,2133.58 L1477.75,2133.49 L1481.12,2133.38 L1484.38,2133.26 L1487.63,2133.14 L1490.86,2133 L1494.07,2132.84 L1497.24,2132.65 L1500.37,2132.42 L1503.24,2132.18 L1506.07,2131.92 L1508.87,2131.64 L1511.65,2131.31 L1514.43,2130.93 L1517.21,2130.49 L1520.05,2129.99 L1522.9,2129.44 L1525.74,2128.83 L1528.57,2128.17 L1531.34,2127.44 L1534.05,2126.64 L1536.55,2125.82 L1538.99,2124.94 L1541.39,2124.01 L1543.76,2123.01 L1546.12,2121.97 L1548.49,2120.87 L1550.93,2119.69 L1553.35,2118.46 L1555.77,2117.17 L1558.17,2115.83 L1560.56,2114.41 L1562.92,2112.93 L1565.38,2111.3 L1567.81,2109.58 L1570.22,2107.79 L1572.61,2105.94 L1574.99,2104.04 L1577.36,2102.1 L1579.81,2100.03 L1582.23,2097.89 L1584.64,2095.7 L1587.04,2093.46 L1589.42,2091.18 L1591.8,2088.87 L1594.23,2086.43 L1596.64,2083.92 L1599.04,2081.37 L1601.43,2078.81 L1603.83,2076.25 L1606.23,2073.71 L1608.63,2071.21 L1611.03,2068.71 L1613.44,2066.22 L1615.84,2063.73 L1618.25,2061.26 L1620.67,2058.8 L1623.05,2056.32 L1625.42,2053.8 L1627.8,2051.29 L1630.19,2048.85 L1632.62,2046.52 L1635.1,2044.36 L1637.44,2042.5 L1639.8,2040.74 L1642.2,2039.07 L1644.62,2037.51 L1647.07,2036.06 L1649.54,2034.74 L1651.91,2033.58 L1654.32,2032.5 L1656.76,2031.53 L1659.2,2030.68 L1661.61,2029.97 L1663.97,2029.44 L1666.02,2029.12 L1668.05,2028.91 L1670.05,2028.83 L1672.04,2028.85 L1674.02,2028.98 L1676,2029.2 L1678.02,2029.54 L1680.01,2030 L1682,2030.57 L1683.99,2031.23 L1686,2031.98 L1688.03,2032.81 L1690.4,2033.88 L1692.81,2035.1 L1695.23,2036.44 L1697.66,2037.85 L1700.08,2039.3 L1702.47,2040.75 L1704.9,2042.28 L1707.3,2043.89 L1709.7,2045.53 L1712.09,2047.19 L1714.49,2048.81 L1716.91,2050.37 L1719.29,2051.88 L1721.67,2053.38 L1724.06,2054.86 L1726.47,2056.28 L1728.89,2057.6 L1731.34,2058.8 L1733.71,2059.81 L1736.09,2060.74 L1738.5,2061.58 L1740.92,2062.33 L1743.35,2063.01 L1745.78,2063.61 L1748.17,2064.12 L1750.57,2064.55 L1752.97,2064.91 L1755.39,2065.19 L1757.8,2065.4 L1760.21,2065.53 L1762.62,2065.59 L1765.03,2065.57 L1767.44,2065.48 L1769.85,2065.32 L1772.25,2065.1 L1774.65,2064.81 L1777.07,2064.45 L1779.48,2064.01 L1781.89,2063.5 L1784.3,2062.93 L1786.69,2062.32 L1789.09,2061.68 L1791.51,2060.99 L1793.92,2060.23 L1796.33,2059.44 L1798.73,2058.6 L1801.13,2057.74 L1803.52,2056.87 L1805.94,2055.97 L1808.35,2055.05 L1810.76,2054.1 L1813.16,2053.12 L1815.56,2052.12 L1817.96,2051.1 L1820.38,2050.05 L1822.8,2048.99 L1825.22,2047.91 L1827.62,2046.79 L1830.02,2045.61 L1832.39,2044.36 L1834.84,2042.99 L1837.27,2041.57 L1839.69,2040.09 L1842.09,2038.54 L1844.47,2036.92 L1846.83,2035.22 L1849.29,2033.32 L1851.73,2031.33 L1854.14,2029.25 L1856.53,2027.11 L1858.9,2024.93 L1861.27,2022.71 L1863.72,2020.37 L1866.17,2018 L1868.6,2015.58 L1871.01,2013.08 L1873.38,2010.49 L1875.7,2007.79 L1878.18,2004.63 L1880.6,2001.26 L1882.97,1997.78 L1885.32,1994.29 L1887.66,1990.91 L1890,1987.73 L1892.05,1985.13 L1894.09,1982.65 L1896.11,1980.24 L1898.14,1977.88 L1900.16,1975.51 L1902.18,1973.11 L1904.2,1970.64 L1906.21,1968.12 L1908.22,1965.61 L1910.23,1963.14 L1912.28,1960.75 L1914.37,1958.49 L1916.32,1956.44 L1918.26,1954.42 L1920.22,1952.47 L1922.24,1950.64 L1924.34,1948.97 L1926.55,1947.52 L1928.84,1946.3 L1931.26,1945.23 L1933.75,1944.32 L1936.27,1943.57 L1938.76,1943.01 L1941.17,1942.65 L1943.26,1942.48 L1945.33,1942.46 L1947.37,1942.59 L1949.39,1942.87 L1951.39,1943.29 L1953.36,1943.86 L1955.46,1944.67 L1957.54,1945.68 L1959.59,1946.86 L1961.62,1948.19 L1963.6,1949.64 L1965.54,1951.17 L1967.68,1953.06 L1969.77,1955.13 L1971.81,1957.34 L1973.81,1959.68 L1975.78,1962.1 L1977.73,1964.58 L1979.84,1967.4 L1981.9,1970.37 L1983.92,1973.44 L1985.92,1976.57 L1987.91,1979.72 L1989.91,1982.85 L1991.96,1986.06 L1993.99,1989.29 L1996.02,1992.55 L1998.05,1995.82 L2000.07,1999.09 L2002.1,2002.35 L2004.12,2005.62 L2006.14,2008.91 L2008.15,2012.2 L2010.18,2015.47 L2012.22,2018.69 L2014.28,2021.84 L2016.26,2024.78 L2018.23,2027.66 L2020.22,2030.5 L2022.24,2033.32 L2024.32,2036.11 L2026.47,2038.9 L2028.76,2041.79 L2031.12,2044.66 L2033.54,2047.51 L2036,2050.34 L2038.52,2053.16 L2041.09,2055.96 L2043.81,2058.87 L2046.59,2061.8 L2049.43,2064.72 L2052.32,2067.58 L2055.22,2070.36 L2058.15,2073.02 L2060.92,2075.43 L2063.7,2077.74 L2066.5,2079.99 L2069.35,2082.17 L2072.24,2084.31 L2075.2,2086.42 L2078.34,2088.56 L2081.55,2090.64 L2084.81,2092.68 L2088.11,2094.68 L2091.41,2096.66 L2094.7,2098.61 L2097.93,2100.52 L2101.16,2102.42 L2104.4,2104.29 L2107.65,2106.12 L2110.91,2107.89 L2114.19,2109.57 L2117.41,2111.13 L2120.65,2112.62 L2123.9,2114.04 L2127.16,2115.42 L2130.42,2116.77 L2133.69,2118.1 L2136.92,2119.41 L2140.16,2120.71 L2143.4,2121.97 L2146.65,2123.19 L2149.91,2124.34 L2153.18,2125.41 L2156.39,2126.38 L2159.57,2127.28 L2162.76,2128.11 L2165.99,2128.89 L2169.29,2129.61 L2172.68,2130.29 L2176.57,2130.97 L2180.58,2131.6 L2184.67,2132.15 L2188.81,2132.65 L2192.95,2133.08 L2197.05,2133.45 L2201.08,2133.75 L2205.08,2133.96 L2209.09,2134.11 L2213.12,2134.22 L2217.22,2134.32 L2221.42,2134.43 L2226.14,2134.54 L2230.97,2134.64 L2235.87,2134.71 L2240.81,2134.78 L2245.75,2134.84 L2250.66,2134.92" fill="none" stroke="#000" stroke-width="4.8" stroke-linecap="round" stroke-linejoin="round"/>
<path d="M1460.67,2133.86 L1464.08,2133.79 L1467.51,2133.73 L1470.93,2133.67 L1474.35,2133.6 L1477.75,2133.51 L1481.12,2133.38 L1484.38,2133.24 L1487.63,2133.09 L1490.87,2132.91 L1494.07,2132.71 L1497.25,2132.47 L1500.37,2132.18 L1503.25,2131.86 L1506.07,2131.51 L1508.87,2131.13 L1511.65,2130.71 L1514.42,2130.26 L1517.21,2129.77 L1520.04,2129.27 L1522.9,2128.76 L1525.75,2128.21 L1528.57,2127.61 L1531.35,2126.94 L1534.05,2126.16 L1536.55,2125.32 L1538.99,2124.38 L1541.38,2123.38 L1543.75,2122.33 L1546.11,2121.24 L1548.49,2120.15 L1550.92,2119.05 L1553.35,2117.95 L1555.77,2116.81 L1558.18,2115.62 L1560.57,2114.34 L1562.92,2112.93 L1565.39,2111.27 L1567.82,2109.48 L1570.22,2107.58 L1572.61,2105.61 L1574.98,2103.61 L1577.36,2101.62 L1579.79,2099.57 L1582.2,2097.47 L1584.61,2095.34 L1587.01,2093.19 L1589.4,2091.03 L1591.8,2088.87 L1594.21,2086.71 L1596.64,2084.55 L1599.06,2082.39 L1601.47,2080.19 L1603.86,2077.95 L1606.23,2075.64 L1608.67,2073.12 L1611.07,2070.49 L1613.45,2067.82 L1615.83,2065.14 L1618.23,2062.52 L1620.67,2060 L1623.03,2057.64 L1625.39,2055.3 L1627.77,2053.01 L1630.18,2050.79 L1632.62,2048.7 L1635.1,2046.77 L1637.44,2045.12 L1639.81,2043.59 L1642.22,2042.16 L1644.64,2040.81 L1647.09,2039.55 L1649.54,2038.34 L1651.92,2037.21 L1654.34,2036.12 L1656.78,2035.09 L1659.21,2034.17 L1661.61,2033.4 L1663.97,2032.81 L1666.02,2032.45 L1668.04,2032.22 L1670.04,2032.11 L1672.03,2032.09 L1674.02,2032.17 L1676,2032.33 L1678.01,2032.58 L1680,2032.93 L1681.99,2033.38 L1683.98,2033.92 L1685.99,2034.53 L1688.03,2035.22 L1690.4,2036.1 L1692.81,2037.1 L1695.24,2038.2 L1697.67,2039.39 L1700.09,2040.65 L1702.47,2041.95 L1704.91,2043.42 L1707.32,2045 L1709.71,2046.67 L1712.1,2048.35 L1714.49,2050 L1716.91,2051.58 L1719.29,2053.07 L1721.68,2054.54 L1724.08,2055.99 L1726.48,2057.39 L1728.9,2058.74 L1731.34,2060 L1733.72,2061.15 L1736.11,2062.25 L1738.51,2063.28 L1740.92,2064.26 L1743.35,2065.17 L1745.78,2066.01 L1748.16,2066.78 L1750.56,2067.49 L1752.96,2068.14 L1755.37,2068.72 L1757.79,2069.21 L1760.21,2069.62 L1762.61,2069.94 L1765.01,2070.17 L1767.42,2070.32 L1769.83,2070.4 L1772.24,2070.41 L1774.65,2070.34 L1777.06,2070.2 L1779.47,2069.98 L1781.88,2069.68 L1784.29,2069.31 L1786.69,2068.89 L1789.09,2068.42 L1791.51,2067.87 L1793.92,2067.25 L1796.33,2066.57 L1798.73,2065.84 L1801.13,2065.09 L1803.52,2064.33 L1805.94,2063.56 L1808.35,2062.76 L1810.76,2061.94 L1813.17,2061.09 L1815.57,2060.21 L1817.96,2059.28 L1820.38,2058.29 L1822.8,2057.27 L1825.22,2056.22 L1827.62,2055.12 L1830.01,2053.98 L1832.39,2052.78 L1834.83,2051.49 L1837.25,2050.14 L1839.65,2048.74 L1842.05,2047.31 L1844.44,2045.84 L1846.83,2044.36 L1849.25,2042.82 L1851.66,2041.23 L1854.06,2039.61 L1856.46,2037.98 L1858.86,2036.35 L1861.27,2034.74 L1863.68,2033.15 L1866.1,2031.59 L1868.52,2030.03 L1870.93,2028.45 L1873.33,2026.82 L1875.7,2025.11 L1878.14,2023.27 L1880.59,2021.38 L1883.01,2019.44 L1885.4,2017.45 L1887.74,2015.41 L1890,2013.32 L1892.15,2011.19 L1894.22,2009.01 L1896.23,2006.78 L1898.22,2004.51 L1900.19,2002.22 L1902.18,1999.91 L1904.23,1997.51 L1906.25,1995.04 L1908.26,1992.54 L1910.27,1990.06 L1912.3,1987.63 L1914.37,1985.29 L1916.36,1983.15 L1918.38,1981.07 L1920.41,1979.03 L1922.45,1977.04 L1924.5,1975.06 L1926.55,1973.11 L1928.54,1971.18 L1930.5,1969.25 L1932.47,1967.34 L1934.48,1965.49 L1936.56,1963.75 L1938.74,1962.14 L1941.04,1960.66 L1943.46,1959.26 L1945.94,1957.96 L1948.45,1956.77 L1950.93,1955.73 L1953.36,1954.83 L1955.42,1954.14 L1957.46,1953.52 L1959.49,1953.01 L1961.51,1952.62 L1963.53,1952.41 L1965.54,1952.39 L1967.59,1952.61 L1969.64,1953.04 L1971.68,1953.64 L1973.72,1954.37 L1975.74,1955.18 L1977.73,1956.05 L1979.81,1957.02 L1981.88,1958.09 L1983.93,1959.26 L1985.96,1960.53 L1987.95,1961.89 L1989.91,1963.36 L1992.03,1965.1 L1994.11,1966.98 L1996.15,1968.99 L1998.16,1971.09 L2000.14,1973.28 L2002.1,1975.54 L2004.2,1978.17 L2006.26,1980.95 L2008.27,1983.84 L2010.27,1986.77 L2012.27,1989.71 L2014.28,1992.6 L2016.31,1995.44 L2018.34,1998.29 L2020.37,2001.13 L2022.4,2003.97 L2024.43,2006.82 L2026.47,2009.66 L2028.5,2012.5 L2030.53,2015.35 L2032.56,2018.19 L2034.59,2021.03 L2036.62,2023.87 L2038.65,2026.72 L2040.67,2029.58 L2042.69,2032.47 L2044.7,2035.36 L2046.73,2038.22 L2048.77,2041.03 L2050.83,2043.78 L2052.82,2046.3 L2054.8,2048.76 L2056.8,2051.17 L2058.83,2053.56 L2060.89,2055.96 L2063.02,2058.4 L2065.35,2061.04 L2067.74,2063.73 L2070.18,2066.42 L2072.66,2069.09 L2075.15,2071.7 L2077.64,2074.24 L2080.02,2076.59 L2082.4,2078.89 L2084.79,2081.14 L2087.22,2083.35 L2089.71,2085.52 L2092.26,2087.64 L2094.96,2089.78 L2097.73,2091.88 L2100.55,2093.93 L2103.43,2095.94 L2106.35,2097.9 L2109.32,2099.82 L2112.46,2101.76 L2115.67,2103.64 L2118.93,2105.48 L2122.23,2107.28 L2125.53,2109.05 L2128.81,2110.79 L2132.04,2112.52 L2135.27,2114.25 L2138.51,2115.95 L2141.75,2117.59 L2145.02,2119.13 L2148.31,2120.54 L2151.52,2121.77 L2154.75,2122.9 L2158,2123.94 L2161.26,2124.9 L2164.53,2125.79 L2167.8,2126.63 L2171.01,2127.39 L2174.2,2128.07 L2177.39,2128.69 L2180.62,2129.26 L2183.91,2129.78 L2187.3,2130.29 L2191.17,2130.81 L2195.13,2131.27 L2199.16,2131.69 L2203.27,2132.07 L2207.44,2132.41 L2211.67,2132.72 L2216.35,2133.02 L2221.09,2133.27 L2225.92,2133.47 L2230.82,2133.65 L2235.82,2133.8 L2240.91,2133.94 L2246.77,2134.08 L2252.79,2134.17 L2258.93,2134.24 L2265.13,2134.3 L2271.33,2134.36 L2277.46,2134.43" fill="none" stroke="#f00" stroke-width="4.8" stroke-linecap="round" stroke-linejoin="round" stroke-dasharray="9.8 20.2"/>
<rect x="1433" y="1769.5" width="460.2" height="142.5" fill="#fff" stroke="#000" stroke-width="5" stroke-linejoin="round"/>
<line x1="1468.6" y1="1817" x2="1540.2" y2="1817" stroke="#000" stroke-width="7.8" stroke-linecap="round"/>
<line x1="1468.6" y1="1864.5" x2="1540.2" y2="1864.5" stroke="#f00" stroke-width="7.8" stroke-linecap="round" stroke-dasharray="23 37"/>
<text x="1576.4" y="1830.9" textLength="130.16" lengthAdjust="spacingAndGlyphs" font-size="42">Actuals</text>
<text x="1575.22" y="1878.7" textLength="287.05" lengthAdjust="spacingAndGlyphs" font-size="42">Forecasts(June)</text>
</g>
</svg>
</body></html>
